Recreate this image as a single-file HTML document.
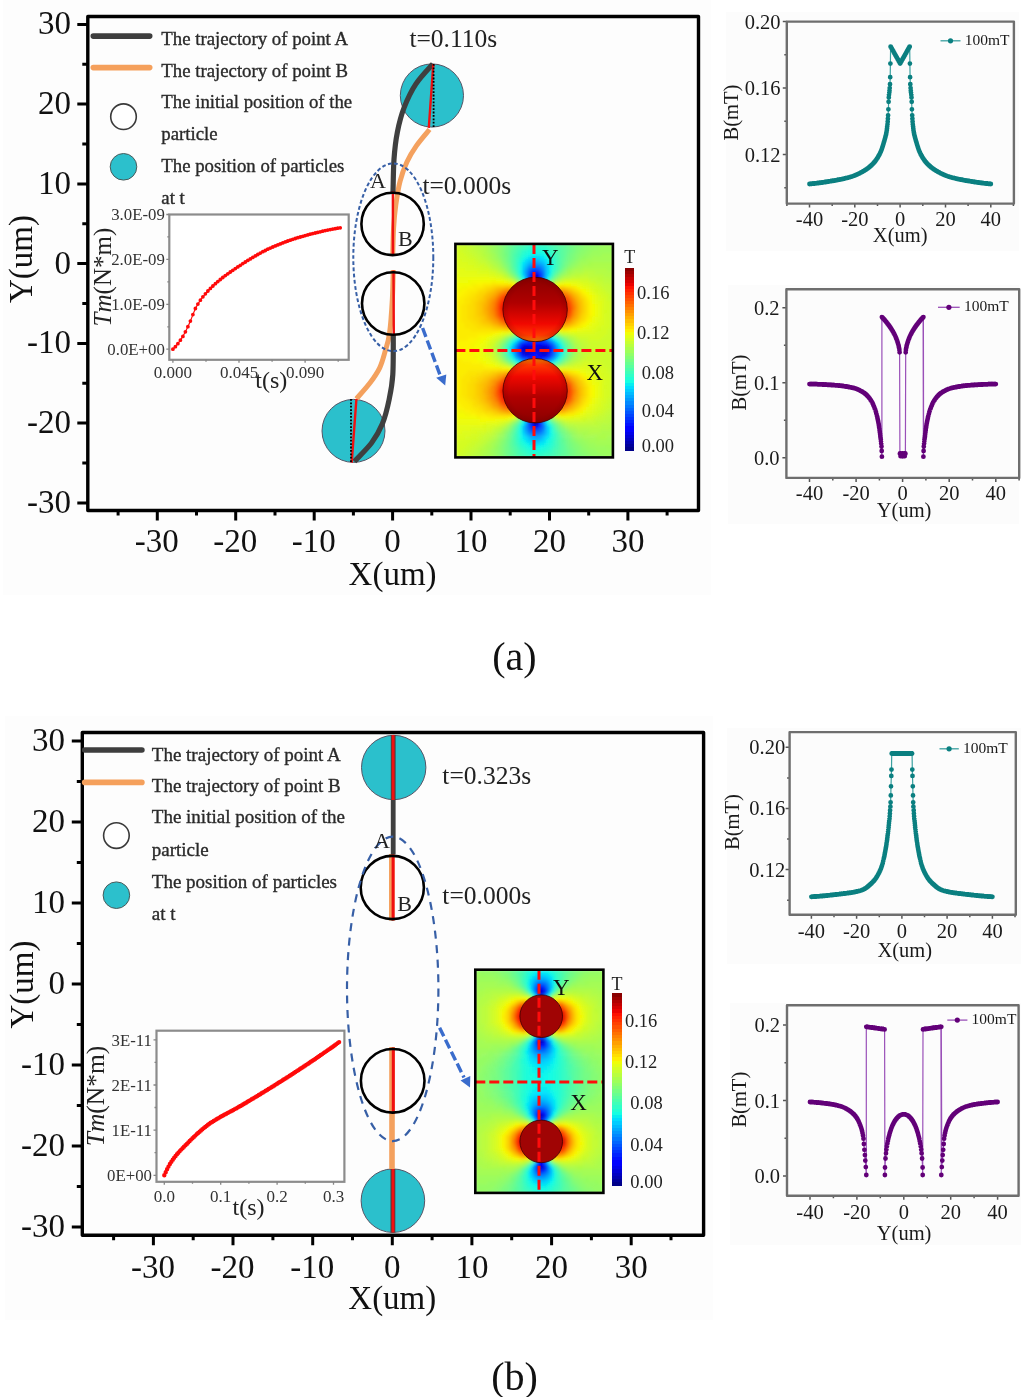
<!DOCTYPE html><html><head><meta charset="utf-8"><style>html,body{margin:0;padding:0;background:#fff}svg{display:block;filter:blur(0.6px)}</style></head><body>
<svg width="1025" height="1397" viewBox="0 0 1025 1397" font-family="Liberation Serif, serif">
<rect width="1025" height="1397" fill="#fff"/>
<rect x="3" y="0" width="708" height="595" fill="#fdfdfd"/>
<rect x="5" y="716" width="708" height="604" fill="#fdfdfd"/>
<path fill="#fcfcfc" d="M726 12H1019V251H726ZM728 285H1019V524H728ZM727 728H1021V964H727ZM730 1003H1021V1245H730Z"/>
<path d="M77.3 502.9H87.8M157.3 510.5V520.5M77.3 423.1H87.8M235.7 510.5V520.5M77.3 343.4H87.8M314.2 510.5V520.5M77.3 263.6H87.8M392.6 510.5V520.5M77.3 183.9H87.8M471 510.5V520.5M77.3 104.1H87.8M549.5 510.5V520.5M77.3 24.4H87.8M627.9 510.5V520.5M82.3 463H87.8M82.3 383.3H87.8M82.3 303.5H87.8M82.3 223.8H87.8M82.3 144H87.8M82.3 64.3H87.8M118.1 510.5V515.5M196.5 510.5V515.5M275 510.5V515.5M353.4 510.5V515.5M431.8 510.5V515.5M510.2 510.5V515.5M588.7 510.5V515.5M667.1 510.5V515.5" stroke="#000" stroke-width="3" fill="none"/>
<rect x="87.8" y="16.5" width="610.7" height="494" fill="none" stroke="#000" stroke-width="3.4" stroke-linejoin="round"/>
<text x="71" y="512.8" font-size="33" text-anchor="end" fill="#111" >-30</text>
<text x="156.8" y="552" font-size="33" text-anchor="middle" fill="#111" >-30</text>
<text x="71" y="433" font-size="33" text-anchor="end" fill="#111" >-20</text>
<text x="235.2" y="552" font-size="33" text-anchor="middle" fill="#111" >-20</text>
<text x="71" y="353.3" font-size="33" text-anchor="end" fill="#111" >-10</text>
<text x="313.7" y="552" font-size="33" text-anchor="middle" fill="#111" >-10</text>
<text x="71" y="273.5" font-size="33" text-anchor="end" fill="#111" >0</text>
<text x="392.6" y="552" font-size="33" text-anchor="middle" fill="#111" >0</text>
<text x="71" y="193.8" font-size="33" text-anchor="end" fill="#111" >10</text>
<text x="471" y="552" font-size="33" text-anchor="middle" fill="#111" >10</text>
<text x="71" y="114" font-size="33" text-anchor="end" fill="#111" >20</text>
<text x="549.5" y="552" font-size="33" text-anchor="middle" fill="#111" >20</text>
<text x="71" y="34.3" font-size="33" text-anchor="end" fill="#111" >30</text>
<text x="627.9" y="552" font-size="33" text-anchor="middle" fill="#111" >30</text>
<text x="392.6" y="584.5" font-size="33" text-anchor="middle" fill="#111" >X(um)</text>
<text transform="translate(32,259) rotate(-90)" font-size="33" text-anchor="middle" fill="#111">Y(um)</text>
<path d="M93.3 36.1H149.7" stroke="#3e3e3e" stroke-width="5.6" stroke-linecap="round"/>
<path d="M93.3 67.6H149.7" stroke="#f5a05c" stroke-width="5.6" stroke-linecap="round"/>
<circle cx="123.5" cy="116.7" r="12.8" fill="#fff" stroke="#3a3a3a" stroke-width="1.6"/>
<circle cx="123.5" cy="166.8" r="13.3" fill="#2cc0cc" stroke="#4a5a5a" stroke-width="1"/>
<text x="161.3" y="45.2" font-size="18.8" text-anchor="start" fill="#2a2a2a" stroke="#2a2a2a" stroke-width="0.35">The trajectory of point A</text>
<text x="161.3" y="76.9" font-size="18.8" text-anchor="start" fill="#2a2a2a" stroke="#2a2a2a" stroke-width="0.35">The trajectory of point B</text>
<text x="161.3" y="107.9" font-size="18.8" text-anchor="start" fill="#2a2a2a" stroke="#2a2a2a" stroke-width="0.35">The initial position of the</text>
<text x="161.3" y="139.6" font-size="18.8" text-anchor="start" fill="#2a2a2a" stroke="#2a2a2a" stroke-width="0.35">particle</text>
<text x="161.3" y="171.7" font-size="18.8" text-anchor="start" fill="#2a2a2a" stroke="#2a2a2a" stroke-width="0.35">The position of particles</text>
<text x="161.3" y="203.6" font-size="18.8" text-anchor="start" fill="#2a2a2a" stroke="#2a2a2a" stroke-width="0.35">at t</text>
<path d="M71.8 1227.1H82.3M153.4 1235.3V1245.3M71.8 1146.1H82.3M233 1235.3V1245.3M71.8 1065H82.3M312.7 1235.3V1245.3M71.8 984H82.3M392.3 1235.3V1245.3M71.8 903H82.3M471.9 1235.3V1245.3M71.8 821.9H82.3M551.6 1235.3V1245.3M71.8 740.9H82.3M631.2 1235.3V1245.3M76.8 1186.6H82.3M76.8 1105.5H82.3M76.8 1024.5H82.3M76.8 943.5H82.3M76.8 862.5H82.3M76.8 781.4H82.3M113.6 1235.3V1240.3M193.2 1235.3V1240.3M272.9 1235.3V1240.3M352.5 1235.3V1240.3M432.1 1235.3V1240.3M511.7 1235.3V1240.3M591.4 1235.3V1240.3M671 1235.3V1240.3" stroke="#000" stroke-width="3" fill="none"/>
<rect x="82.3" y="732.5" width="621.3" height="502.8" fill="none" stroke="#000" stroke-width="3.4" stroke-linejoin="round"/>
<text x="65" y="1237" font-size="33" text-anchor="end" fill="#111" >-30</text>
<text x="152.9" y="1278" font-size="33" text-anchor="middle" fill="#111" >-30</text>
<text x="65" y="1156" font-size="33" text-anchor="end" fill="#111" >-20</text>
<text x="232.5" y="1278" font-size="33" text-anchor="middle" fill="#111" >-20</text>
<text x="65" y="1074.9" font-size="33" text-anchor="end" fill="#111" >-10</text>
<text x="312.2" y="1278" font-size="33" text-anchor="middle" fill="#111" >-10</text>
<text x="65" y="993.9" font-size="33" text-anchor="end" fill="#111" >0</text>
<text x="392.3" y="1278" font-size="33" text-anchor="middle" fill="#111" >0</text>
<text x="65" y="912.9" font-size="33" text-anchor="end" fill="#111" >10</text>
<text x="471.9" y="1278" font-size="33" text-anchor="middle" fill="#111" >10</text>
<text x="65" y="831.8" font-size="33" text-anchor="end" fill="#111" >20</text>
<text x="551.6" y="1278" font-size="33" text-anchor="middle" fill="#111" >20</text>
<text x="65" y="750.8" font-size="33" text-anchor="end" fill="#111" >30</text>
<text x="631.2" y="1278" font-size="33" text-anchor="middle" fill="#111" >30</text>
<text x="392.3" y="1308.5" font-size="33" text-anchor="middle" fill="#111" >X(um)</text>
<text transform="translate(33,984.5) rotate(-90)" font-size="33" text-anchor="middle" fill="#111">Y(um)</text>
<path d="M84.7 750H141.9" stroke="#3e3e3e" stroke-width="5.6" stroke-linecap="round"/>
<path d="M84.7 782.4H141.9" stroke="#f5a05c" stroke-width="5.6" stroke-linecap="round"/>
<circle cx="116.4" cy="835.6" r="12.8" fill="#fff" stroke="#3a3a3a" stroke-width="1.6"/>
<circle cx="116.4" cy="895.2" r="13.3" fill="#2cc0cc" stroke="#4a5a5a" stroke-width="1"/>
<text x="151.8" y="760.6" font-size="19" text-anchor="start" fill="#2a2a2a" stroke="#2a2a2a" stroke-width="0.35">The trajectory of point A</text>
<text x="151.8" y="791.6" font-size="19" text-anchor="start" fill="#2a2a2a" stroke="#2a2a2a" stroke-width="0.35">The trajectory of point B</text>
<text x="151.8" y="823.3" font-size="19" text-anchor="start" fill="#2a2a2a" stroke="#2a2a2a" stroke-width="0.35">The initial position of the</text>
<text x="151.8" y="856.2" font-size="19" text-anchor="start" fill="#2a2a2a" stroke="#2a2a2a" stroke-width="0.35">particle</text>
<text x="151.8" y="887.8" font-size="19" text-anchor="start" fill="#2a2a2a" stroke="#2a2a2a" stroke-width="0.35">The position of particles</text>
<text x="151.8" y="920.4" font-size="19" text-anchor="start" fill="#2a2a2a" stroke="#2a2a2a" stroke-width="0.35">at t</text>
<path d="M782.8 154.5H786.8M782.8 88H786.8M782.8 21.6H786.8M784.3 187.7H786.8M784.3 121.3H786.8M784.3 54.8H786.8M809.5 203.6V207.6M854.8 203.6V207.6M900.1 203.6V207.6M945.5 203.6V207.6M990.8 203.6V207.6M786.9 203.6V206.1M832.2 203.6V206.1M877.5 203.6V206.1M922.8 203.6V206.1M968.1 203.6V206.1M1013.4 203.6V206.1" stroke="#555" stroke-width="1.5" fill="none"/>
<rect x="786.8" y="21.6" width="227.1" height="182" fill="none" stroke="#6e6e6e" stroke-width="2.4" stroke-linejoin="round"/>
<text x="780.5" y="161.5" font-size="20.5" text-anchor="end" fill="#1a1a1a" >0.12</text>
<text x="780.5" y="95" font-size="20.5" text-anchor="end" fill="#1a1a1a" >0.16</text>
<text x="780.5" y="28.6" font-size="20.5" text-anchor="end" fill="#1a1a1a" >0.20</text>
<text x="809.5" y="226" font-size="20.5" text-anchor="middle" fill="#1a1a1a" >-40</text>
<text x="854.8" y="226" font-size="20.5" text-anchor="middle" fill="#1a1a1a" >-20</text>
<text x="900.1" y="226" font-size="20.5" text-anchor="middle" fill="#1a1a1a" >0</text>
<text x="945.5" y="226" font-size="20.5" text-anchor="middle" fill="#1a1a1a" >20</text>
<text x="990.8" y="226" font-size="20.5" text-anchor="middle" fill="#1a1a1a" >40</text>
<text x="900.2" y="241.5" font-size="20.5" text-anchor="middle" fill="#1a1a1a" >X(um)</text>
<text transform="translate(737.6,112.5) rotate(-90)" font-size="20.5" text-anchor="middle" fill="#1a1a1a">B(mT)</text>
<path d="M940.5 40.8H960.5" stroke="#3aa0a0" stroke-width="1.3"/>
<circle cx="950.5" cy="40.8" r="2.6" fill="#0a7f80"/>
<text x="964.7" y="44.6" font-size="15.5" text-anchor="start" fill="#1a1a1a" >100mT</text>
<path d="M809.5 184L810.1 183.9L810.6 183.9L811.2 183.8L811.8 183.8L812.3 183.7L812.9 183.7L813.5 183.6L814 183.5L814.6 183.5L815.2 183.4L815.7 183.4L816.3 183.3L816.9 183.2L817.4 183.2L818 183.1L818.6 183L819.1 182.9L819.7 182.9L820.3 182.8L820.8 182.7L821.4 182.6L822 182.5L822.5 182.5L823.1 182.4L823.7 182.3L824.2 182.2L824.8 182.1L825.4 182L825.9 182L826.5 181.9L827.1 181.8L827.6 181.7L828.2 181.6L828.8 181.5L829.3 181.4L829.9 181.3L830.5 181.2L831 181.1L831.6 181L832.2 180.9L832.7 180.9L833.3 180.8L833.9 180.7L834.4 180.6L835 180.5L835.6 180.4L836.1 180.3L836.7 180.2L837.3 180L837.8 179.9L838.4 179.8L839 179.7L839.5 179.6L840.1 179.5L840.7 179.4L841.2 179.3L841.8 179.1L842.4 179L842.9 178.9L843.5 178.8L844.1 178.6L844.6 178.5L845.2 178.4L845.8 178.2L846.3 178.1L846.9 177.9L847.5 177.8L848 177.6L848.6 177.5L849.2 177.3L849.7 177.2L850.3 177L850.9 176.8L851.4 176.6L852 176.5L852.6 176.3L853.1 176.1L853.7 175.9L854.3 175.7L854.8 175.4L855.4 175.2L856 175L856.5 174.7L857.1 174.5L857.7 174.2L858.2 173.9L858.8 173.7L859.4 173.4L859.9 173.1L860.5 172.8L861.1 172.5L861.6 172.2L862.2 171.9L862.8 171.6L863.3 171.2L863.9 170.9L864.5 170.6L865 170.2L865.6 169.8L866.2 169.5L866.7 169.1L867.3 168.7L867.9 168.3L868.4 167.8L869 167.4L869.6 166.9L870.1 166.4L870.7 165.9L871.3 165.4L871.8 164.9L872.4 164.3L873 163.8L873.5 163.2L874.1 162.5L874.7 161.9L875.2 161.2L875.8 160.4L876.4 159.6L876.9 158.8L877.5 157.9L878.1 157L878.6 156L879.2 155L879.8 153.9L880.3 152.7L880.9 151.5L881.5 150L882 148.4L882.2 147.7L882.5 147L882.7 146.3L882.9 145.6L883.2 144.8L883.4 144.1L883.6 143.3L883.8 142.5L884.1 141.8L884.3 141L884.5 140.2L884.7 139.4L885 138.6L885.2 137.8L885.4 137L885.6 136.1L885.9 135.2L886.1 134.2L886.3 133L886.6 131.7L886.8 130.2L887 128.5L887.2 126.6L887.5 124.3L887.7 121.7L887.9 118.7L888.1 115.3L888.4 109.3L888.6 101.8L888.8 97.4L889 94.7L889.3 92.6L889.5 90.7L889.7 88.1L890 84.2L890.2 77.2L890.4 63.6L890.6 46.7L890.9 47.1L891.1 47.5L891.3 47.9L891.5 48.3L891.8 48.7L892 49.1L892.2 49.5L892.4 49.9L892.7 50.3L892.9 50.7L893.1 51.1L893.4 51.5L893.6 51.9L893.8 52.4L894 52.8L894.3 53.2L894.5 53.6L894.7 54L894.9 54.4L895.2 54.8L895.4 55.2L895.6 55.6L895.8 56L896.1 56.4L896.3 56.8L896.5 57.2L896.8 57.6L897 58L897.2 58.4L897.4 58.8L897.7 59.2L897.9 59.6L898.1 60L898.3 60.4L898.6 60.8L898.8 61.2L899 61.6L899.2 62L899.5 62.4L899.7 62.8L899.9 63.2L900.1 63.6L900.4 63.2L900.6 62.8L900.8 62.4L901.1 62L901.3 61.6L901.5 61.2L901.7 60.8L902 60.4L902.2 60L902.4 59.6L902.6 59.2L902.9 58.8L903.1 58.4L903.3 58L903.5 57.6L903.8 57.2L904 56.8L904.2 56.4L904.5 56L904.7 55.6L904.9 55.2L905.1 54.8L905.4 54.4L905.6 54L905.8 53.6L906 53.2L906.3 52.8L906.5 52.4L906.7 51.9L906.9 51.5L907.2 51.1L907.4 50.7L907.6 50.3L907.9 49.9L908.1 49.5L908.3 49.1L908.5 48.7L908.8 48.3L909 47.9L909.2 47.5L909.4 47.1L909.7 46.7L909.9 63.6L910.1 77.2L910.3 84.2L910.6 88.1L910.8 90.7L911 92.6L911.3 94.7L911.5 97.4L911.7 101.8L911.9 109.3L912.2 115.3L912.4 118.7L912.6 121.7L912.8 124.3L913.1 126.6L913.3 128.5L913.5 130.2L913.7 131.7L914 133L914.2 134.2L914.4 135.2L914.7 136.1L914.9 137L915.1 137.8L915.3 138.6L915.6 139.4L915.8 140.2L916 141L916.2 141.8L916.5 142.5L916.7 143.3L916.9 144.1L917.1 144.8L917.4 145.6L917.6 146.3L917.8 147L918.1 147.7L918.3 148.4L918.8 150L919.4 151.5L920 152.7L920.5 153.9L921.1 155L921.7 156L922.2 157L922.8 157.9L923.4 158.8L923.9 159.6L924.5 160.4L925.1 161.2L925.6 161.9L926.2 162.5L926.8 163.2L927.3 163.8L927.9 164.3L928.5 164.9L929 165.4L929.6 165.9L930.2 166.4L930.7 166.9L931.3 167.4L931.9 167.8L932.4 168.3L933 168.7L933.6 169.1L934.1 169.5L934.7 169.8L935.3 170.2L935.8 170.6L936.4 170.9L937 171.2L937.5 171.6L938.1 171.9L938.7 172.2L939.2 172.5L939.8 172.8L940.4 173.1L940.9 173.4L941.5 173.7L942.1 173.9L942.6 174.2L943.2 174.5L943.8 174.7L944.3 175L944.9 175.2L945.5 175.4L946 175.7L946.6 175.9L947.2 176.1L947.7 176.3L948.3 176.5L948.9 176.6L949.4 176.8L950 177L950.6 177.2L951.1 177.3L951.7 177.5L952.3 177.6L952.8 177.8L953.4 177.9L954 178.1L954.5 178.2L955.1 178.4L955.7 178.5L956.2 178.6L956.8 178.8L957.4 178.9L957.9 179L958.5 179.1L959.1 179.3L959.6 179.4L960.2 179.5L960.8 179.6L961.3 179.7L961.9 179.8L962.5 179.9L963 180L963.6 180.2L964.2 180.3L964.7 180.4L965.3 180.5L965.9 180.6L966.4 180.7L967 180.8L967.6 180.9L968.1 180.9L968.7 181L969.3 181.1L969.8 181.2L970.4 181.3L971 181.4L971.5 181.5L972.1 181.6L972.7 181.7L973.2 181.8L973.8 181.9L974.4 182L974.9 182L975.5 182.1L976.1 182.2L976.6 182.3L977.2 182.4L977.8 182.5L978.3 182.5L978.9 182.6L979.5 182.7L980 182.8L980.6 182.9L981.2 182.9L981.7 183L982.3 183.1L982.9 183.2L983.4 183.2L984 183.3L984.6 183.4L985.1 183.4L985.7 183.5L986.3 183.5L986.8 183.6L987.4 183.7L988 183.7L988.5 183.8L989.1 183.8L989.7 183.9L990.2 183.9L990.8 184" stroke="#3aa0a0" stroke-width="1.2" fill="none"/>
<path d="M809.5 184h0M810.1 183.9h0M810.6 183.9h0M811.2 183.8h0M811.8 183.8h0M812.3 183.7h0M812.9 183.7h0M813.5 183.6h0M814 183.5h0M814.6 183.5h0M815.2 183.4h0M815.7 183.4h0M816.3 183.3h0M816.9 183.2h0M817.4 183.2h0M818 183.1h0M818.6 183h0M819.1 182.9h0M819.7 182.9h0M820.3 182.8h0M820.8 182.7h0M821.4 182.6h0M822 182.5h0M822.5 182.5h0M823.1 182.4h0M823.7 182.3h0M824.2 182.2h0M824.8 182.1h0M825.4 182h0M825.9 182h0M826.5 181.9h0M827.1 181.8h0M827.6 181.7h0M828.2 181.6h0M828.8 181.5h0M829.3 181.4h0M829.9 181.3h0M830.5 181.2h0M831 181.1h0M831.6 181h0M832.2 180.9h0M832.7 180.9h0M833.3 180.8h0M833.9 180.7h0M834.4 180.6h0M835 180.5h0M835.6 180.4h0M836.1 180.3h0M836.7 180.2h0M837.3 180h0M837.8 179.9h0M838.4 179.8h0M839 179.7h0M839.5 179.6h0M840.1 179.5h0M840.7 179.4h0M841.2 179.3h0M841.8 179.1h0M842.4 179h0M842.9 178.9h0M843.5 178.8h0M844.1 178.6h0M844.6 178.5h0M845.2 178.4h0M845.8 178.2h0M846.3 178.1h0M846.9 177.9h0M847.5 177.8h0M848 177.6h0M848.6 177.5h0M849.2 177.3h0M849.7 177.2h0M850.3 177h0M850.9 176.8h0M851.4 176.6h0M852 176.5h0M852.6 176.3h0M853.1 176.1h0M853.7 175.9h0M854.3 175.7h0M854.8 175.4h0M855.4 175.2h0M856 175h0M856.5 174.7h0M857.1 174.5h0M857.7 174.2h0M858.2 173.9h0M858.8 173.7h0M859.4 173.4h0M859.9 173.1h0M860.5 172.8h0M861.1 172.5h0M861.6 172.2h0M862.2 171.9h0M862.8 171.6h0M863.3 171.2h0M863.9 170.9h0M864.5 170.6h0M865 170.2h0M865.6 169.8h0M866.2 169.5h0M866.7 169.1h0M867.3 168.7h0M867.9 168.3h0M868.4 167.8h0M869 167.4h0M869.6 166.9h0M870.1 166.4h0M870.7 165.9h0M871.3 165.4h0M871.8 164.9h0M872.4 164.3h0M873 163.8h0M873.5 163.2h0M874.1 162.5h0M874.7 161.9h0M875.2 161.2h0M875.8 160.4h0M876.4 159.6h0M876.9 158.8h0M877.5 157.9h0M878.1 157h0M878.6 156h0M879.2 155h0M879.8 153.9h0M880.3 152.7h0M880.9 151.5h0M881.5 150h0M882 148.4h0M882.2 147.7h0M882.5 147h0M882.7 146.3h0M882.9 145.6h0M883.2 144.8h0M883.4 144.1h0M883.6 143.3h0M883.8 142.5h0M884.1 141.8h0M884.3 141h0M884.5 140.2h0M884.7 139.4h0M885 138.6h0M885.2 137.8h0M885.4 137h0M885.6 136.1h0M885.9 135.2h0M886.1 134.2h0M886.3 133h0M886.6 131.7h0M886.8 130.2h0M887 128.5h0M887.2 126.6h0M887.5 124.3h0M887.7 121.7h0M887.9 118.7h0M888.1 115.3h0M888.4 109.3h0M888.6 101.8h0M888.8 97.4h0M889 94.7h0M889.3 92.6h0M889.5 90.7h0M889.7 88.1h0M890 84.2h0M890.2 77.2h0M890.4 63.6h0M890.6 46.7h0M890.9 47.1h0M891.1 47.5h0M891.3 47.9h0M891.5 48.3h0M891.8 48.7h0M892 49.1h0M892.2 49.5h0M892.4 49.9h0M892.7 50.3h0M892.9 50.7h0M893.1 51.1h0M893.4 51.5h0M893.6 51.9h0M893.8 52.4h0M894 52.8h0M894.3 53.2h0M894.5 53.6h0M894.7 54h0M894.9 54.4h0M895.2 54.8h0M895.4 55.2h0M895.6 55.6h0M895.8 56h0M896.1 56.4h0M896.3 56.8h0M896.5 57.2h0M896.8 57.6h0M897 58h0M897.2 58.4h0M897.4 58.8h0M897.7 59.2h0M897.9 59.6h0M898.1 60h0M898.3 60.4h0M898.6 60.8h0M898.8 61.2h0M899 61.6h0M899.2 62h0M899.5 62.4h0M899.7 62.8h0M899.9 63.2h0M900.1 63.6h0M900.4 63.2h0M900.6 62.8h0M900.8 62.4h0M901.1 62h0M901.3 61.6h0M901.5 61.2h0M901.7 60.8h0M902 60.4h0M902.2 60h0M902.4 59.6h0M902.6 59.2h0M902.9 58.8h0M903.1 58.4h0M903.3 58h0M903.5 57.6h0M903.8 57.2h0M904 56.8h0M904.2 56.4h0M904.5 56h0M904.7 55.6h0M904.9 55.2h0M905.1 54.8h0M905.4 54.4h0M905.6 54h0M905.8 53.6h0M906 53.2h0M906.3 52.8h0M906.5 52.4h0M906.7 51.9h0M906.9 51.5h0M907.2 51.1h0M907.4 50.7h0M907.6 50.3h0M907.9 49.9h0M908.1 49.5h0M908.3 49.1h0M908.5 48.7h0M908.8 48.3h0M909 47.9h0M909.2 47.5h0M909.4 47.1h0M909.7 46.7h0M909.9 63.6h0M910.1 77.2h0M910.3 84.2h0M910.6 88.1h0M910.8 90.7h0M911 92.6h0M911.3 94.7h0M911.5 97.4h0M911.7 101.8h0M911.9 109.3h0M912.2 115.3h0M912.4 118.7h0M912.6 121.7h0M912.8 124.3h0M913.1 126.6h0M913.3 128.5h0M913.5 130.2h0M913.7 131.7h0M914 133h0M914.2 134.2h0M914.4 135.2h0M914.7 136.1h0M914.9 137h0M915.1 137.8h0M915.3 138.6h0M915.6 139.4h0M915.8 140.2h0M916 141h0M916.2 141.8h0M916.5 142.5h0M916.7 143.3h0M916.9 144.1h0M917.1 144.8h0M917.4 145.6h0M917.6 146.3h0M917.8 147h0M918.1 147.7h0M918.3 148.4h0M918.8 150h0M919.4 151.5h0M920 152.7h0M920.5 153.9h0M921.1 155h0M921.7 156h0M922.2 157h0M922.8 157.9h0M923.4 158.8h0M923.9 159.6h0M924.5 160.4h0M925.1 161.2h0M925.6 161.9h0M926.2 162.5h0M926.8 163.2h0M927.3 163.8h0M927.9 164.3h0M928.5 164.9h0M929 165.4h0M929.6 165.9h0M930.2 166.4h0M930.7 166.9h0M931.3 167.4h0M931.9 167.8h0M932.4 168.3h0M933 168.7h0M933.6 169.1h0M934.1 169.5h0M934.7 169.8h0M935.3 170.2h0M935.8 170.6h0M936.4 170.9h0M937 171.2h0M937.5 171.6h0M938.1 171.9h0M938.7 172.2h0M939.2 172.5h0M939.8 172.8h0M940.4 173.1h0M940.9 173.4h0M941.5 173.7h0M942.1 173.9h0M942.6 174.2h0M943.2 174.5h0M943.8 174.7h0M944.3 175h0M944.9 175.2h0M945.5 175.4h0M946 175.7h0M946.6 175.9h0M947.2 176.1h0M947.7 176.3h0M948.3 176.5h0M948.9 176.6h0M949.4 176.8h0M950 177h0M950.6 177.2h0M951.1 177.3h0M951.7 177.5h0M952.3 177.6h0M952.8 177.8h0M953.4 177.9h0M954 178.1h0M954.5 178.2h0M955.1 178.4h0M955.7 178.5h0M956.2 178.6h0M956.8 178.8h0M957.4 178.9h0M957.9 179h0M958.5 179.1h0M959.1 179.3h0M959.6 179.4h0M960.2 179.5h0M960.8 179.6h0M961.3 179.7h0M961.9 179.8h0M962.5 179.9h0M963 180h0M963.6 180.2h0M964.2 180.3h0M964.7 180.4h0M965.3 180.5h0M965.9 180.6h0M966.4 180.7h0M967 180.8h0M967.6 180.9h0M968.1 180.9h0M968.7 181h0M969.3 181.1h0M969.8 181.2h0M970.4 181.3h0M971 181.4h0M971.5 181.5h0M972.1 181.6h0M972.7 181.7h0M973.2 181.8h0M973.8 181.9h0M974.4 182h0M974.9 182h0M975.5 182.1h0M976.1 182.2h0M976.6 182.3h0M977.2 182.4h0M977.8 182.5h0M978.3 182.5h0M978.9 182.6h0M979.5 182.7h0M980 182.8h0M980.6 182.9h0M981.2 182.9h0M981.7 183h0M982.3 183.1h0M982.9 183.2h0M983.4 183.2h0M984 183.3h0M984.6 183.4h0M985.1 183.4h0M985.7 183.5h0M986.3 183.5h0M986.8 183.6h0M987.4 183.7h0M988 183.7h0M988.5 183.8h0M989.1 183.8h0M989.7 183.9h0M990.2 183.9h0M990.8 184h0" stroke="#0a7f80" stroke-width="4.8" stroke-linecap="round" fill="none"/>
<path d="M782.4 457.8H786.4M782.4 382.8H786.4M782.4 307.8H786.4M783.9 420.3H786.4M783.9 345.3H786.4M809.5 477.9V481.9M856.1 477.9V481.9M902.6 477.9V481.9M949.2 477.9V481.9M995.8 477.9V481.9M832.8 477.9V480.4M879.4 477.9V480.4M925.9 477.9V480.4M972.5 477.9V480.4M1019.1 477.9V480.4" stroke="#555" stroke-width="1.5" fill="none"/>
<rect x="786.4" y="289.2" width="232.8" height="188.7" fill="none" stroke="#6e6e6e" stroke-width="2.4" stroke-linejoin="round"/>
<text x="779.5" y="464.8" font-size="20.5" text-anchor="end" fill="#1a1a1a" >0.0</text>
<text x="779.5" y="389.8" font-size="20.5" text-anchor="end" fill="#1a1a1a" >0.1</text>
<text x="779.5" y="314.8" font-size="20.5" text-anchor="end" fill="#1a1a1a" >0.2</text>
<text x="809.5" y="500" font-size="20.5" text-anchor="middle" fill="#1a1a1a" >-40</text>
<text x="856.1" y="500" font-size="20.5" text-anchor="middle" fill="#1a1a1a" >-20</text>
<text x="902.6" y="500" font-size="20.5" text-anchor="middle" fill="#1a1a1a" >0</text>
<text x="949.2" y="500" font-size="20.5" text-anchor="middle" fill="#1a1a1a" >20</text>
<text x="995.8" y="500" font-size="20.5" text-anchor="middle" fill="#1a1a1a" >40</text>
<text x="904.1" y="517" font-size="20.5" text-anchor="middle" fill="#1a1a1a" >Y(um)</text>
<text transform="translate(745.5,382.5) rotate(-90)" font-size="20.5" text-anchor="middle" fill="#1a1a1a">B(mT)</text>
<path d="M938 307.3H959.7" stroke="#9a50b8" stroke-width="1.3"/>
<circle cx="948.9" cy="307.3" r="2.6" fill="#620078"/>
<text x="963.9" y="311.1" font-size="15.5" text-anchor="start" fill="#1a1a1a" >100mT</text>
<path d="M809.5 384.1L810.1 384.1L810.7 384.1L811.2 384.1L811.8 384.1L812.4 384.1L813 384.1L813.6 384.1L814.1 384.1L814.7 384.2L815.3 384.2L815.9 384.2L816.5 384.2L817.1 384.2L817.6 384.3L818.2 384.3L818.8 384.3L819.4 384.3L820 384.3L820.6 384.4L821.1 384.4L821.7 384.4L822.3 384.5L822.9 384.5L823.5 384.5L824 384.5L824.6 384.6L825.2 384.6L825.8 384.6L826.4 384.7L827 384.7L827.5 384.8L828.1 384.8L828.7 384.8L829.3 384.9L829.9 384.9L830.5 384.9L831 385L831.6 385L832.2 385.1L832.8 385.1L833.4 385.1L833.9 385.2L834.5 385.2L835.1 385.3L835.7 385.3L836.3 385.3L836.9 385.4L837.4 385.4L838 385.5L838.6 385.6L839.2 385.6L839.8 385.7L840.3 385.7L840.9 385.8L841.5 385.9L842.1 385.9L842.7 386L843.3 386.1L843.8 386.2L844.4 386.3L845 386.4L845.6 386.5L846.2 386.5L846.8 386.6L847.3 386.7L847.9 386.9L848.5 387L849.1 387.1L849.7 387.2L850.2 387.3L850.8 387.4L851.4 387.6L852 387.7L852.6 387.8L853.2 387.9L853.7 388.1L854.3 388.2L854.9 388.4L855.5 388.6L856.1 388.8L856.7 389L857.2 389.2L857.8 389.5L858.4 389.7L859 390L859.6 390.3L860.1 390.6L860.7 390.9L861.3 391.2L861.9 391.5L862.5 391.9L863.1 392.3L863.6 392.6L864.2 393L864.8 393.4L865.4 393.9L866 394.4L866.6 395L867.1 395.6L867.7 396.2L868.3 396.8L868.9 397.6L869.5 398.3L870 399.1L870.6 399.9L871.2 400.8L871.8 401.8L872.4 402.9L873 404.1L873.5 405.4L874.1 406.8L874.7 408.4L875.3 410L875.9 411.8L876.4 413.8L877 416.1L877.3 417.1L877.5 418.2L877.7 419.3L878 420.4L878.2 421.6L878.4 422.8L878.7 424.1L878.9 425.4L879.1 426.9L879.4 428.6L879.6 430.3L879.8 432.1L880.1 434L880.3 435.9L880.5 437.7L880.8 439.4L881 441.3L881.2 443.6L881.5 446.5L881.7 451L881.9 456.7L881.9 317.1L882.2 317.4L882.4 317.6L882.6 317.9L882.9 318.1L883.1 318.4L883.3 318.6L883.6 318.9L883.8 319.2L884 319.4L884.3 319.7L884.5 320L884.7 320.2L884.9 320.5L885.2 320.8L885.4 321.1L885.6 321.3L885.9 321.6L886.1 321.9L886.3 322.2L886.6 322.5L886.8 322.8L887 323.1L887.3 323.4L887.5 323.7L887.7 324L888 324.3L888.2 324.6L888.4 324.9L888.7 325.2L888.9 325.5L889.1 325.9L889.4 326.2L889.6 326.5L889.8 326.9L890.1 327.2L890.3 327.5L890.5 327.9L890.8 328.2L891 328.6L891.2 329L891.5 329.3L891.7 329.7L891.9 330.1L892.2 330.4L892.4 330.8L892.6 331.2L892.9 331.6L893.1 332L893.3 332.4L893.6 332.9L893.8 333.3L894 333.7L894.3 334.2L894.5 334.6L894.7 335.1L895 335.6L895.2 336.1L895.4 336.6L895.7 337.1L895.9 337.6L896.1 338.2L896.4 338.7L896.6 339.3L896.8 339.9L897.1 340.6L897.3 341.2L897.5 341.9L897.8 342.7L898 343.4L898.2 344.3L898.5 345.1L898.7 346.1L898.9 347.2L899.2 348.5L899.4 350.1L899.6 352.3L899.9 453.7L900.1 453.3L900.3 454.3L900.6 456.2L900.8 454.4L901 453.4L901.3 453.7L901.5 455.2L901.7 455.3L902 453.7L902.2 453.3L902.4 454.4L902.6 456.3L902.9 454.4L903.1 453.3L903.3 453.7L903.6 455.3L903.8 455.2L904 453.7L904.3 453.4L904.5 454.4L904.7 456.2L905 454.3L905.2 453.3L905.4 453.7L905.7 352.3L905.9 350.1L906.1 348.5L906.4 347.2L906.6 346.1L906.8 345.1L907.1 344.3L907.3 343.4L907.5 342.7L907.8 341.9L908 341.2L908.2 340.6L908.5 339.9L908.7 339.3L908.9 338.7L909.2 338.2L909.4 337.6L909.6 337.1L909.9 336.6L910.1 336.1L910.3 335.6L910.6 335.1L910.8 334.6L911 334.2L911.3 333.7L911.5 333.3L911.7 332.9L912 332.4L912.2 332L912.4 331.6L912.7 331.2L912.9 330.8L913.1 330.4L913.4 330.1L913.6 329.7L913.8 329.3L914.1 329L914.3 328.6L914.5 328.2L914.8 327.9L915 327.5L915.2 327.2L915.5 326.9L915.7 326.5L915.9 326.2L916.2 325.9L916.4 325.5L916.6 325.2L916.9 324.9L917.1 324.6L917.3 324.3L917.6 324L917.8 323.7L918 323.4L918.3 323.1L918.5 322.8L918.7 322.5L919 322.2L919.2 321.9L919.4 321.6L919.7 321.3L919.9 321.1L920.1 320.8L920.4 320.5L920.6 320.2L920.8 320L921 319.7L921.3 319.4L921.5 319.2L921.7 318.9L922 318.6L922.2 318.4L922.4 318.1L922.7 317.9L922.9 317.6L923.1 317.4L923.4 456.7L923.4 317.1L923.6 451L923.8 446.5L924.1 443.6L924.3 441.3L924.5 439.4L924.8 437.7L925 435.9L925.2 434L925.5 432.1L925.7 430.3L925.9 428.6L926.2 426.9L926.4 425.4L926.6 424.1L926.9 422.8L927.1 421.6L927.3 420.4L927.6 419.3L927.8 418.2L928 417.1L928.3 416.1L928.9 413.8L929.4 411.8L930 410L930.6 408.4L931.2 406.8L931.8 405.4L932.3 404.1L932.9 402.9L933.5 401.8L934.1 400.8L934.7 399.9L935.3 399.1L935.8 398.3L936.4 397.6L937 396.8L937.6 396.2L938.2 395.6L938.7 395L939.3 394.4L939.9 393.9L940.5 393.4L941.1 393L941.7 392.6L942.2 392.3L942.8 391.9L943.4 391.5L944 391.2L944.6 390.9L945.2 390.6L945.7 390.3L946.3 390L946.9 389.7L947.5 389.5L948.1 389.2L948.6 389L949.2 388.8L949.8 388.6L950.4 388.4L951 388.2L951.6 388.1L952.1 387.9L952.7 387.8L953.3 387.7L953.9 387.6L954.5 387.4L955.1 387.3L955.6 387.2L956.2 387.1L956.8 387L957.4 386.9L958 386.7L958.5 386.6L959.1 386.5L959.7 386.5L960.3 386.4L960.9 386.3L961.5 386.2L962 386.1L962.6 386L963.2 385.9L963.8 385.9L964.4 385.8L965 385.7L965.5 385.7L966.1 385.6L966.7 385.6L967.3 385.5L967.9 385.4L968.4 385.4L969 385.3L969.6 385.3L970.2 385.3L970.8 385.2L971.4 385.2L971.9 385.1L972.5 385.1L973.1 385.1L973.7 385L974.3 385L974.8 384.9L975.4 384.9L976 384.9L976.6 384.8L977.2 384.8L977.8 384.8L978.3 384.7L978.9 384.7L979.5 384.6L980.1 384.6L980.7 384.6L981.3 384.5L981.8 384.5L982.4 384.5L983 384.5L983.6 384.4L984.2 384.4L984.7 384.4L985.3 384.3L985.9 384.3L986.5 384.3L987.1 384.3L987.7 384.3L988.2 384.2L988.8 384.2L989.4 384.2L990 384.2L990.6 384.2L991.2 384.1L991.7 384.1L992.3 384.1L992.9 384.1L993.5 384.1L994.1 384.1L994.6 384.1L995.2 384.1L995.8 384.1" stroke="#9a50b8" stroke-width="1.2" fill="none"/>
<path d="M809.5 384.1h0M810.1 384.1h0M810.7 384.1h0M811.2 384.1h0M811.8 384.1h0M812.4 384.1h0M813 384.1h0M813.6 384.1h0M814.1 384.1h0M814.7 384.2h0M815.3 384.2h0M815.9 384.2h0M816.5 384.2h0M817.1 384.2h0M817.6 384.3h0M818.2 384.3h0M818.8 384.3h0M819.4 384.3h0M820 384.3h0M820.6 384.4h0M821.1 384.4h0M821.7 384.4h0M822.3 384.5h0M822.9 384.5h0M823.5 384.5h0M824 384.5h0M824.6 384.6h0M825.2 384.6h0M825.8 384.6h0M826.4 384.7h0M827 384.7h0M827.5 384.8h0M828.1 384.8h0M828.7 384.8h0M829.3 384.9h0M829.9 384.9h0M830.5 384.9h0M831 385h0M831.6 385h0M832.2 385.1h0M832.8 385.1h0M833.4 385.1h0M833.9 385.2h0M834.5 385.2h0M835.1 385.3h0M835.7 385.3h0M836.3 385.3h0M836.9 385.4h0M837.4 385.4h0M838 385.5h0M838.6 385.6h0M839.2 385.6h0M839.8 385.7h0M840.3 385.7h0M840.9 385.8h0M841.5 385.9h0M842.1 385.9h0M842.7 386h0M843.3 386.1h0M843.8 386.2h0M844.4 386.3h0M845 386.4h0M845.6 386.5h0M846.2 386.5h0M846.8 386.6h0M847.3 386.7h0M847.9 386.9h0M848.5 387h0M849.1 387.1h0M849.7 387.2h0M850.2 387.3h0M850.8 387.4h0M851.4 387.6h0M852 387.7h0M852.6 387.8h0M853.2 387.9h0M853.7 388.1h0M854.3 388.2h0M854.9 388.4h0M855.5 388.6h0M856.1 388.8h0M856.7 389h0M857.2 389.2h0M857.8 389.5h0M858.4 389.7h0M859 390h0M859.6 390.3h0M860.1 390.6h0M860.7 390.9h0M861.3 391.2h0M861.9 391.5h0M862.5 391.9h0M863.1 392.3h0M863.6 392.6h0M864.2 393h0M864.8 393.4h0M865.4 393.9h0M866 394.4h0M866.6 395h0M867.1 395.6h0M867.7 396.2h0M868.3 396.8h0M868.9 397.6h0M869.5 398.3h0M870 399.1h0M870.6 399.9h0M871.2 400.8h0M871.8 401.8h0M872.4 402.9h0M873 404.1h0M873.5 405.4h0M874.1 406.8h0M874.7 408.4h0M875.3 410h0M875.9 411.8h0M876.4 413.8h0M877 416.1h0M877.3 417.1h0M877.5 418.2h0M877.7 419.3h0M878 420.4h0M878.2 421.6h0M878.4 422.8h0M878.7 424.1h0M878.9 425.4h0M879.1 426.9h0M879.4 428.6h0M879.6 430.3h0M879.8 432.1h0M880.1 434h0M880.3 435.9h0M880.5 437.7h0M880.8 439.4h0M881 441.3h0M881.2 443.6h0M881.5 446.5h0M881.7 451h0M881.9 456.7h0M881.9 317.1h0M882.2 317.4h0M882.4 317.6h0M882.6 317.9h0M882.9 318.1h0M883.1 318.4h0M883.3 318.6h0M883.6 318.9h0M883.8 319.2h0M884 319.4h0M884.3 319.7h0M884.5 320h0M884.7 320.2h0M884.9 320.5h0M885.2 320.8h0M885.4 321.1h0M885.6 321.3h0M885.9 321.6h0M886.1 321.9h0M886.3 322.2h0M886.6 322.5h0M886.8 322.8h0M887 323.1h0M887.3 323.4h0M887.5 323.7h0M887.7 324h0M888 324.3h0M888.2 324.6h0M888.4 324.9h0M888.7 325.2h0M888.9 325.5h0M889.1 325.9h0M889.4 326.2h0M889.6 326.5h0M889.8 326.9h0M890.1 327.2h0M890.3 327.5h0M890.5 327.9h0M890.8 328.2h0M891 328.6h0M891.2 329h0M891.5 329.3h0M891.7 329.7h0M891.9 330.1h0M892.2 330.4h0M892.4 330.8h0M892.6 331.2h0M892.9 331.6h0M893.1 332h0M893.3 332.4h0M893.6 332.9h0M893.8 333.3h0M894 333.7h0M894.3 334.2h0M894.5 334.6h0M894.7 335.1h0M895 335.6h0M895.2 336.1h0M895.4 336.6h0M895.7 337.1h0M895.9 337.6h0M896.1 338.2h0M896.4 338.7h0M896.6 339.3h0M896.8 339.9h0M897.1 340.6h0M897.3 341.2h0M897.5 341.9h0M897.8 342.7h0M898 343.4h0M898.2 344.3h0M898.5 345.1h0M898.7 346.1h0M898.9 347.2h0M899.2 348.5h0M899.4 350.1h0M899.6 352.3h0M899.9 453.7h0M900.1 453.3h0M900.3 454.3h0M900.6 456.2h0M900.8 454.4h0M901 453.4h0M901.3 453.7h0M901.5 455.2h0M901.7 455.3h0M902 453.7h0M902.2 453.3h0M902.4 454.4h0M902.6 456.3h0M902.9 454.4h0M903.1 453.3h0M903.3 453.7h0M903.6 455.3h0M903.8 455.2h0M904 453.7h0M904.3 453.4h0M904.5 454.4h0M904.7 456.2h0M905 454.3h0M905.2 453.3h0M905.4 453.7h0M905.7 352.3h0M905.9 350.1h0M906.1 348.5h0M906.4 347.2h0M906.6 346.1h0M906.8 345.1h0M907.1 344.3h0M907.3 343.4h0M907.5 342.7h0M907.8 341.9h0M908 341.2h0M908.2 340.6h0M908.5 339.9h0M908.7 339.3h0M908.9 338.7h0M909.2 338.2h0M909.4 337.6h0M909.6 337.1h0M909.9 336.6h0M910.1 336.1h0M910.3 335.6h0M910.6 335.1h0M910.8 334.6h0M911 334.2h0M911.3 333.7h0M911.5 333.3h0M911.7 332.9h0M912 332.4h0M912.2 332h0M912.4 331.6h0M912.7 331.2h0M912.9 330.8h0M913.1 330.4h0M913.4 330.1h0M913.6 329.7h0M913.8 329.3h0M914.1 329h0M914.3 328.6h0M914.5 328.2h0M914.8 327.9h0M915 327.5h0M915.2 327.2h0M915.5 326.9h0M915.7 326.5h0M915.9 326.2h0M916.2 325.9h0M916.4 325.5h0M916.6 325.2h0M916.9 324.9h0M917.1 324.6h0M917.3 324.3h0M917.6 324h0M917.8 323.7h0M918 323.4h0M918.3 323.1h0M918.5 322.8h0M918.7 322.5h0M919 322.2h0M919.2 321.9h0M919.4 321.6h0M919.7 321.3h0M919.9 321.1h0M920.1 320.8h0M920.4 320.5h0M920.6 320.2h0M920.8 320h0M921 319.7h0M921.3 319.4h0M921.5 319.2h0M921.7 318.9h0M922 318.6h0M922.2 318.4h0M922.4 318.1h0M922.7 317.9h0M922.9 317.6h0M923.1 317.4h0M923.4 456.7h0M923.4 317.1h0M923.6 451h0M923.8 446.5h0M924.1 443.6h0M924.3 441.3h0M924.5 439.4h0M924.8 437.7h0M925 435.9h0M925.2 434h0M925.5 432.1h0M925.7 430.3h0M925.9 428.6h0M926.2 426.9h0M926.4 425.4h0M926.6 424.1h0M926.9 422.8h0M927.1 421.6h0M927.3 420.4h0M927.6 419.3h0M927.8 418.2h0M928 417.1h0M928.3 416.1h0M928.9 413.8h0M929.4 411.8h0M930 410h0M930.6 408.4h0M931.2 406.8h0M931.8 405.4h0M932.3 404.1h0M932.9 402.9h0M933.5 401.8h0M934.1 400.8h0M934.7 399.9h0M935.3 399.1h0M935.8 398.3h0M936.4 397.6h0M937 396.8h0M937.6 396.2h0M938.2 395.6h0M938.7 395h0M939.3 394.4h0M939.9 393.9h0M940.5 393.4h0M941.1 393h0M941.7 392.6h0M942.2 392.3h0M942.8 391.9h0M943.4 391.5h0M944 391.2h0M944.6 390.9h0M945.2 390.6h0M945.7 390.3h0M946.3 390h0M946.9 389.7h0M947.5 389.5h0M948.1 389.2h0M948.6 389h0M949.2 388.8h0M949.8 388.6h0M950.4 388.4h0M951 388.2h0M951.6 388.1h0M952.1 387.9h0M952.7 387.8h0M953.3 387.7h0M953.9 387.6h0M954.5 387.4h0M955.1 387.3h0M955.6 387.2h0M956.2 387.1h0M956.8 387h0M957.4 386.9h0M958 386.7h0M958.5 386.6h0M959.1 386.5h0M959.7 386.5h0M960.3 386.4h0M960.9 386.3h0M961.5 386.2h0M962 386.1h0M962.6 386h0M963.2 385.9h0M963.8 385.9h0M964.4 385.8h0M965 385.7h0M965.5 385.7h0M966.1 385.6h0M966.7 385.6h0M967.3 385.5h0M967.9 385.4h0M968.4 385.4h0M969 385.3h0M969.6 385.3h0M970.2 385.3h0M970.8 385.2h0M971.4 385.2h0M971.9 385.1h0M972.5 385.1h0M973.1 385.1h0M973.7 385h0M974.3 385h0M974.8 384.9h0M975.4 384.9h0M976 384.9h0M976.6 384.8h0M977.2 384.8h0M977.8 384.8h0M978.3 384.7h0M978.9 384.7h0M979.5 384.6h0M980.1 384.6h0M980.7 384.6h0M981.3 384.5h0M981.8 384.5h0M982.4 384.5h0M983 384.5h0M983.6 384.4h0M984.2 384.4h0M984.7 384.4h0M985.3 384.3h0M985.9 384.3h0M986.5 384.3h0M987.1 384.3h0M987.7 384.3h0M988.2 384.2h0M988.8 384.2h0M989.4 384.2h0M990 384.2h0M990.6 384.2h0M991.2 384.1h0M991.7 384.1h0M992.3 384.1h0M992.9 384.1h0M993.5 384.1h0M994.1 384.1h0M994.6 384.1h0M995.2 384.1h0M995.8 384.1h0" stroke="#620078" stroke-width="4.8" stroke-linecap="round" fill="none"/>
<path d="M785.6 869.6H789.6M785.6 808.5H789.6M785.6 747.3H789.6M787.1 900.2H789.6M787.1 839H789.6M787.1 777.9H789.6M811.4 914.7V918.7M856.6 914.7V918.7M901.9 914.7V918.7M947.1 914.7V918.7M992.4 914.7V918.7M834 914.7V917.2M879.3 914.7V917.2M924.5 914.7V917.2M969.8 914.7V917.2M1015 914.7V917.2" stroke="#555" stroke-width="1.5" fill="none"/>
<rect x="789.6" y="732.1" width="226.2" height="182.6" fill="none" stroke="#6e6e6e" stroke-width="2.4" stroke-linejoin="round"/>
<text x="785.2" y="876.6" font-size="20.5" text-anchor="end" fill="#1a1a1a" >0.12</text>
<text x="785.2" y="815.4" font-size="20.5" text-anchor="end" fill="#1a1a1a" >0.16</text>
<text x="785.2" y="754.3" font-size="20.5" text-anchor="end" fill="#1a1a1a" >0.20</text>
<text x="811.4" y="937.5" font-size="20.5" text-anchor="middle" fill="#1a1a1a" >-40</text>
<text x="856.6" y="937.5" font-size="20.5" text-anchor="middle" fill="#1a1a1a" >-20</text>
<text x="901.9" y="937.5" font-size="20.5" text-anchor="middle" fill="#1a1a1a" >0</text>
<text x="947.1" y="937.5" font-size="20.5" text-anchor="middle" fill="#1a1a1a" >20</text>
<text x="992.4" y="937.5" font-size="20.5" text-anchor="middle" fill="#1a1a1a" >40</text>
<text x="904.8" y="957" font-size="20.5" text-anchor="middle" fill="#1a1a1a" >X(um)</text>
<text transform="translate(739.2,822) rotate(-90)" font-size="20.5" text-anchor="middle" fill="#1a1a1a">B(mT)</text>
<path d="M939.5 748.8H958.8" stroke="#3aa0a0" stroke-width="1.3"/>
<circle cx="949.1" cy="748.8" r="2.6" fill="#0a7f80"/>
<text x="963" y="752.6" font-size="15.5" text-anchor="start" fill="#1a1a1a" >100mT</text>
<path d="M811.4 896.8L812 896.8L812.5 896.7L813.1 896.7L813.7 896.7L814.2 896.6L814.8 896.6L815.4 896.6L815.9 896.5L816.5 896.5L817.1 896.4L817.6 896.4L818.2 896.4L818.8 896.3L819.3 896.3L819.9 896.2L820.4 896.2L821 896.1L821.6 896.1L822.1 896L822.7 896L823.3 895.9L823.8 895.9L824.4 895.8L825 895.8L825.5 895.7L826.1 895.7L826.7 895.6L827.2 895.5L827.8 895.5L828.4 895.4L828.9 895.4L829.5 895.3L830.1 895.2L830.6 895.2L831.2 895.1L831.8 895.1L832.3 895L832.9 894.9L833.5 894.9L834 894.8L834.6 894.7L835.2 894.7L835.7 894.6L836.3 894.5L836.9 894.5L837.4 894.4L838 894.3L838.5 894.3L839.1 894.2L839.7 894.1L840.2 894.1L840.8 894L841.4 893.9L841.9 893.9L842.5 893.8L843.1 893.7L843.6 893.7L844.2 893.6L844.8 893.5L845.3 893.5L845.9 893.4L846.5 893.3L847 893.2L847.6 893.2L848.2 893.1L848.7 893L849.3 892.9L849.9 892.8L850.4 892.8L851 892.7L851.6 892.6L852.1 892.5L852.7 892.4L853.3 892.3L853.8 892.2L854.4 892.1L855 892L855.5 891.9L856.1 891.7L856.6 891.6L857.2 891.5L857.8 891.3L858.3 891.2L858.9 891.1L859.5 890.9L860 890.8L860.6 890.6L861.2 890.4L861.7 890.2L862.3 890L862.9 889.8L863.4 889.5L864 889.2L864.6 888.9L865.1 888.5L865.7 888.2L866.3 887.8L866.8 887.4L867.4 886.9L868 886.5L868.5 886L869.1 885.5L869.7 885L870.2 884.5L870.8 884L871.4 883.5L871.9 882.9L872.5 882.3L873.1 881.7L873.6 881.2L874.2 880.5L874.8 879.8L875.3 879.1L875.9 878.3L876.4 877.5L877 876.6L877.6 875.6L878.1 874.6L878.7 873.5L879.3 872.4L879.8 871.2L880.4 869.9L881 868.5L881.5 867L882.1 865.3L882.7 863.3L883.2 861.1L883.8 858.6L884 857.5L884.3 856.4L884.5 855.3L884.7 854.2L884.9 853L885.2 851.8L885.4 850.6L885.6 849.3L885.8 848.1L886.1 846.7L886.3 845.4L886.5 843.9L886.7 842.4L887 840.7L887.2 839.1L887.4 837.3L887.6 835.5L887.9 833.6L888.1 831.6L888.3 829.6L888.6 827.5L888.8 825.3L889 823.1L889.2 821L889.5 818.7L889.7 816.3L889.9 813.5L890.1 810.3L890.4 806.7L890.6 802.3L890.8 795.4L891 786.3L891.3 775.9L891.5 769.6L891.7 753.6L891.9 753.6L892.2 753.6L892.4 753.6L892.6 753.6L892.9 753.6L893.1 753.6L893.3 753.6L893.5 753.6L893.8 753.6L894 753.6L894.2 753.6L894.4 753.6L894.7 753.6L894.9 753.6L895.1 753.6L895.3 753.6L895.6 753.6L895.8 753.6L896 753.6L896.2 753.6L896.5 753.6L896.7 753.6L896.9 753.6L897.1 753.6L897.4 753.6L897.6 753.6L897.8 753.6L898.1 753.6L898.3 753.6L898.5 753.6L898.7 753.6L899 753.6L899.2 753.6L899.4 753.6L899.6 753.6L899.9 753.6L900.1 753.6L900.3 753.6L900.5 753.6L900.8 753.6L901 753.6L901.2 753.6L901.4 753.6L901.7 753.6L901.9 753.6L902.1 753.6L902.4 753.6L902.6 753.6L902.8 753.6L903 753.6L903.3 753.6L903.5 753.6L903.7 753.6L903.9 753.6L904.2 753.6L904.4 753.6L904.6 753.6L904.8 753.6L905.1 753.6L905.3 753.6L905.5 753.6L905.7 753.6L906 753.6L906.2 753.6L906.4 753.6L906.7 753.6L906.9 753.6L907.1 753.6L907.3 753.6L907.6 753.6L907.8 753.6L908 753.6L908.2 753.6L908.5 753.6L908.7 753.6L908.9 753.6L909.1 753.6L909.4 753.6L909.6 753.6L909.8 753.6L910 753.6L910.3 753.6L910.5 753.6L910.7 753.6L910.9 753.6L911.2 753.6L911.4 753.6L911.6 753.6L911.9 753.6L912.1 753.6L912.3 769.6L912.5 775.9L912.8 786.3L913 795.4L913.2 802.3L913.4 806.7L913.7 810.3L913.9 813.5L914.1 816.3L914.3 818.7L914.6 821L914.8 823.1L915 825.3L915.2 827.5L915.5 829.6L915.7 831.6L915.9 833.6L916.2 835.5L916.4 837.3L916.6 839.1L916.8 840.7L917.1 842.4L917.3 843.9L917.5 845.4L917.7 846.7L918 848.1L918.2 849.3L918.4 850.6L918.6 851.8L918.9 853L919.1 854.2L919.3 855.3L919.5 856.4L919.8 857.5L920 858.6L920.6 861.1L921.1 863.3L921.7 865.3L922.3 867L922.8 868.5L923.4 869.9L924 871.2L924.5 872.4L925.1 873.5L925.7 874.6L926.2 875.6L926.8 876.6L927.4 877.5L927.9 878.3L928.5 879.1L929 879.8L929.6 880.5L930.2 881.2L930.7 881.7L931.3 882.3L931.9 882.9L932.4 883.5L933 884L933.6 884.5L934.1 885L934.7 885.5L935.3 886L935.8 886.5L936.4 886.9L937 887.4L937.5 887.8L938.1 888.2L938.7 888.5L939.2 888.9L939.8 889.2L940.4 889.5L940.9 889.8L941.5 890L942.1 890.2L942.6 890.4L943.2 890.6L943.8 890.8L944.3 890.9L944.9 891.1L945.5 891.2L946 891.3L946.6 891.5L947.1 891.6L947.7 891.7L948.3 891.9L948.8 892L949.4 892.1L950 892.2L950.5 892.3L951.1 892.4L951.7 892.5L952.2 892.6L952.8 892.7L953.4 892.8L953.9 892.8L954.5 892.9L955.1 893L955.6 893.1L956.2 893.2L956.8 893.2L957.3 893.3L957.9 893.4L958.5 893.5L959 893.5L959.6 893.6L960.2 893.7L960.7 893.7L961.3 893.8L961.9 893.9L962.4 893.9L963 894L963.6 894.1L964.1 894.1L964.7 894.2L965.2 894.3L965.8 894.3L966.4 894.4L966.9 894.5L967.5 894.5L968.1 894.6L968.6 894.7L969.2 894.7L969.8 894.8L970.3 894.9L970.9 894.9L971.5 895L972 895.1L972.6 895.1L973.2 895.2L973.7 895.2L974.3 895.3L974.9 895.4L975.4 895.4L976 895.5L976.6 895.5L977.1 895.6L977.7 895.7L978.3 895.7L978.8 895.8L979.4 895.8L980 895.9L980.5 895.9L981.1 896L981.7 896L982.2 896.1L982.8 896.1L983.4 896.2L983.9 896.2L984.5 896.3L985 896.3L985.6 896.4L986.2 896.4L986.7 896.4L987.3 896.5L987.9 896.5L988.4 896.6L989 896.6L989.6 896.6L990.1 896.7L990.7 896.7L991.3 896.7L991.8 896.8L992.4 896.8" stroke="#3aa0a0" stroke-width="1.2" fill="none"/>
<path d="M811.4 896.8h0M812 896.8h0M812.5 896.7h0M813.1 896.7h0M813.7 896.7h0M814.2 896.6h0M814.8 896.6h0M815.4 896.6h0M815.9 896.5h0M816.5 896.5h0M817.1 896.4h0M817.6 896.4h0M818.2 896.4h0M818.8 896.3h0M819.3 896.3h0M819.9 896.2h0M820.4 896.2h0M821 896.1h0M821.6 896.1h0M822.1 896h0M822.7 896h0M823.3 895.9h0M823.8 895.9h0M824.4 895.8h0M825 895.8h0M825.5 895.7h0M826.1 895.7h0M826.7 895.6h0M827.2 895.5h0M827.8 895.5h0M828.4 895.4h0M828.9 895.4h0M829.5 895.3h0M830.1 895.2h0M830.6 895.2h0M831.2 895.1h0M831.8 895.1h0M832.3 895h0M832.9 894.9h0M833.5 894.9h0M834 894.8h0M834.6 894.7h0M835.2 894.7h0M835.7 894.6h0M836.3 894.5h0M836.9 894.5h0M837.4 894.4h0M838 894.3h0M838.5 894.3h0M839.1 894.2h0M839.7 894.1h0M840.2 894.1h0M840.8 894h0M841.4 893.9h0M841.9 893.9h0M842.5 893.8h0M843.1 893.7h0M843.6 893.7h0M844.2 893.6h0M844.8 893.5h0M845.3 893.5h0M845.9 893.4h0M846.5 893.3h0M847 893.2h0M847.6 893.2h0M848.2 893.1h0M848.7 893h0M849.3 892.9h0M849.9 892.8h0M850.4 892.8h0M851 892.7h0M851.6 892.6h0M852.1 892.5h0M852.7 892.4h0M853.3 892.3h0M853.8 892.2h0M854.4 892.1h0M855 892h0M855.5 891.9h0M856.1 891.7h0M856.6 891.6h0M857.2 891.5h0M857.8 891.3h0M858.3 891.2h0M858.9 891.1h0M859.5 890.9h0M860 890.8h0M860.6 890.6h0M861.2 890.4h0M861.7 890.2h0M862.3 890h0M862.9 889.8h0M863.4 889.5h0M864 889.2h0M864.6 888.9h0M865.1 888.5h0M865.7 888.2h0M866.3 887.8h0M866.8 887.4h0M867.4 886.9h0M868 886.5h0M868.5 886h0M869.1 885.5h0M869.7 885h0M870.2 884.5h0M870.8 884h0M871.4 883.5h0M871.9 882.9h0M872.5 882.3h0M873.1 881.7h0M873.6 881.2h0M874.2 880.5h0M874.8 879.8h0M875.3 879.1h0M875.9 878.3h0M876.4 877.5h0M877 876.6h0M877.6 875.6h0M878.1 874.6h0M878.7 873.5h0M879.3 872.4h0M879.8 871.2h0M880.4 869.9h0M881 868.5h0M881.5 867h0M882.1 865.3h0M882.7 863.3h0M883.2 861.1h0M883.8 858.6h0M884 857.5h0M884.3 856.4h0M884.5 855.3h0M884.7 854.2h0M884.9 853h0M885.2 851.8h0M885.4 850.6h0M885.6 849.3h0M885.8 848.1h0M886.1 846.7h0M886.3 845.4h0M886.5 843.9h0M886.7 842.4h0M887 840.7h0M887.2 839.1h0M887.4 837.3h0M887.6 835.5h0M887.9 833.6h0M888.1 831.6h0M888.3 829.6h0M888.6 827.5h0M888.8 825.3h0M889 823.1h0M889.2 821h0M889.5 818.7h0M889.7 816.3h0M889.9 813.5h0M890.1 810.3h0M890.4 806.7h0M890.6 802.3h0M890.8 795.4h0M891 786.3h0M891.3 775.9h0M891.5 769.6h0M891.7 753.6h0M891.9 753.6h0M892.2 753.6h0M892.4 753.6h0M892.6 753.6h0M892.9 753.6h0M893.1 753.6h0M893.3 753.6h0M893.5 753.6h0M893.8 753.6h0M894 753.6h0M894.2 753.6h0M894.4 753.6h0M894.7 753.6h0M894.9 753.6h0M895.1 753.6h0M895.3 753.6h0M895.6 753.6h0M895.8 753.6h0M896 753.6h0M896.2 753.6h0M896.5 753.6h0M896.7 753.6h0M896.9 753.6h0M897.1 753.6h0M897.4 753.6h0M897.6 753.6h0M897.8 753.6h0M898.1 753.6h0M898.3 753.6h0M898.5 753.6h0M898.7 753.6h0M899 753.6h0M899.2 753.6h0M899.4 753.6h0M899.6 753.6h0M899.9 753.6h0M900.1 753.6h0M900.3 753.6h0M900.5 753.6h0M900.8 753.6h0M901 753.6h0M901.2 753.6h0M901.4 753.6h0M901.7 753.6h0M901.9 753.6h0M902.1 753.6h0M902.4 753.6h0M902.6 753.6h0M902.8 753.6h0M903 753.6h0M903.3 753.6h0M903.5 753.6h0M903.7 753.6h0M903.9 753.6h0M904.2 753.6h0M904.4 753.6h0M904.6 753.6h0M904.8 753.6h0M905.1 753.6h0M905.3 753.6h0M905.5 753.6h0M905.7 753.6h0M906 753.6h0M906.2 753.6h0M906.4 753.6h0M906.7 753.6h0M906.9 753.6h0M907.1 753.6h0M907.3 753.6h0M907.6 753.6h0M907.8 753.6h0M908 753.6h0M908.2 753.6h0M908.5 753.6h0M908.7 753.6h0M908.9 753.6h0M909.1 753.6h0M909.4 753.6h0M909.6 753.6h0M909.8 753.6h0M910 753.6h0M910.3 753.6h0M910.5 753.6h0M910.7 753.6h0M910.9 753.6h0M911.2 753.6h0M911.4 753.6h0M911.6 753.6h0M911.9 753.6h0M912.1 753.6h0M912.3 769.6h0M912.5 775.9h0M912.8 786.3h0M913 795.4h0M913.2 802.3h0M913.4 806.7h0M913.7 810.3h0M913.9 813.5h0M914.1 816.3h0M914.3 818.7h0M914.6 821h0M914.8 823.1h0M915 825.3h0M915.2 827.5h0M915.5 829.6h0M915.7 831.6h0M915.9 833.6h0M916.2 835.5h0M916.4 837.3h0M916.6 839.1h0M916.8 840.7h0M917.1 842.4h0M917.3 843.9h0M917.5 845.4h0M917.7 846.7h0M918 848.1h0M918.2 849.3h0M918.4 850.6h0M918.6 851.8h0M918.9 853h0M919.1 854.2h0M919.3 855.3h0M919.5 856.4h0M919.8 857.5h0M920 858.6h0M920.6 861.1h0M921.1 863.3h0M921.7 865.3h0M922.3 867h0M922.8 868.5h0M923.4 869.9h0M924 871.2h0M924.5 872.4h0M925.1 873.5h0M925.7 874.6h0M926.2 875.6h0M926.8 876.6h0M927.4 877.5h0M927.9 878.3h0M928.5 879.1h0M929 879.8h0M929.6 880.5h0M930.2 881.2h0M930.7 881.7h0M931.3 882.3h0M931.9 882.9h0M932.4 883.5h0M933 884h0M933.6 884.5h0M934.1 885h0M934.7 885.5h0M935.3 886h0M935.8 886.5h0M936.4 886.9h0M937 887.4h0M937.5 887.8h0M938.1 888.2h0M938.7 888.5h0M939.2 888.9h0M939.8 889.2h0M940.4 889.5h0M940.9 889.8h0M941.5 890h0M942.1 890.2h0M942.6 890.4h0M943.2 890.6h0M943.8 890.8h0M944.3 890.9h0M944.9 891.1h0M945.5 891.2h0M946 891.3h0M946.6 891.5h0M947.1 891.6h0M947.7 891.7h0M948.3 891.9h0M948.8 892h0M949.4 892.1h0M950 892.2h0M950.5 892.3h0M951.1 892.4h0M951.7 892.5h0M952.2 892.6h0M952.8 892.7h0M953.4 892.8h0M953.9 892.8h0M954.5 892.9h0M955.1 893h0M955.6 893.1h0M956.2 893.2h0M956.8 893.2h0M957.3 893.3h0M957.9 893.4h0M958.5 893.5h0M959 893.5h0M959.6 893.6h0M960.2 893.7h0M960.7 893.7h0M961.3 893.8h0M961.9 893.9h0M962.4 893.9h0M963 894h0M963.6 894.1h0M964.1 894.1h0M964.7 894.2h0M965.2 894.3h0M965.8 894.3h0M966.4 894.4h0M966.9 894.5h0M967.5 894.5h0M968.1 894.6h0M968.6 894.7h0M969.2 894.7h0M969.8 894.8h0M970.3 894.9h0M970.9 894.9h0M971.5 895h0M972 895.1h0M972.6 895.1h0M973.2 895.2h0M973.7 895.2h0M974.3 895.3h0M974.9 895.4h0M975.4 895.4h0M976 895.5h0M976.6 895.5h0M977.1 895.6h0M977.7 895.7h0M978.3 895.7h0M978.8 895.8h0M979.4 895.8h0M980 895.9h0M980.5 895.9h0M981.1 896h0M981.7 896h0M982.2 896.1h0M982.8 896.1h0M983.4 896.2h0M983.9 896.2h0M984.5 896.3h0M985 896.3h0M985.6 896.4h0M986.2 896.4h0M986.7 896.4h0M987.3 896.5h0M987.9 896.5h0M988.4 896.6h0M989 896.6h0M989.6 896.6h0M990.1 896.7h0M990.7 896.7h0M991.3 896.7h0M991.8 896.8h0M992.4 896.8h0" stroke="#0a7f80" stroke-width="4.8" stroke-linecap="round" fill="none"/>
<path d="M783 1176.1H787M783 1100.5H787M783 1024.9H787M784.5 1138.3H787M784.5 1062.7H787M810 1195.7V1199.7M856.9 1195.7V1199.7M903.8 1195.7V1199.7M950.7 1195.7V1199.7M997.6 1195.7V1199.7M833.4 1195.7V1198.2M880.3 1195.7V1198.2M927.2 1195.7V1198.2M974.1 1195.7V1198.2" stroke="#555" stroke-width="1.5" fill="none"/>
<rect x="787" y="1005.2" width="231.6" height="190.5" fill="none" stroke="#6e6e6e" stroke-width="2.4" stroke-linejoin="round"/>
<text x="780" y="1183.1" font-size="20.5" text-anchor="end" fill="#1a1a1a" >0.0</text>
<text x="780" y="1107.5" font-size="20.5" text-anchor="end" fill="#1a1a1a" >0.1</text>
<text x="780" y="1031.9" font-size="20.5" text-anchor="end" fill="#1a1a1a" >0.2</text>
<text x="810" y="1219" font-size="20.5" text-anchor="middle" fill="#1a1a1a" >-40</text>
<text x="856.9" y="1219" font-size="20.5" text-anchor="middle" fill="#1a1a1a" >-20</text>
<text x="903.8" y="1219" font-size="20.5" text-anchor="middle" fill="#1a1a1a" >0</text>
<text x="950.7" y="1219" font-size="20.5" text-anchor="middle" fill="#1a1a1a" >20</text>
<text x="997.6" y="1219" font-size="20.5" text-anchor="middle" fill="#1a1a1a" >40</text>
<text x="904.1" y="1240" font-size="20.5" text-anchor="middle" fill="#1a1a1a" >Y(um)</text>
<text transform="translate(745.5,1099.7) rotate(-90)" font-size="20.5" text-anchor="middle" fill="#1a1a1a">B(mT)</text>
<path d="M947.3 1020.1H967.4" stroke="#9a50b8" stroke-width="1.3"/>
<circle cx="957.3" cy="1020.1" r="2.6" fill="#620078"/>
<text x="971.6" y="1023.9" font-size="15.5" text-anchor="start" fill="#1a1a1a" >100mT</text>
<path d="M810 1102L810.6 1102.1L811.2 1102.1L811.8 1102.1L812.3 1102.2L812.9 1102.2L813.5 1102.2L814.1 1102.3L814.7 1102.3L815.3 1102.4L815.9 1102.4L816.4 1102.5L817 1102.5L817.6 1102.6L818.2 1102.6L818.8 1102.7L819.4 1102.7L820 1102.8L820.6 1102.9L821.1 1102.9L821.7 1103L822.3 1103.1L822.9 1103.1L823.5 1103.2L824.1 1103.3L824.7 1103.3L825.2 1103.4L825.8 1103.5L826.4 1103.5L827 1103.6L827.6 1103.7L828.2 1103.8L828.8 1103.8L829.3 1103.9L829.9 1104L830.5 1104.1L831.1 1104.2L831.7 1104.3L832.3 1104.4L832.9 1104.5L833.4 1104.6L834 1104.7L834.6 1104.8L835.2 1105L835.8 1105.1L836.4 1105.2L837 1105.3L837.6 1105.5L838.1 1105.6L838.7 1105.8L839.3 1105.9L839.9 1106.1L840.5 1106.3L841.1 1106.4L841.7 1106.6L842.2 1106.8L842.8 1107.1L843.4 1107.3L844 1107.6L844.6 1107.8L845.2 1108.1L845.8 1108.4L846.3 1108.8L846.9 1109.1L847.5 1109.4L848.1 1109.8L848.7 1110.2L849.3 1110.6L849.9 1110.9L850.5 1111.4L851 1111.8L851.6 1112.3L852.2 1112.8L852.8 1113.3L853.4 1113.9L854 1114.5L854.6 1115.1L855.1 1115.8L855.7 1116.5L856.3 1117.3L856.9 1118.2L857.5 1119.2L858.1 1120.3L858.7 1121.5L859.2 1122.8L859.8 1124.2L860.4 1125.7L861 1127.3L861.6 1129.2L862.1 1131L862.5 1133L863 1135.5L863.5 1138.7L863.9 1144L864.4 1149.8L864.9 1155.1L865.3 1160.6L865.8 1167.1L866.3 1175L866.3 1026.8L866.7 1026.9L867.2 1026.9L867.7 1027L868.2 1027.1L868.6 1027.1L869.1 1027.2L869.6 1027.3L870 1027.3L870.5 1027.4L871 1027.5L871.4 1027.5L871.9 1027.6L872.4 1027.6L872.8 1027.7L873.3 1027.8L873.8 1027.8L874.3 1027.9L874.7 1028L875.2 1028L875.7 1028.1L876.1 1028.2L876.6 1028.2L877.1 1028.3L877.5 1028.4L878 1028.4L878.5 1028.5L878.9 1028.6L879.4 1028.6L879.9 1028.7L880.3 1028.8L880.8 1028.8L881.3 1028.9L881.8 1029L882.2 1029L882.7 1029.1L883.2 1029.2L883.6 1029.2L884.1 1029.3L884.6 1029.4L884.9 1175L885 1167.5L885.5 1158.5L886 1153.3L886.4 1149.4L886.9 1146.2L887.4 1143.4L887.9 1140.9L888.3 1138.7L888.8 1136.7L889.3 1134.9L889.7 1133.2L890.2 1131.7L890.7 1130.2L891.1 1128.9L891.6 1127.7L892.1 1126.5L892.5 1125.4L893 1124.4L893.5 1123.5L894 1122.6L894.4 1121.7L894.9 1121L895.4 1120.2L895.8 1119.6L896.3 1118.9L896.8 1118.4L897.2 1117.8L897.7 1117.3L898.2 1116.9L898.6 1116.5L899.1 1116.1L899.6 1115.7L900 1115.4L900.5 1115.2L901 1115L901.5 1114.8L901.9 1114.6L902.4 1114.5L902.9 1114.4L903.3 1114.4L903.8 1114.3L904.3 1114.4L904.7 1114.4L905.2 1114.5L905.7 1114.6L906.1 1114.8L906.6 1115L907.1 1115.2L907.6 1115.4L908 1115.7L908.5 1116.1L909 1116.5L909.4 1116.9L909.9 1117.3L910.4 1117.8L910.8 1118.4L911.3 1118.9L911.8 1119.6L912.2 1120.2L912.7 1121L913.2 1121.7L913.6 1122.6L914.1 1123.5L914.6 1124.4L915.1 1125.4L915.5 1126.5L916 1127.7L916.5 1128.9L916.9 1130.2L917.4 1131.7L917.9 1133.2L918.3 1134.9L918.8 1136.7L919.3 1138.7L919.7 1140.9L920.2 1143.4L920.7 1146.2L921.2 1149.4L921.6 1153.3L922.1 1158.5L922.6 1167.5L922.7 1175L923 1029.4L923.5 1029.3L924 1029.2L924.4 1029.2L924.9 1029.1L925.4 1029L925.8 1029L926.3 1028.9L926.8 1028.8L927.2 1028.8L927.7 1028.7L928.2 1028.6L928.7 1028.6L929.1 1028.5L929.6 1028.4L930.1 1028.4L930.5 1028.3L931 1028.2L931.5 1028.2L931.9 1028.1L932.4 1028L932.9 1028L933.3 1027.9L933.8 1027.8L934.3 1027.8L934.8 1027.7L935.2 1027.6L935.7 1027.6L936.2 1027.5L936.6 1027.5L937.1 1027.4L937.6 1027.3L938 1027.3L938.5 1027.2L939 1027.1L939.4 1027.1L939.9 1027L940.4 1026.9L940.9 1026.9L941.3 1175L941.3 1026.8L941.8 1167.1L942.3 1160.6L942.7 1155.1L943.2 1149.8L943.7 1144L944.1 1138.7L944.6 1135.5L945.1 1133L945.5 1131L946 1129.2L946.6 1127.3L947.2 1125.7L947.8 1124.2L948.4 1122.8L948.9 1121.5L949.5 1120.3L950.1 1119.2L950.7 1118.2L951.3 1117.3L951.9 1116.5L952.5 1115.8L953 1115.1L953.6 1114.5L954.2 1113.9L954.8 1113.3L955.4 1112.8L956 1112.3L956.6 1111.8L957.1 1111.4L957.7 1110.9L958.3 1110.6L958.9 1110.2L959.5 1109.8L960.1 1109.4L960.7 1109.1L961.3 1108.8L961.8 1108.4L962.4 1108.1L963 1107.8L963.6 1107.6L964.2 1107.3L964.8 1107.1L965.4 1106.8L965.9 1106.6L966.5 1106.4L967.1 1106.3L967.7 1106.1L968.3 1105.9L968.9 1105.8L969.5 1105.6L970 1105.5L970.6 1105.3L971.2 1105.2L971.8 1105.1L972.4 1105L973 1104.8L973.6 1104.7L974.1 1104.6L974.7 1104.5L975.3 1104.4L975.9 1104.3L976.5 1104.2L977.1 1104.1L977.7 1104L978.3 1103.9L978.8 1103.8L979.4 1103.8L980 1103.7L980.6 1103.6L981.2 1103.5L981.8 1103.5L982.4 1103.4L982.9 1103.3L983.5 1103.3L984.1 1103.2L984.7 1103.1L985.3 1103.1L985.9 1103L986.5 1102.9L987 1102.9L987.6 1102.8L988.2 1102.7L988.8 1102.7L989.4 1102.6L990 1102.6L990.6 1102.5L991.2 1102.5L991.7 1102.4L992.3 1102.4L992.9 1102.3L993.5 1102.3L994.1 1102.2L994.7 1102.2L995.3 1102.2L995.8 1102.1L996.4 1102.1L997 1102.1L997.6 1102" stroke="#9a50b8" stroke-width="1.2" fill="none"/>
<path d="M810 1102h0M810.6 1102.1h0M811.2 1102.1h0M811.8 1102.1h0M812.3 1102.2h0M812.9 1102.2h0M813.5 1102.2h0M814.1 1102.3h0M814.7 1102.3h0M815.3 1102.4h0M815.9 1102.4h0M816.4 1102.5h0M817 1102.5h0M817.6 1102.6h0M818.2 1102.6h0M818.8 1102.7h0M819.4 1102.7h0M820 1102.8h0M820.6 1102.9h0M821.1 1102.9h0M821.7 1103h0M822.3 1103.1h0M822.9 1103.1h0M823.5 1103.2h0M824.1 1103.3h0M824.7 1103.3h0M825.2 1103.4h0M825.8 1103.5h0M826.4 1103.5h0M827 1103.6h0M827.6 1103.7h0M828.2 1103.8h0M828.8 1103.8h0M829.3 1103.9h0M829.9 1104h0M830.5 1104.1h0M831.1 1104.2h0M831.7 1104.3h0M832.3 1104.4h0M832.9 1104.5h0M833.4 1104.6h0M834 1104.7h0M834.6 1104.8h0M835.2 1105h0M835.8 1105.1h0M836.4 1105.2h0M837 1105.3h0M837.6 1105.5h0M838.1 1105.6h0M838.7 1105.8h0M839.3 1105.9h0M839.9 1106.1h0M840.5 1106.3h0M841.1 1106.4h0M841.7 1106.6h0M842.2 1106.8h0M842.8 1107.1h0M843.4 1107.3h0M844 1107.6h0M844.6 1107.8h0M845.2 1108.1h0M845.8 1108.4h0M846.3 1108.8h0M846.9 1109.1h0M847.5 1109.4h0M848.1 1109.8h0M848.7 1110.2h0M849.3 1110.6h0M849.9 1110.9h0M850.5 1111.4h0M851 1111.8h0M851.6 1112.3h0M852.2 1112.8h0M852.8 1113.3h0M853.4 1113.9h0M854 1114.5h0M854.6 1115.1h0M855.1 1115.8h0M855.7 1116.5h0M856.3 1117.3h0M856.9 1118.2h0M857.5 1119.2h0M858.1 1120.3h0M858.7 1121.5h0M859.2 1122.8h0M859.8 1124.2h0M860.4 1125.7h0M861 1127.3h0M861.6 1129.2h0M862.1 1131h0M862.5 1133h0M863 1135.5h0M863.5 1138.7h0M863.9 1144h0M864.4 1149.8h0M864.9 1155.1h0M865.3 1160.6h0M865.8 1167.1h0M866.3 1175h0M866.3 1026.8h0M866.7 1026.9h0M867.2 1026.9h0M867.7 1027h0M868.2 1027.1h0M868.6 1027.1h0M869.1 1027.2h0M869.6 1027.3h0M870 1027.3h0M870.5 1027.4h0M871 1027.5h0M871.4 1027.5h0M871.9 1027.6h0M872.4 1027.6h0M872.8 1027.7h0M873.3 1027.8h0M873.8 1027.8h0M874.3 1027.9h0M874.7 1028h0M875.2 1028h0M875.7 1028.1h0M876.1 1028.2h0M876.6 1028.2h0M877.1 1028.3h0M877.5 1028.4h0M878 1028.4h0M878.5 1028.5h0M878.9 1028.6h0M879.4 1028.6h0M879.9 1028.7h0M880.3 1028.8h0M880.8 1028.8h0M881.3 1028.9h0M881.8 1029h0M882.2 1029h0M882.7 1029.1h0M883.2 1029.2h0M883.6 1029.2h0M884.1 1029.3h0M884.6 1029.4h0M884.9 1175h0M885 1167.5h0M885.5 1158.5h0M886 1153.3h0M886.4 1149.4h0M886.9 1146.2h0M887.4 1143.4h0M887.9 1140.9h0M888.3 1138.7h0M888.8 1136.7h0M889.3 1134.9h0M889.7 1133.2h0M890.2 1131.7h0M890.7 1130.2h0M891.1 1128.9h0M891.6 1127.7h0M892.1 1126.5h0M892.5 1125.4h0M893 1124.4h0M893.5 1123.5h0M894 1122.6h0M894.4 1121.7h0M894.9 1121h0M895.4 1120.2h0M895.8 1119.6h0M896.3 1118.9h0M896.8 1118.4h0M897.2 1117.8h0M897.7 1117.3h0M898.2 1116.9h0M898.6 1116.5h0M899.1 1116.1h0M899.6 1115.7h0M900 1115.4h0M900.5 1115.2h0M901 1115h0M901.5 1114.8h0M901.9 1114.6h0M902.4 1114.5h0M902.9 1114.4h0M903.3 1114.4h0M903.8 1114.3h0M904.3 1114.4h0M904.7 1114.4h0M905.2 1114.5h0M905.7 1114.6h0M906.1 1114.8h0M906.6 1115h0M907.1 1115.2h0M907.6 1115.4h0M908 1115.7h0M908.5 1116.1h0M909 1116.5h0M909.4 1116.9h0M909.9 1117.3h0M910.4 1117.8h0M910.8 1118.4h0M911.3 1118.9h0M911.8 1119.6h0M912.2 1120.2h0M912.7 1121h0M913.2 1121.7h0M913.6 1122.6h0M914.1 1123.5h0M914.6 1124.4h0M915.1 1125.4h0M915.5 1126.5h0M916 1127.7h0M916.5 1128.9h0M916.9 1130.2h0M917.4 1131.7h0M917.9 1133.2h0M918.3 1134.9h0M918.8 1136.7h0M919.3 1138.7h0M919.7 1140.9h0M920.2 1143.4h0M920.7 1146.2h0M921.2 1149.4h0M921.6 1153.3h0M922.1 1158.5h0M922.6 1167.5h0M922.7 1175h0M923 1029.4h0M923.5 1029.3h0M924 1029.2h0M924.4 1029.2h0M924.9 1029.1h0M925.4 1029h0M925.8 1029h0M926.3 1028.9h0M926.8 1028.8h0M927.2 1028.8h0M927.7 1028.7h0M928.2 1028.6h0M928.7 1028.6h0M929.1 1028.5h0M929.6 1028.4h0M930.1 1028.4h0M930.5 1028.3h0M931 1028.2h0M931.5 1028.2h0M931.9 1028.1h0M932.4 1028h0M932.9 1028h0M933.3 1027.9h0M933.8 1027.8h0M934.3 1027.8h0M934.8 1027.7h0M935.2 1027.6h0M935.7 1027.6h0M936.2 1027.5h0M936.6 1027.5h0M937.1 1027.4h0M937.6 1027.3h0M938 1027.3h0M938.5 1027.2h0M939 1027.1h0M939.4 1027.1h0M939.9 1027h0M940.4 1026.9h0M940.9 1026.9h0M941.3 1175h0M941.3 1026.8h0M941.8 1167.1h0M942.3 1160.6h0M942.7 1155.1h0M943.2 1149.8h0M943.7 1144h0M944.1 1138.7h0M944.6 1135.5h0M945.1 1133h0M945.5 1131h0M946 1129.2h0M946.6 1127.3h0M947.2 1125.7h0M947.8 1124.2h0M948.4 1122.8h0M948.9 1121.5h0M949.5 1120.3h0M950.1 1119.2h0M950.7 1118.2h0M951.3 1117.3h0M951.9 1116.5h0M952.5 1115.8h0M953 1115.1h0M953.6 1114.5h0M954.2 1113.9h0M954.8 1113.3h0M955.4 1112.8h0M956 1112.3h0M956.6 1111.8h0M957.1 1111.4h0M957.7 1110.9h0M958.3 1110.6h0M958.9 1110.2h0M959.5 1109.8h0M960.1 1109.4h0M960.7 1109.1h0M961.3 1108.8h0M961.8 1108.4h0M962.4 1108.1h0M963 1107.8h0M963.6 1107.6h0M964.2 1107.3h0M964.8 1107.1h0M965.4 1106.8h0M965.9 1106.6h0M966.5 1106.4h0M967.1 1106.3h0M967.7 1106.1h0M968.3 1105.9h0M968.9 1105.8h0M969.5 1105.6h0M970 1105.5h0M970.6 1105.3h0M971.2 1105.2h0M971.8 1105.1h0M972.4 1105h0M973 1104.8h0M973.6 1104.7h0M974.1 1104.6h0M974.7 1104.5h0M975.3 1104.4h0M975.9 1104.3h0M976.5 1104.2h0M977.1 1104.1h0M977.7 1104h0M978.3 1103.9h0M978.8 1103.8h0M979.4 1103.8h0M980 1103.7h0M980.6 1103.6h0M981.2 1103.5h0M981.8 1103.5h0M982.4 1103.4h0M982.9 1103.3h0M983.5 1103.3h0M984.1 1103.2h0M984.7 1103.1h0M985.3 1103.1h0M985.9 1103h0M986.5 1102.9h0M987 1102.9h0M987.6 1102.8h0M988.2 1102.7h0M988.8 1102.7h0M989.4 1102.6h0M990 1102.6h0M990.6 1102.5h0M991.2 1102.5h0M991.7 1102.4h0M992.3 1102.4h0M992.9 1102.3h0M993.5 1102.3h0M994.1 1102.2h0M994.7 1102.2h0M995.3 1102.2h0M995.8 1102.1h0M996.4 1102.1h0M997 1102.1h0M997.6 1102h0" stroke="#620078" stroke-width="4.8" stroke-linecap="round" fill="none"/>
<rect x="169.3" y="214.5" width="179.4" height="145.3" fill="#fff" stroke="#8c8c8c" stroke-width="2.2"/>
<path d="M166.3 349.2H169.3M166.3 304.3H169.3M166.3 259.4H169.3M166.3 214.5H169.3M167.3 326.8H169.3M167.3 281.9H169.3M167.3 236.9H169.3M172.9 359.8V362.8M239 359.8V362.8M305.1 359.8V362.8M206 359.8V361.8M272.1 359.8V361.8M338.2 359.8V361.8" stroke="#858585" stroke-width="1.3" fill="none"/>
<text x="164.8" y="354.9" font-size="16.8" text-anchor="end" fill="#333" >0.0E+00</text>
<text x="164.8" y="310" font-size="16.8" text-anchor="end" fill="#333" >1.0E-09</text>
<text x="164.8" y="265.1" font-size="16.8" text-anchor="end" fill="#333" >2.0E-09</text>
<text x="164.8" y="220.2" font-size="16.8" text-anchor="end" fill="#333" >3.0E-09</text>
<text x="172.9" y="377.6" font-size="17" text-anchor="middle" fill="#333" >0.000</text>
<text x="239" y="377.6" font-size="17" text-anchor="middle" fill="#333" >0.045</text>
<text x="305.1" y="377.6" font-size="17" text-anchor="middle" fill="#333" >0.090</text>
<text x="271.3" y="388" font-size="24" text-anchor="middle" fill="#222" >t(s)</text>
<text transform="translate(110.5,277.1) rotate(-90)" font-size="25" text-anchor="middle" fill="#222"><tspan font-style="italic">Tm</tspan>(N*m)</text>
<path d="M172.9 349.2h0M175.4 346.7h0M177.9 343.7h0M180.4 340.2h0M182.9 336.4h0M185.4 331.8h0M187.9 326.7h0M190.4 321.1h0M192.9 314.6h0M195.4 308.5h0M197.9 304.1h0M200.4 300.2h0M202.9 296.8h0M205.4 293.8h0M207.9 291h0M210.4 288.4h0M212.9 286h0M215.4 283.7h0M217.8 281.6h0M220.3 279.5h0M222.8 277.5h0M225.3 275.6h0M227.8 273.8h0M230.3 272h0M232.8 270.3h0M235.3 268.6h0M237.8 266.9h0M240.3 265.3h0M242.8 263.6h0M245.3 262h0M247.8 260.4h0M250.3 258.9h0M252.8 257.4h0M255.3 255.9h0M257.8 254.5h0M260.3 253.1h0M262.8 251.7h0M265.3 250.5h0M267.8 249.2h0M270.3 248.1h0M272.8 247h0M275.3 245.9h0M277.8 244.9h0M280.3 243.9h0M282.8 242.9h0M285.3 241.9h0M287.8 241h0M290.3 240.2h0M292.8 239.3h0M295.3 238.5h0M297.8 237.7h0M300.3 237h0M302.8 236.3h0M305.2 235.6h0M307.7 234.9h0M310.2 234.2h0M312.7 233.6h0M315.2 233h0M317.7 232.4h0M320.2 231.8h0M322.7 231.2h0M325.2 230.6h0M327.7 230.1h0M330.2 229.6h0M332.7 229.1h0M335.2 228.7h0M337.7 228.2h0M340.2 227.8h0" stroke="#ff0a0a" stroke-width="3.8" fill="none" stroke-linecap="round"/>
<path d="M172.9 349.2L175.4 346.7L177.9 343.7L180.4 340.2L182.9 336.4L185.4 331.8L187.9 326.7L190.4 321.1L192.9 314.6L195.4 308.5L197.9 304.1L200.4 300.2L202.9 296.8L205.4 293.8L207.9 291L210.4 288.4L212.9 286L215.4 283.7L217.8 281.6L220.3 279.5L222.8 277.5L225.3 275.6L227.8 273.8L230.3 272L232.8 270.3L235.3 268.6L237.8 266.9L240.3 265.3L242.8 263.6L245.3 262L247.8 260.4L250.3 258.9L252.8 257.4L255.3 255.9L257.8 254.5L260.3 253.1L262.8 251.7L265.3 250.5L267.8 249.2L270.3 248.1L272.8 247L275.3 245.9L277.8 244.9L280.3 243.9L282.8 242.9L285.3 241.9L287.8 241L290.3 240.2L292.8 239.3L295.3 238.5L297.8 237.7L300.3 237L302.8 236.3L305.2 235.6L307.7 234.9L310.2 234.2L312.7 233.6L315.2 233L317.7 232.4L320.2 231.8L322.7 231.2L325.2 230.6L327.7 230.1L330.2 229.6L332.7 229.1L335.2 228.7L337.7 228.2L340.2 227.8" stroke="#ff0a0a" stroke-width="1.2" fill="none"/>
<rect x="156.5" y="1030.7" width="187.9" height="151.1" fill="#fff" stroke="#8c8c8c" stroke-width="2.2"/>
<path d="M153.5 1175.3H156.5M153.5 1130.1H156.5M153.5 1085H156.5M153.5 1039.8H156.5M154.5 1152.7H156.5M154.5 1107.5H156.5M154.5 1062.4H156.5M164.3 1181.8V1184.8M220.7 1181.8V1184.8M277.1 1181.8V1184.8M333.5 1181.8V1184.8M192.5 1181.8V1183.8M248.9 1181.8V1183.8M305.3 1181.8V1183.8" stroke="#858585" stroke-width="1.3" fill="none"/>
<text x="152" y="1181" font-size="16.8" text-anchor="end" fill="#333" >0E+00</text>
<text x="152" y="1135.8" font-size="16.8" text-anchor="end" fill="#333" >1E-11</text>
<text x="152" y="1090.7" font-size="16.8" text-anchor="end" fill="#333" >2E-11</text>
<text x="152" y="1045.5" font-size="16.8" text-anchor="end" fill="#333" >3E-11</text>
<text x="164.3" y="1201.5" font-size="17" text-anchor="middle" fill="#333" >0.0</text>
<text x="220.7" y="1201.5" font-size="17" text-anchor="middle" fill="#333" >0.1</text>
<text x="277.1" y="1201.5" font-size="17" text-anchor="middle" fill="#333" >0.2</text>
<text x="333.5" y="1201.5" font-size="17" text-anchor="middle" fill="#333" >0.3</text>
<text x="248.5" y="1214.5" font-size="24" text-anchor="middle" fill="#222" >t(s)</text>
<text transform="translate(103.5,1096) rotate(-90)" font-size="25.5" text-anchor="middle" fill="#222"><tspan font-style="italic">Tm</tspan>(N*m)</text>
<path d="M164.3 1175.3h0M165.7 1172.3h0M167.1 1169.3h0M168.5 1166.6h0M169.9 1164h0M171.4 1161.8h0M172.8 1159.7h0M174.2 1157.8h0M175.6 1156h0M177 1154.3h0M178.4 1152.7h0M179.8 1151.1h0M181.2 1149.6h0M182.6 1148.2h0M184 1146.7h0M185.5 1145.3h0M186.9 1143.9h0M188.3 1142.4h0M189.7 1141h0M191.1 1139.6h0M192.5 1138.2h0M193.9 1136.9h0M195.3 1135.6h0M196.7 1134.2h0M198.1 1133h0M199.6 1131.7h0M201 1130.5h0M202.4 1129.3h0M203.8 1128.1h0M205.2 1127h0M206.6 1125.9h0M208 1124.8h0M209.4 1123.8h0M210.8 1122.8h0M212.2 1121.9h0M213.7 1121h0M215.1 1120.1h0M216.5 1119.2h0M217.9 1118.4h0M219.3 1117.6h0M220.7 1116.8h0M222.1 1116h0M223.5 1115.2h0M224.9 1114.4h0M226.3 1113.7h0M227.8 1112.9h0M229.2 1112.1h0M230.6 1111.4h0M232 1110.7h0M233.4 1109.9h0M234.8 1109.1h0M236.2 1108.4h0M237.6 1107.6h0M239 1106.8h0M240.4 1106h0M241.9 1105.2h0M243.3 1104.3h0M244.7 1103.5h0M246.1 1102.7h0M247.5 1101.8h0M248.9 1101h0M250.3 1100.1h0M251.7 1099.3h0M253.1 1098.5h0M254.5 1097.6h0M256 1096.8h0M257.4 1095.9h0M258.8 1095h0M260.2 1094.2h0M261.6 1093.3h0M263 1092.5h0M264.4 1091.6h0M265.8 1090.7h0M267.2 1089.9h0M268.6 1089h0M270.1 1088.1h0M271.5 1087.3h0M272.9 1086.4h0M274.3 1085.5h0M275.7 1084.6h0M277.1 1083.7h0M278.5 1082.8h0M279.9 1082h0M281.3 1081.1h0M282.7 1080.2h0M284.1 1079.3h0M285.6 1078.4h0M287 1077.5h0M288.4 1076.6h0M289.8 1075.7h0M291.2 1074.8h0M292.6 1073.9h0M294 1072.9h0M295.4 1072h0M296.8 1071.1h0M298.2 1070.2h0M299.7 1069.3h0M301.1 1068.3h0M302.5 1067.4h0M303.9 1066.5h0M305.3 1065.5h0M306.7 1064.6h0M308.1 1063.7h0M309.5 1062.7h0M310.9 1061.8h0M312.4 1060.8h0M313.8 1059.9h0M315.2 1058.9h0M316.6 1057.9h0M318 1057h0M319.4 1056h0M320.8 1055h0M322.2 1054.1h0M323.6 1053.1h0M325 1052.1h0M326.5 1051.1h0M327.9 1050.1h0M329.3 1049.1h0M330.7 1048.2h0M332.1 1047.2h0M333.5 1046.2h0M334.9 1045.2h0M336.3 1044.1h0M337.7 1043.1h0M339.1 1042.1h0" stroke="#ff0a0a" stroke-width="4.4" fill="none" stroke-linecap="round"/>
<path d="M164.3 1175.3L165.7 1172.3L167.1 1169.3L168.5 1166.6L169.9 1164L171.4 1161.8L172.8 1159.7L174.2 1157.8L175.6 1156L177 1154.3L178.4 1152.7L179.8 1151.1L181.2 1149.6L182.6 1148.2L184 1146.7L185.5 1145.3L186.9 1143.9L188.3 1142.4L189.7 1141L191.1 1139.6L192.5 1138.2L193.9 1136.9L195.3 1135.6L196.7 1134.2L198.1 1133L199.6 1131.7L201 1130.5L202.4 1129.3L203.8 1128.1L205.2 1127L206.6 1125.9L208 1124.8L209.4 1123.8L210.8 1122.8L212.2 1121.9L213.7 1121L215.1 1120.1L216.5 1119.2L217.9 1118.4L219.3 1117.6L220.7 1116.8L222.1 1116L223.5 1115.2L224.9 1114.4L226.3 1113.7L227.8 1112.9L229.2 1112.1L230.6 1111.4L232 1110.7L233.4 1109.9L234.8 1109.1L236.2 1108.4L237.6 1107.6L239 1106.8L240.4 1106L241.9 1105.2L243.3 1104.3L244.7 1103.5L246.1 1102.7L247.5 1101.8L248.9 1101L250.3 1100.1L251.7 1099.3L253.1 1098.5L254.5 1097.6L256 1096.8L257.4 1095.9L258.8 1095L260.2 1094.2L261.6 1093.3L263 1092.5L264.4 1091.6L265.8 1090.7L267.2 1089.9L268.6 1089L270.1 1088.1L271.5 1087.3L272.9 1086.4L274.3 1085.5L275.7 1084.6L277.1 1083.7L278.5 1082.8L279.9 1082L281.3 1081.1L282.7 1080.2L284.1 1079.3L285.6 1078.4L287 1077.5L288.4 1076.6L289.8 1075.7L291.2 1074.8L292.6 1073.9L294 1072.9L295.4 1072L296.8 1071.1L298.2 1070.2L299.7 1069.3L301.1 1068.3L302.5 1067.4L303.9 1066.5L305.3 1065.5L306.7 1064.6L308.1 1063.7L309.5 1062.7L310.9 1061.8L312.4 1060.8L313.8 1059.9L315.2 1058.9L316.6 1057.9L318 1057L319.4 1056L320.8 1055L322.2 1054.1L323.6 1053.1L325 1052.1L326.5 1051.1L327.9 1050.1L329.3 1049.1L330.7 1048.2L332.1 1047.2L333.5 1046.2L334.9 1045.2L336.3 1044.1L337.7 1043.1L339.1 1042.1" stroke="#ff0a0a" stroke-width="1.2" fill="none"/>
<circle cx="431.9" cy="95.5" r="31.6" fill="#2bc0cc" stroke="#556" stroke-width="1"/>
<circle cx="353.5" cy="430.9" r="31.5" fill="#2bc0cc" stroke="#556" stroke-width="1"/>
<path d="M392.7 256C392.9 251.3 393.1 236.5 393.6 228C394.1 219.5 394.7 212.8 395.8 205C396.9 197.2 398.2 188.3 400.1 181.1C402 173.9 404.2 167.9 406.9 162C409.6 156.1 412.7 151 416.5 145.6C420.3 140.2 427.3 132.2 429.5 129.5" stroke="#f4a15e" stroke-width="5" fill="none"/>
<path d="M393.2 270C393.1 275 392.9 289.4 392.3 300C391.7 310.6 390.7 325.1 389.5 333.7C388.3 342.3 386.7 345.7 385.1 351.4C383.5 357.1 382.2 362.6 379.7 367.8C377.2 373 374 377.6 370.1 382.8C366.2 388 358.7 396.1 356.4 398.8" stroke="#f4a15e" stroke-width="5" fill="none"/>
<path d="M432.9 64C430 67.3 420.6 76.9 415.8 84.1C411 91.3 407.3 99.4 404.2 107.4C401.1 115.4 399.1 123.3 397.4 132C395.7 140.7 394.7 149.3 394 159.3C393.3 169.3 393.2 186.6 393 192" stroke="#3f3f3f" stroke-width="5.2" fill="none"/>
<path d="M393.3 334C393.2 340.8 393.5 363.7 392.8 374.6C392.1 385.5 390.9 391 389.2 399.2C387.5 407.4 385.3 416.5 382.4 423.8C379.4 431.1 376.2 436.7 371.5 443C366.8 449.3 357.2 458.3 354.4 461.4" stroke="#3f3f3f" stroke-width="5.2" fill="none"/>
<path d="M392.9 191.5V256M393.5 270.5L393.8 336M433.3 64L428.8 127.9M356.4 399L351.7 462.7" stroke="#f01010" stroke-width="2.4" fill="none"/>
<path d="M433.6 64V127M351 399V462.5" stroke="#000" stroke-width="1.8" stroke-dasharray="1.8 1.6" fill="none"/>
<circle cx="392.6" cy="223.9" r="31.2" fill="none" stroke="#000" stroke-width="2.6"/>
<circle cx="393.2" cy="303.5" r="31.2" fill="none" stroke="#000" stroke-width="2.6"/>
<ellipse cx="393.3" cy="257.3" rx="40" ry="93.9" fill="none" stroke="#375fa6" stroke-width="2" stroke-dasharray="3.8 2.4"/>
<path d="M422.6 328L440.6 376.5" stroke="#3a6ccc" stroke-width="3.4" stroke-dasharray="9.5 3.8" fill="none"/>
<path d="M436.2 377.8L446.3 374.4L445.2 385.5Z" fill="#3a6ccc"/>
<text x="378" y="187.5" font-size="22" text-anchor="middle" fill="#222" >A</text>
<text x="405.3" y="246.3" font-size="22" text-anchor="middle" fill="#222" >B</text>
<text x="409.4" y="46.5" font-size="25.5" text-anchor="start" fill="#222" >t=0.110s</text>
<text x="422.4" y="193.5" font-size="25.5" text-anchor="start" fill="#222" >t=0.000s</text>
<circle cx="393.7" cy="767.5" r="32.2" fill="#2bc0cc" stroke="#556" stroke-width="1"/>
<circle cx="392.9" cy="1200.7" r="31.8" fill="#2bc0cc" stroke="#556" stroke-width="1"/>
<path d="M391.8 854V920.5M392 1047V1169" stroke="#f4a15e" stroke-width="5.6" fill="none"/>
<path d="M393.2 735V854.5M392.9 1169V1232.5" stroke="#3f3f3f" stroke-width="4.8" fill="none"/>
<path d="M393.1 735V800M393.1 854.5V920.5M393.3 1047.5V1114M393 1169V1232.5" stroke="#f01010" stroke-width="3" fill="none"/>
<circle cx="392.3" cy="887.5" r="31.6" fill="none" stroke="#000" stroke-width="2.6"/>
<circle cx="392.7" cy="1080.8" r="31.8" fill="none" stroke="#000" stroke-width="2.6"/>
<ellipse cx="392.7" cy="988.9" rx="45.7" ry="152.2" fill="none" stroke="#375fa6" stroke-width="2.2" stroke-dasharray="8 6.5"/>
<path d="M439.6 1027.8L464 1077.5" stroke="#3a6ccc" stroke-width="3.4" stroke-dasharray="9.5 3.8" fill="none"/>
<path d="M460.5 1080.5L470.3 1076L470 1087.5Z" fill="#3a6ccc"/>
<text x="382" y="848" font-size="22" text-anchor="middle" fill="#222" >A</text>
<text x="404.5" y="910.8" font-size="22" text-anchor="middle" fill="#222" >B</text>
<text x="442.3" y="783.7" font-size="25.5" text-anchor="start" fill="#222" >t=0.323s</text>
<text x="442.3" y="903.9" font-size="25.5" text-anchor="start" fill="#222" >t=0.000s</text>
<clipPath id="gac"><rect x="455.4" y="243.9" width="157.5" height="213.5"/></clipPath>
<filter id="gacf" x="-5%" y="-5%" width="110%" height="110%"><feGaussianBlur stdDeviation="1.6"/></filter>
<g clip-path="url(#gac)"><g filter="url(#gacf)"><path fill="#ccfc2c" d="M455.4 243.9h9.6v3.5h-9.6zM458.4 246.9h9.6v3.5h-9.6zM461.5 249.9h9.6v3.5h-9.6zM464.5 252.9h9.6v3.5h-9.6zM467.5 255.9h9.6v3.5h-9.6zM473.6 258.9h6.6v3.5h-6.6zM476.6 261.9h9.6v3.5h-9.6zM482.7 264.9h6.6v3.5h-6.6zM488.7 268h3.5v3.5h-3.5zM494.8 271h3.5v3.5h-3.5zM500.8 274h3.5v3.5h-3.5zM506.9 277h3.5v3.5h-3.5zM570.5 277h18.7v3.5h-18.7zM512.9 280h3.5v3.5h-3.5zM558.4 280h3.5v3.5h-3.5zM588.7 280h6.6v3.5h-6.6zM552.3 283h3.5v3.5h-3.5zM594.7 283h6.6v3.5h-6.6zM516 286h3.5v3.5h-3.5zM552.3 286h3.5v3.5h-3.5zM597.8 286h6.6v3.5h-6.6zM600.8 289h6.6v3.5h-6.6zM603.8 292h6.6v3.5h-6.6zM606.8 295h3.5v3.5h-3.5zM606.8 298h6.6v3.5h-6.6zM519 301h3.5v3.5h-3.5zM549.3 301h3.5v3.5h-3.5zM609.9 301h3.5v3.5h-3.5zM519 304h3.5v3.5h-3.5zM549.3 304h3.5v3.5h-3.5zM609.9 304h3.5v3.5h-3.5zM519 307h3.5v3.5h-3.5zM549.3 307h3.5v3.5h-3.5zM609.9 307h3.5v3.5h-3.5zM609.9 310.1h3.5v3.5h-3.5zM609.9 313.1h3.5v3.5h-3.5zM609.9 316.1h3.5v3.5h-3.5zM609.9 319.1h3.5v3.5h-3.5zM609.9 322.1h3.5v3.5h-3.5zM609.9 325.1h3.5v3.5h-3.5zM555.4 328.1h3.5v3.5h-3.5zM606.8 328.1h6.6v3.5h-6.6zM558.4 331.1h3.5v3.5h-3.5zM606.8 331.1h6.6v3.5h-6.6zM573.5 334.1h3.5v3.5h-3.5zM603.8 334.1h9.6v3.5h-9.6zM497.8 337.1h3.5v3.5h-3.5zM579.6 337.1h9.6v3.5h-9.6zM600.8 337.1h12.6v3.5h-12.6zM585.6 340.1h27.8v3.5h-27.8zM491.7 343.1h3.5v3.5h-3.5zM588.7 343.1h24.7v3.5h-24.7zM588.7 346.1h24.7v3.5h-24.7zM591.7 349.1h18.7v3.5h-18.7zM491.7 352.2h3.5v3.5h-3.5zM588.7 352.2h24.7v3.5h-24.7zM491.7 355.2h3.5v3.5h-3.5zM585.6 355.2h27.8v3.5h-27.8zM494.8 358.2h3.5v3.5h-3.5zM582.6 358.2h30.8v3.5h-30.8zM497.8 361.2h3.5v3.5h-3.5zM576.6 361.2h6.6v3.5h-6.6zM600.8 361.2h12.6v3.5h-12.6zM567.5 364.2h6.6v3.5h-6.6zM603.8 364.2h9.6v3.5h-9.6zM606.8 367.2h6.6v3.5h-6.6zM512.9 370.2h3.5v3.5h-3.5zM555.4 370.2h3.5v3.5h-3.5zM606.8 370.2h6.6v3.5h-6.6zM609.9 373.2h3.5v3.5h-3.5zM609.9 376.2h3.5v3.5h-3.5zM516 379.2h3.5v3.5h-3.5zM552.3 379.2h3.5v3.5h-3.5zM609.9 379.2h3.5v3.5h-3.5zM609.9 382.2h3.5v3.5h-3.5zM609.9 385.2h3.5v3.5h-3.5zM519 388.2h3.5v3.5h-3.5zM549.3 388.2h3.5v3.5h-3.5zM609.9 388.2h3.5v3.5h-3.5zM519 391.2h3.5v3.5h-3.5zM549.3 391.2h3.5v3.5h-3.5zM609.9 391.2h3.5v3.5h-3.5zM519 394.3h3.5v3.5h-3.5zM549.3 394.3h3.5v3.5h-3.5zM609.9 394.3h3.5v3.5h-3.5zM519 397.3h3.5v3.5h-3.5zM549.3 397.3h3.5v3.5h-3.5zM606.8 397.3h6.6v3.5h-6.6zM606.8 400.3h6.6v3.5h-6.6zM603.8 403.3h6.6v3.5h-6.6zM603.8 406.3h6.6v3.5h-6.6zM516 409.3h3.5v3.5h-3.5zM600.8 409.3h6.6v3.5h-6.6zM552.3 412.3h3.5v3.5h-3.5zM597.8 412.3h6.6v3.5h-6.6zM552.3 415.3h3.5v3.5h-3.5zM591.7 415.3h6.6v3.5h-6.6zM509.9 418.3h3.5v3.5h-3.5zM561.4 418.3h3.5v3.5h-3.5zM585.6 418.3h9.6v3.5h-9.6zM503.9 421.3h3.5v3.5h-3.5zM497.8 424.3h3.5v3.5h-3.5zM491.7 427.3h3.5v3.5h-3.5zM485.7 430.3h6.6v3.5h-6.6zM479.6 433.3h6.6v3.5h-6.6zM476.6 436.4h6.6v3.5h-6.6zM470.5 439.4h9.6v3.5h-9.6zM467.5 442.4h9.6v3.5h-9.6zM464.5 445.4h9.6v3.5h-9.6zM461.5 448.4h9.6v3.5h-9.6zM458.4 451.4h9.6v3.5h-9.6zM455.4 454.4h9.6v3.5h-9.6z"/><path fill="#c4fc2c" d="M464.5 243.9h3.5v3.5h-3.5zM609.9 295h3.5v3.5h-3.5zM549.3 310.1h3.5v3.5h-3.5zM491.7 346.1h3.5v3.5h-3.5zM588.7 349.1h3.5v3.5h-3.5zM609.9 349.1h3.5v3.5h-3.5zM597.8 415.3h3.5v3.5h-3.5z"/><path fill="#c4fc34" d="M467.5 243.9h6.6v3.5h-6.6zM467.5 246.9h6.6v3.5h-6.6zM470.5 249.9h6.6v3.5h-6.6zM473.6 252.9h6.6v3.5h-6.6zM476.6 255.9h6.6v3.5h-6.6zM479.6 258.9h6.6v3.5h-6.6zM485.7 261.9h3.5v3.5h-3.5zM488.7 264.9h3.5v3.5h-3.5zM491.7 268h6.6v3.5h-6.6zM497.8 271h3.5v3.5h-3.5zM579.6 274h9.6v3.5h-9.6zM564.4 277h6.6v3.5h-6.6zM588.7 277h9.6v3.5h-9.6zM555.4 280h3.5v3.5h-3.5zM594.7 280h9.6v3.5h-9.6zM516 283h3.5v3.5h-3.5zM600.8 283h9.6v3.5h-9.6zM603.8 286h9.6v3.5h-9.6zM606.8 289h6.6v3.5h-6.6zM609.9 292h3.5v3.5h-3.5zM519 298h3.5v3.5h-3.5zM549.3 298h3.5v3.5h-3.5zM519 310.1h3.5v3.5h-3.5zM516 319.1h3.5v3.5h-3.5zM552.3 319.1h3.5v3.5h-3.5zM512.9 328.1h3.5v3.5h-3.5zM503.9 334.1h3.5v3.5h-3.5zM570.5 334.1h3.5v3.5h-3.5zM576.6 337.1h3.5v3.5h-3.5zM494.8 340.1h3.5v3.5h-3.5zM579.6 340.1h6.6v3.5h-6.6zM582.6 343.1h6.6v3.5h-6.6zM585.6 346.1h3.5v3.5h-3.5zM491.7 349.1h3.5v3.5h-3.5zM585.6 349.1h3.5v3.5h-3.5zM582.6 352.2h6.6v3.5h-6.6zM494.8 355.2h3.5v3.5h-3.5zM582.6 355.2h3.5v3.5h-3.5zM579.6 358.2h3.5v3.5h-3.5zM500.8 361.2h3.5v3.5h-3.5zM573.5 361.2h3.5v3.5h-3.5zM506.9 364.2h3.5v3.5h-3.5zM564.4 364.2h3.5v3.5h-3.5zM555.4 367.2h3.5v3.5h-3.5zM519 385.2h3.5v3.5h-3.5zM549.3 385.2h3.5v3.5h-3.5zM519 400.3h3.5v3.5h-3.5zM549.3 400.3h3.5v3.5h-3.5zM609.9 403.3h3.5v3.5h-3.5zM609.9 406.3h3.5v3.5h-3.5zM606.8 409.3h6.6v3.5h-6.6zM516 412.3h3.5v3.5h-3.5zM603.8 412.3h6.6v3.5h-6.6zM516 415.3h3.5v3.5h-3.5zM600.8 415.3h6.6v3.5h-6.6zM558.4 418.3h3.5v3.5h-3.5zM594.7 418.3h9.6v3.5h-9.6zM506.9 421.3h3.5v3.5h-3.5zM567.5 421.3h27.8v3.5h-27.8zM500.8 424.3h3.5v3.5h-3.5zM494.8 427.3h3.5v3.5h-3.5zM491.7 430.3h3.5v3.5h-3.5zM485.7 433.3h6.6v3.5h-6.6zM482.7 436.4h6.6v3.5h-6.6zM479.6 439.4h6.6v3.5h-6.6zM476.6 442.4h6.6v3.5h-6.6zM473.6 445.4h6.6v3.5h-6.6zM470.5 448.4h6.6v3.5h-6.6zM467.5 451.4h6.6v3.5h-6.6zM464.5 454.4h6.6v3.5h-6.6z"/><path fill="#bcfc3c" d="M473.6 243.9h3.5v3.5h-3.5zM473.6 246.9h6.6v3.5h-6.6zM476.6 249.9h6.6v3.5h-6.6zM479.6 252.9h3.5v3.5h-3.5zM482.7 255.9h3.5v3.5h-3.5zM485.7 258.9h3.5v3.5h-3.5zM488.7 261.9h3.5v3.5h-3.5zM491.7 264.9h3.5v3.5h-3.5zM500.8 271h3.5v3.5h-3.5zM582.6 271h12.6v3.5h-12.6zM570.5 274h6.6v3.5h-6.6zM588.7 274h15.6v3.5h-15.6zM509.9 277h3.5v3.5h-3.5zM561.4 277h3.5v3.5h-3.5zM600.8 277h9.6v3.5h-9.6zM603.8 280h9.6v3.5h-9.6zM609.9 283h3.5v3.5h-3.5zM519 295h3.5v3.5h-3.5zM549.3 295h3.5v3.5h-3.5zM519 313.1h3.5v3.5h-3.5zM549.3 313.1h3.5v3.5h-3.5zM552.3 322.1h3.5v3.5h-3.5zM555.4 331.1h3.5v3.5h-3.5zM567.5 334.1h3.5v3.5h-3.5zM573.5 337.1h3.5v3.5h-3.5zM576.6 340.1h3.5v3.5h-3.5zM494.8 343.1h3.5v3.5h-3.5zM579.6 343.1h3.5v3.5h-3.5zM579.6 346.1h3.5v3.5h-3.5zM579.6 349.1h6.6v3.5h-6.6zM579.6 352.2h3.5v3.5h-3.5zM579.6 355.2h3.5v3.5h-3.5zM497.8 358.2h3.5v3.5h-3.5zM576.6 358.2h3.5v3.5h-3.5zM570.5 361.2h3.5v3.5h-3.5zM561.4 364.2h3.5v3.5h-3.5zM512.9 367.2h3.5v3.5h-3.5zM516 376.2h3.5v3.5h-3.5zM552.3 376.2h3.5v3.5h-3.5zM549.3 382.2h3.5v3.5h-3.5zM549.3 403.3h3.5v3.5h-3.5zM609.9 412.3h3.5v3.5h-3.5zM606.8 415.3h6.6v3.5h-6.6zM512.9 418.3h3.5v3.5h-3.5zM603.8 418.3h9.6v3.5h-9.6zM564.4 421.3h3.5v3.5h-3.5zM597.8 421.3h12.6v3.5h-12.6zM503.9 424.3h3.5v3.5h-3.5zM573.5 424.3h27.8v3.5h-27.8zM494.8 430.3h3.5v3.5h-3.5zM491.7 433.3h3.5v3.5h-3.5zM488.7 436.4h3.5v3.5h-3.5zM485.7 439.4h3.5v3.5h-3.5zM482.7 442.4h3.5v3.5h-3.5zM479.6 445.4h3.5v3.5h-3.5zM476.6 448.4h3.5v3.5h-3.5zM473.6 451.4h6.6v3.5h-6.6zM470.5 454.4h6.6v3.5h-6.6z"/><path fill="#b4fc3c" d="M476.6 243.9h3.5v3.5h-3.5zM482.7 252.9h3.5v3.5h-3.5zM509.9 364.2h3.5v3.5h-3.5zM479.6 448.4h3.5v3.5h-3.5z"/><path fill="#b4fc44" d="M479.6 243.9h3.5v3.5h-3.5zM479.6 246.9h6.6v3.5h-6.6zM482.7 249.9h3.5v3.5h-3.5zM485.7 252.9h3.5v3.5h-3.5zM485.7 255.9h3.5v3.5h-3.5zM488.7 258.9h3.5v3.5h-3.5zM491.7 261.9h3.5v3.5h-3.5zM494.8 264.9h3.5v3.5h-3.5zM497.8 268h3.5v3.5h-3.5zM582.6 268h24.7v3.5h-24.7zM573.5 271h9.6v3.5h-9.6zM594.7 271h18.7v3.5h-18.7zM567.5 274h3.5v3.5h-3.5zM603.8 274h9.6v3.5h-9.6zM609.9 277h3.5v3.5h-3.5zM549.3 292h3.5v3.5h-3.5zM522 304h3.5v3.5h-3.5zM546.3 304h3.5v3.5h-3.5zM522 307h3.5v3.5h-3.5zM546.3 307h3.5v3.5h-3.5zM519 316.1h3.5v3.5h-3.5zM549.3 316.1h3.5v3.5h-3.5zM516 322.1h3.5v3.5h-3.5zM512.9 331.1h3.5v3.5h-3.5zM506.9 334.1h3.5v3.5h-3.5zM564.4 334.1h3.5v3.5h-3.5zM500.8 337.1h3.5v3.5h-3.5zM570.5 337.1h3.5v3.5h-3.5zM497.8 340.1h3.5v3.5h-3.5zM573.5 340.1h3.5v3.5h-3.5zM576.6 343.1h3.5v3.5h-3.5zM494.8 346.1h3.5v3.5h-3.5zM494.8 349.1h3.5v3.5h-3.5zM494.8 352.2h3.5v3.5h-3.5zM576.6 352.2h3.5v3.5h-3.5zM576.6 355.2h3.5v3.5h-3.5zM573.5 358.2h3.5v3.5h-3.5zM567.5 361.2h3.5v3.5h-3.5zM519 382.2h3.5v3.5h-3.5zM546.3 388.2h3.5v3.5h-3.5zM522 391.2h3.5v3.5h-3.5zM546.3 391.2h3.5v3.5h-3.5zM546.3 394.3h3.5v3.5h-3.5zM519 403.3h3.5v3.5h-3.5zM555.4 418.3h3.5v3.5h-3.5zM561.4 421.3h3.5v3.5h-3.5zM609.9 421.3h3.5v3.5h-3.5zM567.5 424.3h6.6v3.5h-6.6zM600.8 424.3h12.6v3.5h-12.6zM500.8 427.3h3.5v3.5h-3.5zM576.6 427.3h33.8v3.5h-33.8zM497.8 430.3h3.5v3.5h-3.5zM588.7 430.3h12.6v3.5h-12.6zM494.8 433.3h3.5v3.5h-3.5zM491.7 436.4h3.5v3.5h-3.5zM488.7 439.4h3.5v3.5h-3.5zM485.7 442.4h3.5v3.5h-3.5zM482.7 445.4h3.5v3.5h-3.5zM482.7 448.4h3.5v3.5h-3.5zM479.6 451.4h3.5v3.5h-3.5zM476.6 454.4h6.6v3.5h-6.6z"/><path fill="#acfc4c" d="M482.7 243.9h3.5v3.5h-3.5zM485.7 246.9h3.5v3.5h-3.5zM485.7 249.9h3.5v3.5h-3.5zM488.7 252.9h3.5v3.5h-3.5zM488.7 255.9h3.5v3.5h-3.5zM491.7 258.9h3.5v3.5h-3.5zM494.8 261.9h3.5v3.5h-3.5zM591.7 261.9h21.7v3.5h-21.7zM497.8 264.9h3.5v3.5h-3.5zM582.6 264.9h30.8v3.5h-30.8zM500.8 268h3.5v3.5h-3.5zM573.5 268h9.6v3.5h-9.6zM606.8 268h6.6v3.5h-6.6zM503.9 271h3.5v3.5h-3.5zM570.5 271h3.5v3.5h-3.5zM506.9 274h3.5v3.5h-3.5zM564.4 274h3.5v3.5h-3.5zM558.4 277h3.5v3.5h-3.5zM516 280h3.5v3.5h-3.5zM552.3 280h3.5v3.5h-3.5zM519 292h3.5v3.5h-3.5zM522 301h3.5v3.5h-3.5zM546.3 301h3.5v3.5h-3.5zM522 310.1h3.5v3.5h-3.5zM546.3 310.1h3.5v3.5h-3.5zM561.4 334.1h3.5v3.5h-3.5zM567.5 337.1h3.5v3.5h-3.5zM573.5 343.1h3.5v3.5h-3.5zM576.6 346.1h3.5v3.5h-3.5zM576.6 349.1h3.5v3.5h-3.5zM497.8 355.2h3.5v3.5h-3.5zM573.5 355.2h3.5v3.5h-3.5zM570.5 358.2h3.5v3.5h-3.5zM503.9 361.2h3.5v3.5h-3.5zM558.4 364.2h3.5v3.5h-3.5zM552.3 373.2h3.5v3.5h-3.5zM549.3 379.2h3.5v3.5h-3.5zM522 388.2h3.5v3.5h-3.5zM522 394.3h3.5v3.5h-3.5zM546.3 397.3h3.5v3.5h-3.5zM549.3 406.3h3.5v3.5h-3.5zM509.9 421.3h3.5v3.5h-3.5zM564.4 424.3h3.5v3.5h-3.5zM570.5 427.3h6.6v3.5h-6.6zM576.6 430.3h12.6v3.5h-12.6zM600.8 430.3h12.6v3.5h-12.6zM585.6 433.3h27.8v3.5h-27.8zM494.8 436.4h3.5v3.5h-3.5zM597.8 436.4h9.6v3.5h-9.6zM491.7 439.4h3.5v3.5h-3.5zM488.7 442.4h3.5v3.5h-3.5zM488.7 445.4h3.5v3.5h-3.5zM485.7 448.4h3.5v3.5h-3.5zM482.7 451.4h6.6v3.5h-6.6zM482.7 454.4h3.5v3.5h-3.5z"/><path fill="#a4fc54" d="M485.7 243.9h6.6v3.5h-6.6zM488.7 246.9h3.5v3.5h-3.5zM488.7 249.9h3.5v3.5h-3.5zM491.7 252.9h3.5v3.5h-3.5zM600.8 252.9h12.6v3.5h-12.6zM491.7 255.9h3.5v3.5h-3.5zM591.7 255.9h21.7v3.5h-21.7zM494.8 258.9h3.5v3.5h-3.5zM585.6 258.9h27.8v3.5h-27.8zM497.8 261.9h3.5v3.5h-3.5zM579.6 261.9h9.6v3.5h-9.6zM576.6 264.9h6.6v3.5h-6.6zM570.5 268h3.5v3.5h-3.5zM561.4 274h3.5v3.5h-3.5zM549.3 289h3.5v3.5h-3.5zM546.3 298h3.5v3.5h-3.5zM546.3 313.1h3.5v3.5h-3.5zM549.3 319.1h3.5v3.5h-3.5zM552.3 325.1h3.5v3.5h-3.5zM570.5 340.1h3.5v3.5h-3.5zM497.8 343.1h3.5v3.5h-3.5zM573.5 346.1h3.5v3.5h-3.5zM573.5 349.1h3.5v3.5h-3.5zM573.5 352.2h3.5v3.5h-3.5zM500.8 358.2h3.5v3.5h-3.5zM564.4 361.2h3.5v3.5h-3.5zM512.9 364.2h3.5v3.5h-3.5zM516 373.2h3.5v3.5h-3.5zM519 379.2h3.5v3.5h-3.5zM522 385.2h3.5v3.5h-3.5zM546.3 385.2h3.5v3.5h-3.5zM522 397.3h3.5v3.5h-3.5zM546.3 400.3h3.5v3.5h-3.5zM519 406.3h3.5v3.5h-3.5zM549.3 409.3h3.5v3.5h-3.5zM558.4 421.3h3.5v3.5h-3.5zM506.9 424.3h3.5v3.5h-3.5zM503.9 427.3h3.5v3.5h-3.5zM567.5 427.3h3.5v3.5h-3.5zM500.8 430.3h3.5v3.5h-3.5zM573.5 430.3h3.5v3.5h-3.5zM497.8 433.3h3.5v3.5h-3.5zM576.6 433.3h6.6v3.5h-6.6zM582.6 436.4h12.6v3.5h-12.6zM606.8 436.4h6.6v3.5h-6.6zM494.8 439.4h3.5v3.5h-3.5zM588.7 439.4h24.7v3.5h-24.7zM491.7 442.4h3.5v3.5h-3.5zM594.7 442.4h18.7v3.5h-18.7zM491.7 445.4h3.5v3.5h-3.5zM488.7 448.4h3.5v3.5h-3.5zM488.7 451.4h3.5v3.5h-3.5zM485.7 454.4h6.6v3.5h-6.6z"/><path fill="#9cfc5c" d="M491.7 243.9h3.5v3.5h-3.5zM600.8 243.9h12.6v3.5h-12.6zM491.7 246.9h3.5v3.5h-3.5zM597.8 246.9h15.6v3.5h-15.6zM491.7 249.9h3.5v3.5h-3.5zM591.7 249.9h21.7v3.5h-21.7zM494.8 252.9h3.5v3.5h-3.5zM588.7 252.9h12.6v3.5h-12.6zM494.8 255.9h3.5v3.5h-3.5zM585.6 255.9h6.6v3.5h-6.6zM497.8 258.9h3.5v3.5h-3.5zM579.6 258.9h6.6v3.5h-6.6zM576.6 261.9h3.5v3.5h-3.5zM500.8 264.9h3.5v3.5h-3.5zM573.5 264.9h3.5v3.5h-3.5zM503.9 268h3.5v3.5h-3.5zM564.4 271h3.5v3.5h-3.5zM512.9 277h3.5v3.5h-3.5zM555.4 277h3.5v3.5h-3.5zM519 289h3.5v3.5h-3.5zM522 298h3.5v3.5h-3.5zM522 313.1h3.5v3.5h-3.5zM519 319.1h3.5v3.5h-3.5zM516 325.1h3.5v3.5h-3.5zM509.9 334.1h3.5v3.5h-3.5zM503.9 337.1h3.5v3.5h-3.5zM500.8 340.1h3.5v3.5h-3.5zM497.8 346.1h3.5v3.5h-3.5zM497.8 349.1h3.5v3.5h-3.5zM497.8 352.2h3.5v3.5h-3.5zM570.5 355.2h3.5v3.5h-3.5zM555.4 364.2h3.5v3.5h-3.5zM543.2 391.2h3.5v3.5h-3.5zM522 400.3h3.5v3.5h-3.5zM516 418.3h3.5v3.5h-3.5zM552.3 418.3h3.5v3.5h-3.5zM561.4 424.3h3.5v3.5h-3.5zM570.5 430.3h3.5v3.5h-3.5zM500.8 433.3h3.5v3.5h-3.5zM573.5 433.3h3.5v3.5h-3.5zM497.8 436.4h3.5v3.5h-3.5zM576.6 436.4h6.6v3.5h-6.6zM582.6 439.4h6.6v3.5h-6.6zM494.8 442.4h3.5v3.5h-3.5zM585.6 442.4h9.6v3.5h-9.6zM588.7 445.4h18.7v3.5h-18.7zM491.7 448.4h3.5v3.5h-3.5zM594.7 448.4h18.7v3.5h-18.7zM491.7 451.4h3.5v3.5h-3.5zM597.8 451.4h15.6v3.5h-15.6zM491.7 454.4h3.5v3.5h-3.5zM603.8 454.4h9.6v3.5h-9.6z"/><path fill="#94fc64" d="M494.8 243.9h3.5v3.5h-3.5zM591.7 243.9h9.6v3.5h-9.6zM494.8 246.9h3.5v3.5h-3.5zM588.7 246.9h9.6v3.5h-9.6zM494.8 249.9h3.5v3.5h-3.5zM585.6 249.9h6.6v3.5h-6.6zM582.6 252.9h6.6v3.5h-6.6zM497.8 255.9h3.5v3.5h-3.5zM579.6 255.9h3.5v3.5h-3.5zM576.6 258.9h3.5v3.5h-3.5zM500.8 261.9h3.5v3.5h-3.5zM573.5 261.9h3.5v3.5h-3.5zM570.5 264.9h3.5v3.5h-3.5zM506.9 271h3.5v3.5h-3.5zM509.9 274h3.5v3.5h-3.5zM558.4 274h3.5v3.5h-3.5zM549.3 286h3.5v3.5h-3.5zM546.3 295h3.5v3.5h-3.5zM543.2 301h3.5v3.5h-3.5zM525.1 304h3.5v3.5h-3.5zM543.2 304h3.5v3.5h-3.5zM525.1 307h3.5v3.5h-3.5zM543.2 307h3.5v3.5h-3.5zM543.2 310.1h3.5v3.5h-3.5zM558.4 334.1h3.5v3.5h-3.5zM564.4 337.1h3.5v3.5h-3.5zM570.5 343.1h3.5v3.5h-3.5zM567.5 358.2h3.5v3.5h-3.5zM506.9 361.2h3.5v3.5h-3.5zM552.3 370.2h3.5v3.5h-3.5zM549.3 376.2h3.5v3.5h-3.5zM522 382.2h3.5v3.5h-3.5zM546.3 382.2h3.5v3.5h-3.5zM525.1 388.2h3.5v3.5h-3.5zM543.2 388.2h3.5v3.5h-3.5zM525.1 391.2h3.5v3.5h-3.5zM525.1 394.3h3.5v3.5h-3.5zM543.2 394.3h3.5v3.5h-3.5zM519 409.3h3.5v3.5h-3.5zM549.3 412.3h3.5v3.5h-3.5zM506.9 427.3h3.5v3.5h-3.5zM564.4 427.3h3.5v3.5h-3.5zM503.9 430.3h3.5v3.5h-3.5zM567.5 430.3h3.5v3.5h-3.5zM570.5 433.3h3.5v3.5h-3.5zM500.8 436.4h3.5v3.5h-3.5zM573.5 436.4h3.5v3.5h-3.5zM497.8 439.4h3.5v3.5h-3.5zM576.6 439.4h6.6v3.5h-6.6zM497.8 442.4h3.5v3.5h-3.5zM579.6 442.4h6.6v3.5h-6.6zM582.6 445.4h6.6v3.5h-6.6zM494.8 448.4h3.5v3.5h-3.5zM585.6 448.4h9.6v3.5h-9.6zM494.8 451.4h3.5v3.5h-3.5zM588.7 451.4h9.6v3.5h-9.6zM494.8 454.4h3.5v3.5h-3.5zM591.7 454.4h12.6v3.5h-12.6z"/><path fill="#8cfc6c" d="M497.8 243.9h3.5v3.5h-3.5zM582.6 243.9h9.6v3.5h-9.6zM497.8 246.9h3.5v3.5h-3.5zM582.6 246.9h6.6v3.5h-6.6zM497.8 249.9h3.5v3.5h-3.5zM579.6 249.9h6.6v3.5h-6.6zM497.8 252.9h3.5v3.5h-3.5zM576.6 252.9h6.6v3.5h-6.6zM576.6 255.9h3.5v3.5h-3.5zM500.8 258.9h3.5v3.5h-3.5zM573.5 258.9h3.5v3.5h-3.5zM570.5 261.9h3.5v3.5h-3.5zM503.9 264.9h3.5v3.5h-3.5zM567.5 264.9h3.5v3.5h-3.5zM564.4 268h3.5v3.5h-3.5zM561.4 271h3.5v3.5h-3.5zM549.3 280h3.5v3.5h-3.5zM549.3 283h3.5v3.5h-3.5zM519 286h3.5v3.5h-3.5zM522 295h3.5v3.5h-3.5zM525.1 301h3.5v3.5h-3.5zM525.1 310.1h3.5v3.5h-3.5zM522 316.1h3.5v3.5h-3.5zM546.3 316.1h3.5v3.5h-3.5zM552.3 328.1h3.5v3.5h-3.5zM567.5 340.1h3.5v3.5h-3.5zM570.5 346.1h3.5v3.5h-3.5zM570.5 349.1h3.5v3.5h-3.5zM570.5 352.2h3.5v3.5h-3.5zM500.8 355.2h3.5v3.5h-3.5zM561.4 361.2h3.5v3.5h-3.5zM516 370.2h3.5v3.5h-3.5zM519 376.2h3.5v3.5h-3.5zM543.2 385.2h3.5v3.5h-3.5zM525.1 397.3h3.5v3.5h-3.5zM543.2 397.3h3.5v3.5h-3.5zM546.3 403.3h3.5v3.5h-3.5zM549.3 415.3h3.5v3.5h-3.5zM512.9 421.3h3.5v3.5h-3.5zM555.4 421.3h3.5v3.5h-3.5zM509.9 424.3h3.5v3.5h-3.5zM503.9 433.3h3.5v3.5h-3.5zM570.5 436.4h3.5v3.5h-3.5zM500.8 439.4h3.5v3.5h-3.5zM573.5 439.4h3.5v3.5h-3.5zM576.6 442.4h3.5v3.5h-3.5zM497.8 445.4h3.5v3.5h-3.5zM579.6 445.4h3.5v3.5h-3.5zM497.8 448.4h3.5v3.5h-3.5zM579.6 448.4h6.6v3.5h-6.6zM497.8 451.4h3.5v3.5h-3.5zM582.6 451.4h6.6v3.5h-6.6zM497.8 454.4h3.5v3.5h-3.5zM585.6 454.4h6.6v3.5h-6.6z"/><path fill="#84fc74" d="M500.8 243.9h3.5v3.5h-3.5zM579.6 243.9h3.5v3.5h-3.5zM500.8 246.9h3.5v3.5h-3.5zM576.6 246.9h6.6v3.5h-6.6zM500.8 249.9h3.5v3.5h-3.5zM576.6 249.9h3.5v3.5h-3.5zM500.8 252.9h3.5v3.5h-3.5zM573.5 252.9h3.5v3.5h-3.5zM500.8 255.9h3.5v3.5h-3.5zM573.5 255.9h3.5v3.5h-3.5zM570.5 258.9h3.5v3.5h-3.5zM503.9 261.9h3.5v3.5h-3.5zM567.5 261.9h3.5v3.5h-3.5zM506.9 268h3.5v3.5h-3.5zM546.3 292h3.5v3.5h-3.5zM543.2 298h3.5v3.5h-3.5zM540.2 304h3.5v3.5h-3.5zM528.1 307h3.5v3.5h-3.5zM540.2 307h3.5v3.5h-3.5zM543.2 313.1h3.5v3.5h-3.5zM549.3 322.1h3.5v3.5h-3.5zM512.9 334.1h3.5v3.5h-3.5zM506.9 337.1h3.5v3.5h-3.5zM500.8 343.1h3.5v3.5h-3.5zM567.5 355.2h3.5v3.5h-3.5zM503.9 358.2h3.5v3.5h-3.5zM525.1 385.2h3.5v3.5h-3.5zM528.1 391.2h3.5v3.5h-3.5zM540.2 391.2h3.5v3.5h-3.5zM522 403.3h3.5v3.5h-3.5zM519 412.3h3.5v3.5h-3.5zM558.4 424.3h3.5v3.5h-3.5zM561.4 427.3h3.5v3.5h-3.5zM506.9 430.3h3.5v3.5h-3.5zM564.4 430.3h3.5v3.5h-3.5zM567.5 433.3h3.5v3.5h-3.5zM503.9 436.4h3.5v3.5h-3.5zM570.5 439.4h3.5v3.5h-3.5zM500.8 442.4h3.5v3.5h-3.5zM573.5 442.4h3.5v3.5h-3.5zM500.8 445.4h3.5v3.5h-3.5zM573.5 445.4h6.6v3.5h-6.6zM500.8 448.4h3.5v3.5h-3.5zM576.6 448.4h3.5v3.5h-3.5zM500.8 451.4h3.5v3.5h-3.5zM576.6 451.4h6.6v3.5h-6.6zM500.8 454.4h3.5v3.5h-3.5zM579.6 454.4h6.6v3.5h-6.6z"/><path fill="#7cfc7c" d="M503.9 243.9h3.5v3.5h-3.5zM573.5 243.9h6.6v3.5h-6.6zM573.5 246.9h3.5v3.5h-3.5zM573.5 249.9h3.5v3.5h-3.5zM570.5 252.9h3.5v3.5h-3.5zM503.9 255.9h3.5v3.5h-3.5zM570.5 255.9h3.5v3.5h-3.5zM503.9 258.9h3.5v3.5h-3.5zM567.5 258.9h3.5v3.5h-3.5zM506.9 264.9h3.5v3.5h-3.5zM564.4 264.9h3.5v3.5h-3.5zM561.4 268h3.5v3.5h-3.5zM509.9 271h3.5v3.5h-3.5zM558.4 271h3.5v3.5h-3.5zM512.9 274h3.5v3.5h-3.5zM516 277h3.5v3.5h-3.5zM552.3 277h3.5v3.5h-3.5zM519 283h3.5v3.5h-3.5zM522 292h3.5v3.5h-3.5zM525.1 298h3.5v3.5h-3.5zM540.2 301h3.5v3.5h-3.5zM528.1 304h3.5v3.5h-3.5zM528.1 310.1h3.5v3.5h-3.5zM540.2 310.1h3.5v3.5h-3.5zM519 322.1h3.5v3.5h-3.5zM516 328.1h3.5v3.5h-3.5zM555.4 334.1h3.5v3.5h-3.5zM561.4 337.1h3.5v3.5h-3.5zM503.9 340.1h3.5v3.5h-3.5zM567.5 343.1h3.5v3.5h-3.5zM500.8 346.1h3.5v3.5h-3.5zM500.8 349.1h3.5v3.5h-3.5zM500.8 352.2h3.5v3.5h-3.5zM564.4 358.2h3.5v3.5h-3.5zM552.3 367.2h3.5v3.5h-3.5zM522 379.2h3.5v3.5h-3.5zM546.3 379.2h3.5v3.5h-3.5zM528.1 388.2h3.5v3.5h-3.5zM540.2 388.2h3.5v3.5h-3.5zM528.1 394.3h3.5v3.5h-3.5zM540.2 394.3h3.5v3.5h-3.5zM543.2 400.3h3.5v3.5h-3.5zM546.3 406.3h3.5v3.5h-3.5zM509.9 427.3h3.5v3.5h-3.5zM564.4 433.3h3.5v3.5h-3.5zM567.5 436.4h3.5v3.5h-3.5zM503.9 439.4h3.5v3.5h-3.5zM567.5 439.4h3.5v3.5h-3.5zM503.9 442.4h3.5v3.5h-3.5zM570.5 442.4h3.5v3.5h-3.5zM570.5 445.4h3.5v3.5h-3.5zM573.5 448.4h3.5v3.5h-3.5zM573.5 451.4h3.5v3.5h-3.5zM503.9 454.4h3.5v3.5h-3.5zM573.5 454.4h6.6v3.5h-6.6z"/><path fill="#6cfc8c" d="M506.9 243.9h3.5v3.5h-3.5zM567.5 243.9h3.5v3.5h-3.5zM506.9 246.9h3.5v3.5h-3.5zM567.5 246.9h3.5v3.5h-3.5zM506.9 249.9h3.5v3.5h-3.5zM567.5 249.9h3.5v3.5h-3.5zM506.9 252.9h3.5v3.5h-3.5zM506.9 255.9h3.5v3.5h-3.5zM564.4 255.9h3.5v3.5h-3.5zM506.9 258.9h3.5v3.5h-3.5zM564.4 258.9h3.5v3.5h-3.5zM561.4 264.9h3.5v3.5h-3.5zM509.9 268h3.5v3.5h-3.5zM546.3 289h3.5v3.5h-3.5zM525.1 295h3.5v3.5h-3.5zM540.2 298h3.5v3.5h-3.5zM531.1 301h3.5v3.5h-3.5zM537.2 301h3.5v3.5h-3.5zM534.1 304h3.5v3.5h-3.5zM531.1 310.1h9.6v3.5h-9.6zM528.1 313.1h3.5v3.5h-3.5zM540.2 313.1h3.5v3.5h-3.5zM525.1 316.1h3.5v3.5h-3.5zM543.2 316.1h3.5v3.5h-3.5zM522 319.1h3.5v3.5h-3.5zM549.3 325.1h3.5v3.5h-3.5zM567.5 349.1h3.5v3.5h-3.5zM503.9 355.2h3.5v3.5h-3.5zM558.4 361.2h3.5v3.5h-3.5zM552.3 364.2h3.5v3.5h-3.5zM516 367.2h3.5v3.5h-3.5zM519 373.2h3.5v3.5h-3.5zM534.1 388.2h3.5v3.5h-3.5zM534.1 394.3h3.5v3.5h-3.5zM543.2 403.3h3.5v3.5h-3.5zM519 418.3h3.5v3.5h-3.5zM516 421.3h3.5v3.5h-3.5zM552.3 421.3h3.5v3.5h-3.5zM512.9 424.3h3.5v3.5h-3.5zM555.4 424.3h3.5v3.5h-3.5zM509.9 430.3h3.5v3.5h-3.5zM561.4 433.3h3.5v3.5h-3.5zM506.9 439.4h3.5v3.5h-3.5zM564.4 439.4h3.5v3.5h-3.5zM506.9 442.4h3.5v3.5h-3.5zM564.4 442.4h3.5v3.5h-3.5zM506.9 445.4h3.5v3.5h-3.5zM506.9 448.4h3.5v3.5h-3.5zM567.5 448.4h3.5v3.5h-3.5zM506.9 451.4h3.5v3.5h-3.5zM567.5 451.4h3.5v3.5h-3.5zM506.9 454.4h3.5v3.5h-3.5zM567.5 454.4h3.5v3.5h-3.5z"/><path fill="#64fc94" d="M509.9 243.9h3.5v3.5h-3.5zM564.4 243.9h3.5v3.5h-3.5zM509.9 246.9h3.5v3.5h-3.5zM564.4 246.9h3.5v3.5h-3.5zM564.4 249.9h3.5v3.5h-3.5zM564.4 252.9h3.5v3.5h-3.5zM561.4 258.9h3.5v3.5h-3.5zM561.4 261.9h3.5v3.5h-3.5zM509.9 264.9h3.5v3.5h-3.5zM558.4 268h3.5v3.5h-3.5zM512.9 271h3.5v3.5h-3.5zM522 289h3.5v3.5h-3.5zM528.1 298h3.5v3.5h-3.5zM534.1 301h3.5v3.5h-3.5zM537.2 313.1h3.5v3.5h-3.5zM516 331.1h3.5v3.5h-3.5zM552.3 334.1h3.5v3.5h-3.5zM503.9 343.1h3.5v3.5h-3.5zM564.4 355.2h3.5v3.5h-3.5zM506.9 358.2h3.5v3.5h-3.5zM561.4 358.2h3.5v3.5h-3.5zM546.3 376.2h3.5v3.5h-3.5zM540.2 382.2h3.5v3.5h-3.5zM531.1 385.2h9.6v3.5h-9.6zM531.1 397.3h9.6v3.5h-9.6zM540.2 400.3h3.5v3.5h-3.5zM525.1 403.3h3.5v3.5h-3.5zM546.3 409.3h3.5v3.5h-3.5zM558.4 430.3h3.5v3.5h-3.5zM509.9 433.3h3.5v3.5h-3.5zM561.4 436.4h3.5v3.5h-3.5zM564.4 445.4h3.5v3.5h-3.5zM509.9 448.4h3.5v3.5h-3.5zM564.4 448.4h3.5v3.5h-3.5zM509.9 451.4h3.5v3.5h-3.5zM564.4 451.4h3.5v3.5h-3.5zM509.9 454.4h3.5v3.5h-3.5zM561.4 454.4h6.6v3.5h-6.6z"/><path fill="#5cfc9c" d="M512.9 243.9h3.5v3.5h-3.5zM558.4 243.9h6.6v3.5h-6.6zM561.4 246.9h3.5v3.5h-3.5zM509.9 249.9h3.5v3.5h-3.5zM561.4 249.9h3.5v3.5h-3.5zM509.9 252.9h3.5v3.5h-3.5zM561.4 252.9h3.5v3.5h-3.5zM509.9 255.9h3.5v3.5h-3.5zM561.4 255.9h3.5v3.5h-3.5zM509.9 258.9h3.5v3.5h-3.5zM509.9 261.9h3.5v3.5h-3.5zM558.4 264.9h3.5v3.5h-3.5zM555.4 271h3.5v3.5h-3.5zM543.2 292h3.5v3.5h-3.5zM531.1 298h3.5v3.5h-3.5zM537.2 298h3.5v3.5h-3.5zM531.1 313.1h6.6v3.5h-6.6zM519 325.1h3.5v3.5h-3.5zM509.9 337.1h3.5v3.5h-3.5zM558.4 337.1h3.5v3.5h-3.5zM506.9 340.1h3.5v3.5h-3.5zM564.4 343.1h3.5v3.5h-3.5zM503.9 352.2h3.5v3.5h-3.5zM516 364.2h3.5v3.5h-3.5zM522 376.2h3.5v3.5h-3.5zM525.1 379.2h3.5v3.5h-3.5zM543.2 379.2h3.5v3.5h-3.5zM528.1 382.2h3.5v3.5h-3.5zM528.1 400.3h3.5v3.5h-3.5zM522 409.3h3.5v3.5h-3.5zM512.9 427.3h3.5v3.5h-3.5zM555.4 427.3h3.5v3.5h-3.5zM558.4 433.3h3.5v3.5h-3.5zM509.9 436.4h3.5v3.5h-3.5zM509.9 439.4h3.5v3.5h-3.5zM509.9 442.4h3.5v3.5h-3.5zM561.4 442.4h3.5v3.5h-3.5zM509.9 445.4h3.5v3.5h-3.5zM561.4 445.4h3.5v3.5h-3.5zM561.4 448.4h3.5v3.5h-3.5zM512.9 451.4h3.5v3.5h-3.5zM561.4 451.4h3.5v3.5h-3.5zM512.9 454.4h3.5v3.5h-3.5zM558.4 454.4h3.5v3.5h-3.5z"/><path fill="#54fca4" d="M516 243.9h3.5v3.5h-3.5zM555.4 243.9h3.5v3.5h-3.5zM512.9 246.9h3.5v3.5h-3.5zM558.4 246.9h3.5v3.5h-3.5zM512.9 249.9h3.5v3.5h-3.5zM558.4 249.9h3.5v3.5h-3.5zM558.4 252.9h3.5v3.5h-3.5zM558.4 255.9h3.5v3.5h-3.5zM558.4 258.9h3.5v3.5h-3.5zM558.4 261.9h3.5v3.5h-3.5zM512.9 268h3.5v3.5h-3.5zM516 274h3.5v3.5h-3.5zM552.3 274h3.5v3.5h-3.5zM549.3 277h3.5v3.5h-3.5zM546.3 286h3.5v3.5h-3.5zM525.1 292h3.5v3.5h-3.5zM540.2 295h3.5v3.5h-3.5zM534.1 298h3.5v3.5h-3.5zM528.1 316.1h3.5v3.5h-3.5zM543.2 319.1h3.5v3.5h-3.5zM522 322.1h3.5v3.5h-3.5zM546.3 322.1h3.5v3.5h-3.5zM516 334.1h3.5v3.5h-3.5zM561.4 340.1h3.5v3.5h-3.5zM503.9 346.1h3.5v3.5h-3.5zM564.4 346.1h3.5v3.5h-3.5zM503.9 349.1h3.5v3.5h-3.5zM564.4 352.2h3.5v3.5h-3.5zM512.9 361.2h3.5v3.5h-3.5zM555.4 361.2h3.5v3.5h-3.5zM549.3 370.2h3.5v3.5h-3.5zM531.1 382.2h3.5v3.5h-3.5zM537.2 382.2h3.5v3.5h-3.5zM531.1 400.3h3.5v3.5h-3.5zM537.2 400.3h3.5v3.5h-3.5zM512.9 430.3h3.5v3.5h-3.5zM558.4 436.4h3.5v3.5h-3.5zM558.4 439.4h3.5v3.5h-3.5zM558.4 442.4h3.5v3.5h-3.5zM512.9 445.4h3.5v3.5h-3.5zM558.4 445.4h3.5v3.5h-3.5zM512.9 448.4h3.5v3.5h-3.5zM558.4 448.4h3.5v3.5h-3.5zM558.4 451.4h3.5v3.5h-3.5zM516 454.4h3.5v3.5h-3.5zM555.4 454.4h3.5v3.5h-3.5z"/><path fill="#4cfcac" d="M519 243.9h3.5v3.5h-3.5zM552.3 243.9h3.5v3.5h-3.5zM516 246.9h3.5v3.5h-3.5zM555.4 246.9h3.5v3.5h-3.5zM555.4 249.9h3.5v3.5h-3.5zM512.9 252.9h3.5v3.5h-3.5zM512.9 255.9h3.5v3.5h-3.5zM512.9 258.9h3.5v3.5h-3.5zM512.9 261.9h3.5v3.5h-3.5zM512.9 264.9h3.5v3.5h-3.5zM555.4 268h3.5v3.5h-3.5zM519 277h3.5v3.5h-3.5zM522 286h3.5v3.5h-3.5zM531.1 316.1h3.5v3.5h-3.5zM537.2 316.1h3.5v3.5h-3.5zM525.1 319.1h3.5v3.5h-3.5zM549.3 328.1h3.5v3.5h-3.5zM564.4 349.1h3.5v3.5h-3.5zM519 370.2h3.5v3.5h-3.5zM534.1 382.2h3.5v3.5h-3.5zM534.1 400.3h3.5v3.5h-3.5zM540.2 403.3h3.5v3.5h-3.5zM543.2 406.3h3.5v3.5h-3.5zM516 424.3h3.5v3.5h-3.5zM552.3 424.3h3.5v3.5h-3.5zM555.4 430.3h3.5v3.5h-3.5zM512.9 433.3h3.5v3.5h-3.5zM512.9 436.4h3.5v3.5h-3.5zM512.9 439.4h3.5v3.5h-3.5zM512.9 442.4h3.5v3.5h-3.5zM516 448.4h3.5v3.5h-3.5zM555.4 448.4h3.5v3.5h-3.5zM516 451.4h3.5v3.5h-3.5zM555.4 451.4h3.5v3.5h-3.5zM519 454.4h3.5v3.5h-3.5zM552.3 454.4h3.5v3.5h-3.5z"/><path fill="#44fcb4" d="M522 243.9h3.5v3.5h-3.5zM549.3 243.9h3.5v3.5h-3.5zM519 246.9h3.5v3.5h-3.5zM552.3 246.9h3.5v3.5h-3.5zM516 249.9h3.5v3.5h-3.5zM555.4 252.9h3.5v3.5h-3.5zM555.4 255.9h3.5v3.5h-3.5zM555.4 258.9h3.5v3.5h-3.5zM555.4 261.9h3.5v3.5h-3.5zM555.4 264.9h3.5v3.5h-3.5zM552.3 271h3.5v3.5h-3.5zM546.3 283h3.5v3.5h-3.5zM537.2 295h3.5v3.5h-3.5zM534.1 316.1h3.5v3.5h-3.5zM506.9 355.2h3.5v3.5h-3.5zM561.4 355.2h3.5v3.5h-3.5zM546.3 373.2h3.5v3.5h-3.5zM528.1 379.2h3.5v3.5h-3.5zM540.2 379.2h3.5v3.5h-3.5zM528.1 403.3h3.5v3.5h-3.5zM525.1 406.3h3.5v3.5h-3.5zM522 412.3h3.5v3.5h-3.5zM549.3 421.3h3.5v3.5h-3.5zM555.4 433.3h3.5v3.5h-3.5zM555.4 436.4h3.5v3.5h-3.5zM555.4 439.4h3.5v3.5h-3.5zM555.4 442.4h3.5v3.5h-3.5zM516 445.4h3.5v3.5h-3.5zM555.4 445.4h3.5v3.5h-3.5zM552.3 448.4h3.5v3.5h-3.5zM519 451.4h3.5v3.5h-3.5zM552.3 451.4h3.5v3.5h-3.5zM522 454.4h3.5v3.5h-3.5zM549.3 454.4h3.5v3.5h-3.5z"/><path fill="#3cfcbc" d="M525.1 243.9h3.5v3.5h-3.5zM546.3 243.9h3.5v3.5h-3.5zM522 246.9h3.5v3.5h-3.5zM549.3 246.9h3.5v3.5h-3.5zM519 249.9h3.5v3.5h-3.5zM552.3 249.9h3.5v3.5h-3.5zM552.3 252.9h3.5v3.5h-3.5zM516 255.9h3.5v3.5h-3.5zM516 271h3.5v3.5h-3.5zM546.3 280h3.5v3.5h-3.5zM543.2 289h3.5v3.5h-3.5zM534.1 295h3.5v3.5h-3.5zM540.2 319.1h3.5v3.5h-3.5zM519 328.1h3.5v3.5h-3.5zM512.9 337.1h3.5v3.5h-3.5zM555.4 337.1h3.5v3.5h-3.5zM506.9 343.1h3.5v3.5h-3.5zM561.4 343.1h3.5v3.5h-3.5zM509.9 358.2h3.5v3.5h-3.5zM558.4 358.2h3.5v3.5h-3.5zM549.3 367.2h3.5v3.5h-3.5zM522 373.2h3.5v3.5h-3.5zM525.1 376.2h3.5v3.5h-3.5zM543.2 376.2h3.5v3.5h-3.5zM546.3 415.3h3.5v3.5h-3.5zM519 421.3h3.5v3.5h-3.5zM516 427.3h3.5v3.5h-3.5zM552.3 427.3h3.5v3.5h-3.5zM516 442.4h3.5v3.5h-3.5zM552.3 445.4h3.5v3.5h-3.5zM519 448.4h3.5v3.5h-3.5zM522 451.4h3.5v3.5h-3.5zM549.3 451.4h3.5v3.5h-3.5zM525.1 454.4h6.6v3.5h-6.6zM543.2 454.4h6.6v3.5h-6.6z"/><path fill="#34fcc4" d="M528.1 243.9h18.7v3.5h-18.7zM525.1 246.9h3.5v3.5h-3.5zM546.3 246.9h3.5v3.5h-3.5zM549.3 249.9h3.5v3.5h-3.5zM519 252.9h3.5v3.5h-3.5zM552.3 255.9h3.5v3.5h-3.5zM516 258.9h3.5v3.5h-3.5zM516 261.9h3.5v3.5h-3.5zM516 264.9h3.5v3.5h-3.5zM516 268h3.5v3.5h-3.5zM552.3 268h3.5v3.5h-3.5zM522 283h3.5v3.5h-3.5zM525.1 289h3.5v3.5h-3.5zM528.1 292h3.5v3.5h-3.5zM540.2 292h3.5v3.5h-3.5zM528.1 319.1h3.5v3.5h-3.5zM543.2 322.1h3.5v3.5h-3.5zM546.3 325.1h3.5v3.5h-3.5zM516 361.2h3.5v3.5h-3.5zM552.3 361.2h3.5v3.5h-3.5zM531.1 379.2h9.6v3.5h-9.6zM531.1 403.3h9.6v3.5h-9.6zM543.2 409.3h3.5v3.5h-3.5zM546.3 418.3h3.5v3.5h-3.5zM516 430.3h3.5v3.5h-3.5zM552.3 430.3h3.5v3.5h-3.5zM516 433.3h3.5v3.5h-3.5zM516 436.4h3.5v3.5h-3.5zM516 439.4h3.5v3.5h-3.5zM552.3 439.4h3.5v3.5h-3.5zM552.3 442.4h3.5v3.5h-3.5zM519 445.4h3.5v3.5h-3.5zM522 448.4h3.5v3.5h-3.5zM549.3 448.4h3.5v3.5h-3.5zM525.1 451.4h3.5v3.5h-3.5zM543.2 451.4h6.6v3.5h-6.6zM531.1 454.4h12.6v3.5h-12.6z"/><path fill="#74fc84" d="M570.5 243.9h3.5v3.5h-3.5zM503.9 246.9h3.5v3.5h-3.5zM570.5 246.9h3.5v3.5h-3.5zM503.9 249.9h3.5v3.5h-3.5zM570.5 249.9h3.5v3.5h-3.5zM567.5 252.9h3.5v3.5h-3.5zM567.5 255.9h3.5v3.5h-3.5zM506.9 261.9h3.5v3.5h-3.5zM564.4 261.9h3.5v3.5h-3.5zM555.4 274h3.5v3.5h-3.5zM519 280h3.5v3.5h-3.5zM543.2 295h3.5v3.5h-3.5zM528.1 301h3.5v3.5h-3.5zM531.1 304h3.5v3.5h-3.5zM537.2 304h3.5v3.5h-3.5zM531.1 307h9.6v3.5h-9.6zM546.3 319.1h3.5v3.5h-3.5zM552.3 331.1h3.5v3.5h-3.5zM564.4 340.1h3.5v3.5h-3.5zM567.5 346.1h3.5v3.5h-3.5zM567.5 352.2h3.5v3.5h-3.5zM509.9 361.2h3.5v3.5h-3.5zM549.3 373.2h3.5v3.5h-3.5zM525.1 382.2h3.5v3.5h-3.5zM543.2 382.2h3.5v3.5h-3.5zM528.1 385.2h3.5v3.5h-3.5zM540.2 385.2h3.5v3.5h-3.5zM531.1 388.2h3.5v3.5h-3.5zM537.2 388.2h3.5v3.5h-3.5zM531.1 391.2h9.6v3.5h-9.6zM531.1 394.3h3.5v3.5h-3.5zM537.2 394.3h3.5v3.5h-3.5zM528.1 397.3h3.5v3.5h-3.5zM540.2 397.3h3.5v3.5h-3.5zM522 406.3h3.5v3.5h-3.5zM519 415.3h3.5v3.5h-3.5zM549.3 418.3h3.5v3.5h-3.5zM558.4 427.3h3.5v3.5h-3.5zM561.4 430.3h3.5v3.5h-3.5zM506.9 433.3h3.5v3.5h-3.5zM506.9 436.4h3.5v3.5h-3.5zM564.4 436.4h3.5v3.5h-3.5zM567.5 442.4h3.5v3.5h-3.5zM503.9 445.4h3.5v3.5h-3.5zM567.5 445.4h3.5v3.5h-3.5zM503.9 448.4h3.5v3.5h-3.5zM570.5 448.4h3.5v3.5h-3.5zM503.9 451.4h3.5v3.5h-3.5zM570.5 451.4h3.5v3.5h-3.5zM570.5 454.4h3.5v3.5h-3.5z"/><path fill="#d4fc24" d="M455.4 246.9h3.5v3.5h-3.5zM455.4 249.9h6.6v3.5h-6.6zM455.4 252.9h9.6v3.5h-9.6zM455.4 255.9h12.6v3.5h-12.6zM461.5 258.9h12.6v3.5h-12.6zM467.5 261.9h9.6v3.5h-9.6zM473.6 264.9h9.6v3.5h-9.6zM479.6 268h9.6v3.5h-9.6zM488.7 271h6.6v3.5h-6.6zM494.8 274h6.6v3.5h-6.6zM503.9 277h3.5v3.5h-3.5zM561.4 280h3.5v3.5h-3.5zM579.6 280h9.6v3.5h-9.6zM588.7 283h6.6v3.5h-6.6zM591.7 286h6.6v3.5h-6.6zM552.3 289h3.5v3.5h-3.5zM597.8 289h3.5v3.5h-3.5zM597.8 292h6.6v3.5h-6.6zM600.8 295h6.6v3.5h-6.6zM603.8 298h3.5v3.5h-3.5zM603.8 301h6.6v3.5h-6.6zM603.8 304h6.6v3.5h-6.6zM603.8 307h6.6v3.5h-6.6zM606.8 310.1h3.5v3.5h-3.5zM603.8 313.1h6.6v3.5h-6.6zM516 316.1h3.5v3.5h-3.5zM552.3 316.1h3.5v3.5h-3.5zM603.8 316.1h6.6v3.5h-6.6zM603.8 319.1h6.6v3.5h-6.6zM603.8 322.1h6.6v3.5h-6.6zM512.9 325.1h3.5v3.5h-3.5zM555.4 325.1h3.5v3.5h-3.5zM600.8 325.1h9.6v3.5h-9.6zM600.8 328.1h6.6v3.5h-6.6zM561.4 331.1h6.6v3.5h-6.6zM594.7 331.1h12.6v3.5h-12.6zM500.8 334.1h3.5v3.5h-3.5zM576.6 334.1h27.8v3.5h-27.8zM494.8 337.1h3.5v3.5h-3.5zM588.7 337.1h12.6v3.5h-12.6zM491.7 340.1h3.5v3.5h-3.5zM488.7 346.1h3.5v3.5h-3.5zM488.7 349.1h3.5v3.5h-3.5zM488.7 352.2h3.5v3.5h-3.5zM491.7 358.2h3.5v3.5h-3.5zM582.6 361.2h18.7v3.5h-18.7zM503.9 364.2h3.5v3.5h-3.5zM573.5 364.2h9.6v3.5h-9.6zM591.7 364.2h12.6v3.5h-12.6zM597.8 367.2h9.6v3.5h-9.6zM600.8 370.2h6.6v3.5h-6.6zM512.9 373.2h3.5v3.5h-3.5zM603.8 373.2h6.6v3.5h-6.6zM603.8 376.2h6.6v3.5h-6.6zM603.8 379.2h6.6v3.5h-6.6zM603.8 382.2h6.6v3.5h-6.6zM606.8 385.2h3.5v3.5h-3.5zM603.8 388.2h6.6v3.5h-6.6zM603.8 391.2h6.6v3.5h-6.6zM603.8 394.3h6.6v3.5h-6.6zM603.8 397.3h3.5v3.5h-3.5zM600.8 400.3h6.6v3.5h-6.6zM600.8 403.3h3.5v3.5h-3.5zM516 406.3h3.5v3.5h-3.5zM597.8 406.3h6.6v3.5h-6.6zM552.3 409.3h3.5v3.5h-3.5zM594.7 409.3h6.6v3.5h-6.6zM591.7 412.3h6.6v3.5h-6.6zM585.6 415.3h6.6v3.5h-6.6zM564.4 418.3h18.7v3.5h-18.7zM500.8 421.3h3.5v3.5h-3.5zM491.7 424.3h6.6v3.5h-6.6zM485.7 427.3h6.6v3.5h-6.6zM476.6 430.3h9.6v3.5h-9.6zM470.5 433.3h9.6v3.5h-9.6zM464.5 436.4h12.6v3.5h-12.6zM458.4 439.4h12.6v3.5h-12.6zM455.4 442.4h12.6v3.5h-12.6zM455.4 445.4h9.6v3.5h-9.6zM455.4 448.4h6.6v3.5h-6.6zM455.4 451.4h3.5v3.5h-3.5z"/><path fill="#2cfccc" d="M528.1 246.9h3.5v3.5h-3.5zM540.2 246.9h6.6v3.5h-6.6zM522 249.9h3.5v3.5h-3.5zM546.3 249.9h3.5v3.5h-3.5zM549.3 252.9h3.5v3.5h-3.5zM519 255.9h3.5v3.5h-3.5zM552.3 258.9h3.5v3.5h-3.5zM552.3 261.9h3.5v3.5h-3.5zM552.3 264.9h3.5v3.5h-3.5zM549.3 274h3.5v3.5h-3.5zM531.1 319.1h3.5v3.5h-3.5zM537.2 319.1h3.5v3.5h-3.5zM525.1 322.1h3.5v3.5h-3.5zM522 325.1h3.5v3.5h-3.5zM549.3 331.1h3.5v3.5h-3.5zM509.9 340.1h3.5v3.5h-3.5zM558.4 340.1h3.5v3.5h-3.5zM506.9 346.1h3.5v3.5h-3.5zM561.4 346.1h3.5v3.5h-3.5zM506.9 352.2h3.5v3.5h-3.5zM561.4 352.2h3.5v3.5h-3.5zM519 367.2h3.5v3.5h-3.5zM540.2 406.3h3.5v3.5h-3.5zM522 415.3h3.5v3.5h-3.5zM552.3 433.3h3.5v3.5h-3.5zM552.3 436.4h3.5v3.5h-3.5zM519 442.4h3.5v3.5h-3.5zM522 445.4h3.5v3.5h-3.5zM549.3 445.4h3.5v3.5h-3.5zM525.1 448.4h3.5v3.5h-3.5zM546.3 448.4h3.5v3.5h-3.5zM528.1 451.4h15.6v3.5h-15.6z"/><path fill="#24fcd4" d="M531.1 246.9h9.6v3.5h-9.6zM525.1 249.9h3.5v3.5h-3.5zM543.2 249.9h3.5v3.5h-3.5zM522 252.9h3.5v3.5h-3.5zM546.3 252.9h3.5v3.5h-3.5zM549.3 255.9h3.5v3.5h-3.5zM519 258.9h3.5v3.5h-3.5zM519 274h3.5v3.5h-3.5zM522 280h3.5v3.5h-3.5zM537.2 292h3.5v3.5h-3.5zM534.1 319.1h3.5v3.5h-3.5zM506.9 349.1h3.5v3.5h-3.5zM561.4 349.1h3.5v3.5h-3.5zM528.1 376.2h3.5v3.5h-3.5zM540.2 376.2h3.5v3.5h-3.5zM528.1 406.3h3.5v3.5h-3.5zM525.1 409.3h3.5v3.5h-3.5zM522 418.3h3.5v3.5h-3.5zM549.3 424.3h3.5v3.5h-3.5zM519 439.4h3.5v3.5h-3.5zM549.3 442.4h3.5v3.5h-3.5zM546.3 445.4h3.5v3.5h-3.5zM528.1 448.4h3.5v3.5h-3.5zM540.2 448.4h6.6v3.5h-6.6z"/><path fill="#1cfcdc" d="M528.1 249.9h15.6v3.5h-15.6zM525.1 252.9h3.5v3.5h-3.5zM522 255.9h3.5v3.5h-3.5zM549.3 258.9h3.5v3.5h-3.5zM519 261.9h3.5v3.5h-3.5zM549.3 271h3.5v3.5h-3.5zM546.3 277h3.5v3.5h-3.5zM543.2 286h3.5v3.5h-3.5zM531.1 292h6.6v3.5h-6.6zM519 331.1h3.5v3.5h-3.5zM549.3 334.1h3.5v3.5h-3.5zM558.4 355.2h3.5v3.5h-3.5zM546.3 370.2h3.5v3.5h-3.5zM543.2 373.2h3.5v3.5h-3.5zM519 424.3h3.5v3.5h-3.5zM519 436.4h3.5v3.5h-3.5zM549.3 436.4h3.5v3.5h-3.5zM522 442.4h3.5v3.5h-3.5zM546.3 442.4h3.5v3.5h-3.5zM525.1 445.4h3.5v3.5h-3.5zM543.2 445.4h3.5v3.5h-3.5zM531.1 448.4h9.6v3.5h-9.6z"/><path fill="#74fc7c" d="M503.9 252.9h3.5v3.5h-3.5zM525.1 400.3h3.5v3.5h-3.5z"/><path fill="#3cfcb4" d="M516 252.9h3.5v3.5h-3.5zM531.1 295h3.5v3.5h-3.5z"/><path fill="#14fce4" d="M528.1 252.9h3.5v3.5h-3.5zM543.2 252.9h3.5v3.5h-3.5zM546.3 255.9h3.5v3.5h-3.5zM549.3 261.9h3.5v3.5h-3.5zM519 264.9h3.5v3.5h-3.5zM549.3 264.9h3.5v3.5h-3.5zM519 268h3.5v3.5h-3.5zM549.3 268h3.5v3.5h-3.5zM519 271h3.5v3.5h-3.5zM522 277h3.5v3.5h-3.5zM525.1 286h3.5v3.5h-3.5zM540.2 289h3.5v3.5h-3.5zM528.1 322.1h3.5v3.5h-3.5zM540.2 322.1h3.5v3.5h-3.5zM546.3 328.1h3.5v3.5h-3.5zM516 337.1h3.5v3.5h-3.5zM552.3 337.1h3.5v3.5h-3.5zM512.9 358.2h3.5v3.5h-3.5zM555.4 358.2h3.5v3.5h-3.5zM549.3 361.2h3.5v3.5h-3.5zM522 370.2h3.5v3.5h-3.5zM525.1 373.2h3.5v3.5h-3.5zM531.1 376.2h3.5v3.5h-3.5zM537.2 376.2h3.5v3.5h-3.5zM531.1 406.3h3.5v3.5h-3.5zM537.2 406.3h3.5v3.5h-3.5zM543.2 412.3h3.5v3.5h-3.5zM519 427.3h3.5v3.5h-3.5zM549.3 427.3h3.5v3.5h-3.5zM519 430.3h3.5v3.5h-3.5zM549.3 430.3h3.5v3.5h-3.5zM519 433.3h3.5v3.5h-3.5zM549.3 433.3h3.5v3.5h-3.5zM522 439.4h3.5v3.5h-3.5zM525.1 442.4h3.5v3.5h-3.5zM528.1 445.4h6.6v3.5h-6.6zM540.2 445.4h3.5v3.5h-3.5z"/><path fill="#0cf4ec" d="M531.1 252.9h3.5v3.5h-3.5zM537.2 252.9h6.6v3.5h-6.6zM525.1 255.9h3.5v3.5h-3.5zM543.2 255.9h3.5v3.5h-3.5zM522 258.9h3.5v3.5h-3.5zM546.3 258.9h3.5v3.5h-3.5zM528.1 289h3.5v3.5h-3.5zM543.2 325.1h3.5v3.5h-3.5zM509.9 343.1h3.5v3.5h-3.5zM558.4 343.1h3.5v3.5h-3.5zM534.1 376.2h3.5v3.5h-3.5zM534.1 406.3h3.5v3.5h-3.5zM543.2 442.4h3.5v3.5h-3.5zM534.1 445.4h3.5v3.5h-3.5z"/><path fill="#0cecec" d="M534.1 252.9h3.5v3.5h-3.5zM519 334.1h3.5v3.5h-3.5zM540.2 409.3h3.5v3.5h-3.5z"/><path fill="#04e4fc" d="M528.1 255.9h3.5v3.5h-3.5zM540.2 255.9h3.5v3.5h-3.5zM522 261.9h3.5v3.5h-3.5zM546.3 274h3.5v3.5h-3.5zM537.2 289h3.5v3.5h-3.5zM534.1 322.1h3.5v3.5h-3.5zM558.4 346.1h3.5v3.5h-3.5zM509.9 352.2h3.5v3.5h-3.5zM531.1 442.4h9.6v3.5h-9.6z"/><path fill="#04dcfc" d="M531.1 255.9h9.6v3.5h-9.6zM525.1 258.9h3.5v3.5h-3.5zM543.2 258.9h3.5v3.5h-3.5zM546.3 264.9h3.5v3.5h-3.5zM531.1 289h3.5v3.5h-3.5zM549.3 337.1h3.5v3.5h-3.5zM509.9 346.1h3.5v3.5h-3.5zM558.4 349.1h3.5v3.5h-3.5zM546.3 367.2h3.5v3.5h-3.5zM528.1 373.2h3.5v3.5h-3.5zM540.2 373.2h3.5v3.5h-3.5zM543.2 415.3h3.5v3.5h-3.5zM546.3 424.3h3.5v3.5h-3.5zM522 433.3h3.5v3.5h-3.5zM546.3 433.3h3.5v3.5h-3.5z"/><path fill="#94fc5c" d="M582.6 255.9h3.5v3.5h-3.5zM567.5 268h3.5v3.5h-3.5zM494.8 445.4h3.5v3.5h-3.5z"/><path fill="#dcfc1c" d="M455.4 258.9h6.6v3.5h-6.6zM455.4 261.9h12.6v3.5h-12.6zM455.4 264.9h18.7v3.5h-18.7zM464.5 268h15.6v3.5h-15.6zM476.6 271h12.6v3.5h-12.6zM488.7 274h6.6v3.5h-6.6zM500.8 277h3.5v3.5h-3.5zM509.9 280h3.5v3.5h-3.5zM564.4 280h15.6v3.5h-15.6zM582.6 283h6.6v3.5h-6.6zM588.7 286h3.5v3.5h-3.5zM591.7 289h3.5v3.5h-3.5zM516 292h3.5v3.5h-3.5zM552.3 292h3.5v3.5h-3.5zM594.7 292h3.5v3.5h-3.5zM597.8 295h3.5v3.5h-3.5zM597.8 298h6.6v3.5h-6.6zM600.8 301h3.5v3.5h-3.5zM600.8 304h3.5v3.5h-3.5zM600.8 307h3.5v3.5h-3.5zM600.8 310.1h3.5v3.5h-3.5zM516 313.1h3.5v3.5h-3.5zM552.3 313.1h3.5v3.5h-3.5zM600.8 313.1h3.5v3.5h-3.5zM600.8 316.1h3.5v3.5h-3.5zM597.8 319.1h6.6v3.5h-6.6zM597.8 322.1h6.6v3.5h-6.6zM594.7 325.1h6.6v3.5h-6.6zM591.7 328.1h6.6v3.5h-6.6zM509.9 331.1h3.5v3.5h-3.5zM567.5 331.1h27.8v3.5h-27.8zM497.8 334.1h3.5v3.5h-3.5zM491.7 337.1h3.5v3.5h-3.5zM488.7 340.1h3.5v3.5h-3.5zM485.7 346.1h3.5v3.5h-3.5zM485.7 349.1h3.5v3.5h-3.5zM485.7 352.2h3.5v3.5h-3.5zM488.7 355.2h3.5v3.5h-3.5zM494.8 361.2h3.5v3.5h-3.5zM500.8 364.2h3.5v3.5h-3.5zM582.6 364.2h6.6v3.5h-6.6zM585.6 367.2h12.6v3.5h-12.6zM594.7 370.2h6.6v3.5h-6.6zM555.4 373.2h3.5v3.5h-3.5zM597.8 373.2h3.5v3.5h-3.5zM597.8 376.2h6.6v3.5h-6.6zM600.8 379.2h3.5v3.5h-3.5zM516 382.2h3.5v3.5h-3.5zM552.3 382.2h3.5v3.5h-3.5zM600.8 382.2h3.5v3.5h-3.5zM600.8 385.2h3.5v3.5h-3.5zM600.8 388.2h3.5v3.5h-3.5zM600.8 391.2h3.5v3.5h-3.5zM600.8 394.3h3.5v3.5h-3.5zM597.8 397.3h6.6v3.5h-6.6zM597.8 400.3h3.5v3.5h-3.5zM516 403.3h3.5v3.5h-3.5zM594.7 403.3h6.6v3.5h-6.6zM552.3 406.3h3.5v3.5h-3.5zM594.7 406.3h3.5v3.5h-3.5zM591.7 409.3h3.5v3.5h-3.5zM585.6 412.3h6.6v3.5h-6.6zM555.4 415.3h3.5v3.5h-3.5zM579.6 415.3h6.6v3.5h-6.6zM506.9 418.3h3.5v3.5h-3.5zM497.8 421.3h3.5v3.5h-3.5zM485.7 424.3h6.6v3.5h-6.6zM470.5 427.3h15.6v3.5h-15.6zM461.5 430.3h15.6v3.5h-15.6zM455.4 433.3h15.6v3.5h-15.6zM455.4 436.4h9.6v3.5h-9.6zM455.4 439.4h3.5v3.5h-3.5z"/><path fill="#04ccfc" d="M528.1 258.9h3.5v3.5h-3.5zM540.2 258.9h3.5v3.5h-3.5zM525.1 261.9h3.5v3.5h-3.5zM543.2 261.9h3.5v3.5h-3.5zM522 268h3.5v3.5h-3.5zM543.2 280h3.5v3.5h-3.5zM540.2 325.1h3.5v3.5h-3.5zM546.3 331.1h3.5v3.5h-3.5zM555.4 355.2h3.5v3.5h-3.5zM516 358.2h3.5v3.5h-3.5zM552.3 358.2h3.5v3.5h-3.5zM522 367.2h3.5v3.5h-3.5zM537.2 409.3h3.5v3.5h-3.5zM522 424.3h3.5v3.5h-3.5zM522 430.3h3.5v3.5h-3.5zM531.1 439.4h3.5v3.5h-3.5zM537.2 439.4h3.5v3.5h-3.5z"/><path fill="#04c4fc" d="M531.1 258.9h3.5v3.5h-3.5zM537.2 258.9h3.5v3.5h-3.5zM522 271h3.5v3.5h-3.5zM528.1 286h3.5v3.5h-3.5zM528.1 325.1h3.5v3.5h-3.5zM512.9 355.2h3.5v3.5h-3.5zM525.1 370.2h3.5v3.5h-3.5zM531.1 373.2h3.5v3.5h-3.5zM537.2 373.2h3.5v3.5h-3.5zM531.1 409.3h3.5v3.5h-3.5zM525.1 415.3h3.5v3.5h-3.5zM543.2 418.3h3.5v3.5h-3.5zM522 427.3h3.5v3.5h-3.5zM534.1 439.4h3.5v3.5h-3.5z"/><path fill="#04bcfc" d="M534.1 258.9h3.5v3.5h-3.5zM543.2 277h3.5v3.5h-3.5zM543.2 328.1h3.5v3.5h-3.5zM522 331.1h3.5v3.5h-3.5zM555.4 343.1h3.5v3.5h-3.5zM546.3 364.2h3.5v3.5h-3.5zM534.1 373.2h3.5v3.5h-3.5zM534.1 409.3h3.5v3.5h-3.5zM540.2 412.3h3.5v3.5h-3.5zM525.1 433.3h3.5v3.5h-3.5zM543.2 433.3h3.5v3.5h-3.5zM528.1 436.4h3.5v3.5h-3.5zM540.2 436.4h3.5v3.5h-3.5z"/><path fill="#04b4fc" d="M528.1 261.9h3.5v3.5h-3.5zM540.2 261.9h3.5v3.5h-3.5zM525.1 264.9h3.5v3.5h-3.5zM543.2 264.9h3.5v3.5h-3.5zM525.1 280h3.5v3.5h-3.5zM537.2 325.1h3.5v3.5h-3.5zM525.1 328.1h3.5v3.5h-3.5zM516 340.1h3.5v3.5h-3.5zM552.3 340.1h3.5v3.5h-3.5zM512.9 343.1h3.5v3.5h-3.5zM528.1 412.3h3.5v3.5h-3.5z"/><path fill="#04a4fc" d="M531.1 261.9h3.5v3.5h-3.5zM537.2 261.9h3.5v3.5h-3.5zM543.2 268h3.5v3.5h-3.5zM525.1 277h3.5v3.5h-3.5zM540.2 283h3.5v3.5h-3.5zM531.1 286h3.5v3.5h-3.5zM534.1 325.1h3.5v3.5h-3.5zM546.3 337.1h3.5v3.5h-3.5zM555.4 346.1h3.5v3.5h-3.5zM512.9 352.2h3.5v3.5h-3.5zM546.3 361.2h3.5v3.5h-3.5zM522 364.2h3.5v3.5h-3.5zM540.2 370.2h3.5v3.5h-3.5zM525.1 430.3h3.5v3.5h-3.5zM540.2 433.3h3.5v3.5h-3.5z"/><path fill="#049cfc" d="M534.1 261.9h3.5v3.5h-3.5zM525.1 268h3.5v3.5h-3.5zM543.2 271h3.5v3.5h-3.5zM543.2 274h3.5v3.5h-3.5zM522 334.1h3.5v3.5h-3.5zM512.9 346.1h3.5v3.5h-3.5zM555.4 349.1h3.5v3.5h-3.5zM519 358.2h3.5v3.5h-3.5zM549.3 358.2h3.5v3.5h-3.5zM543.2 367.2h3.5v3.5h-3.5zM528.1 370.2h3.5v3.5h-3.5zM543.2 424.3h3.5v3.5h-3.5zM543.2 427.3h3.5v3.5h-3.5zM528.1 433.3h3.5v3.5h-3.5z"/><path fill="#04e4f4" d="M546.3 261.9h3.5v3.5h-3.5zM558.4 352.2h3.5v3.5h-3.5zM519 361.2h3.5v3.5h-3.5zM528.1 409.3h3.5v3.5h-3.5zM525.1 439.4h3.5v3.5h-3.5zM543.2 439.4h3.5v3.5h-3.5z"/><path fill="#a4fc4c" d="M588.7 261.9h3.5v3.5h-3.5zM567.5 271h3.5v3.5h-3.5zM582.6 433.3h3.5v3.5h-3.5zM594.7 436.4h3.5v3.5h-3.5z"/><path fill="#04d4fc" d="M522 264.9h3.5v3.5h-3.5zM546.3 268h3.5v3.5h-3.5zM546.3 271h3.5v3.5h-3.5zM522 274h3.5v3.5h-3.5zM525.1 283h3.5v3.5h-3.5zM540.2 286h3.5v3.5h-3.5zM534.1 289h3.5v3.5h-3.5zM519 337.1h3.5v3.5h-3.5zM509.9 349.1h3.5v3.5h-3.5zM543.2 370.2h3.5v3.5h-3.5zM546.3 427.3h3.5v3.5h-3.5zM546.3 430.3h3.5v3.5h-3.5zM525.1 436.4h3.5v3.5h-3.5zM543.2 436.4h3.5v3.5h-3.5zM528.1 439.4h3.5v3.5h-3.5zM540.2 439.4h3.5v3.5h-3.5z"/><path fill="#0494fc" d="M528.1 264.9h3.5v3.5h-3.5zM540.2 264.9h3.5v3.5h-3.5zM534.1 286h3.5v3.5h-3.5zM512.9 349.1h3.5v3.5h-3.5zM537.2 412.3h3.5v3.5h-3.5zM540.2 415.3h3.5v3.5h-3.5zM525.1 421.3h3.5v3.5h-3.5z"/><path fill="#047cfc" d="M531.1 264.9h3.5v3.5h-3.5zM537.2 264.9h3.5v3.5h-3.5zM540.2 268h3.5v3.5h-3.5zM525.1 331.1h3.5v3.5h-3.5zM519 340.1h3.5v3.5h-3.5zM552.3 343.1h3.5v3.5h-3.5zM534.1 370.2h3.5v3.5h-3.5zM534.1 412.3h3.5v3.5h-3.5zM528.1 415.3h3.5v3.5h-3.5zM528.1 430.3h3.5v3.5h-3.5z"/><path fill="#0474fc" d="M534.1 264.9h3.5v3.5h-3.5zM540.2 280h3.5v3.5h-3.5zM516 343.1h3.5v3.5h-3.5zM522 358.2h3.5v3.5h-3.5zM546.3 358.2h3.5v3.5h-3.5z"/><path fill="#e4fc14" d="M455.4 268h9.6v3.5h-9.6zM455.4 271h21.7v3.5h-21.7zM458.4 274h30.8v3.5h-30.8zM494.8 277h6.6v3.5h-6.6zM506.9 280h3.5v3.5h-3.5zM576.6 283h6.6v3.5h-6.6zM585.6 286h3.5v3.5h-3.5zM588.7 289h3.5v3.5h-3.5zM591.7 292h3.5v3.5h-3.5zM516 295h3.5v3.5h-3.5zM552.3 295h3.5v3.5h-3.5zM594.7 295h3.5v3.5h-3.5zM516 298h3.5v3.5h-3.5zM594.7 298h3.5v3.5h-3.5zM594.7 301h6.6v3.5h-6.6zM597.8 304h3.5v3.5h-3.5zM597.8 307h3.5v3.5h-3.5zM516 310.1h3.5v3.5h-3.5zM552.3 310.1h3.5v3.5h-3.5zM597.8 310.1h3.5v3.5h-3.5zM597.8 313.1h3.5v3.5h-3.5zM594.7 316.1h6.6v3.5h-6.6zM594.7 319.1h3.5v3.5h-3.5zM512.9 322.1h3.5v3.5h-3.5zM555.4 322.1h3.5v3.5h-3.5zM591.7 322.1h6.6v3.5h-6.6zM588.7 325.1h6.6v3.5h-6.6zM582.6 328.1h9.6v3.5h-9.6zM506.9 331.1h3.5v3.5h-3.5zM494.8 334.1h3.5v3.5h-3.5zM488.7 337.1h3.5v3.5h-3.5zM485.7 340.1h3.5v3.5h-3.5zM485.7 343.1h3.5v3.5h-3.5zM482.7 346.1h3.5v3.5h-3.5zM482.7 349.1h3.5v3.5h-3.5zM482.7 352.2h3.5v3.5h-3.5zM485.7 355.2h3.5v3.5h-3.5zM488.7 358.2h3.5v3.5h-3.5zM491.7 361.2h3.5v3.5h-3.5zM497.8 364.2h3.5v3.5h-3.5zM558.4 367.2h27.8v3.5h-27.8zM585.6 370.2h6.6v3.5h-6.6zM591.7 373.2h3.5v3.5h-3.5zM512.9 376.2h3.5v3.5h-3.5zM594.7 376.2h3.5v3.5h-3.5zM594.7 379.2h6.6v3.5h-6.6zM597.8 382.2h3.5v3.5h-3.5zM516 385.2h3.5v3.5h-3.5zM552.3 385.2h3.5v3.5h-3.5zM597.8 385.2h3.5v3.5h-3.5zM597.8 388.2h3.5v3.5h-3.5zM597.8 391.2h3.5v3.5h-3.5zM597.8 394.3h3.5v3.5h-3.5zM594.7 397.3h3.5v3.5h-3.5zM516 400.3h3.5v3.5h-3.5zM552.3 400.3h3.5v3.5h-3.5zM594.7 400.3h3.5v3.5h-3.5zM552.3 403.3h3.5v3.5h-3.5zM591.7 403.3h3.5v3.5h-3.5zM591.7 406.3h3.5v3.5h-3.5zM585.6 409.3h6.6v3.5h-6.6zM582.6 412.3h3.5v3.5h-3.5zM512.9 415.3h3.5v3.5h-3.5zM558.4 415.3h3.5v3.5h-3.5zM573.5 415.3h6.6v3.5h-6.6zM503.9 418.3h3.5v3.5h-3.5zM485.7 421.3h12.6v3.5h-12.6zM455.4 424.3h27.8v3.5h-27.8zM455.4 427.3h15.6v3.5h-15.6zM455.4 430.3h6.6v3.5h-6.6z"/><path fill="#046cfc" d="M528.1 268h3.5v3.5h-3.5zM537.2 283h3.5v3.5h-3.5zM531.1 328.1h3.5v3.5h-3.5zM537.2 328.1h3.5v3.5h-3.5zM543.2 364.2h3.5v3.5h-3.5zM540.2 418.3h3.5v3.5h-3.5z"/><path fill="#044cfc" d="M531.1 268h3.5v3.5h-3.5zM528.1 271h3.5v3.5h-3.5zM540.2 274h3.5v3.5h-3.5zM540.2 331.1h3.5v3.5h-3.5zM525.1 334.1h3.5v3.5h-3.5zM516 349.1h3.5v3.5h-3.5zM519 355.2h3.5v3.5h-3.5zM528.1 418.3h3.5v3.5h-3.5z"/><path fill="#0444fc" d="M534.1 268h3.5v3.5h-3.5zM528.1 331.1h3.5v3.5h-3.5zM525.1 337.1h3.5v3.5h-3.5zM549.3 343.1h3.5v3.5h-3.5zM525.1 361.2h3.5v3.5h-3.5zM531.1 415.3h3.5v3.5h-3.5z"/><path fill="#0454fc" d="M537.2 268h3.5v3.5h-3.5zM534.1 283h3.5v3.5h-3.5zM543.2 337.1h3.5v3.5h-3.5zM522 340.1h3.5v3.5h-3.5zM546.3 340.1h3.5v3.5h-3.5zM516 346.1h3.5v3.5h-3.5zM552.3 349.1h3.5v3.5h-3.5zM549.3 355.2h3.5v3.5h-3.5zM543.2 361.2h3.5v3.5h-3.5zM537.2 415.3h3.5v3.5h-3.5zM540.2 421.3h3.5v3.5h-3.5zM540.2 424.3h3.5v3.5h-3.5z"/><path fill="#048cfc" d="M525.1 271h3.5v3.5h-3.5zM525.1 274h3.5v3.5h-3.5zM528.1 283h3.5v3.5h-3.5zM540.2 328.1h3.5v3.5h-3.5zM543.2 331.1h3.5v3.5h-3.5zM522 337.1h3.5v3.5h-3.5zM516 355.2h3.5v3.5h-3.5zM552.3 355.2h3.5v3.5h-3.5zM522 361.2h3.5v3.5h-3.5zM525.1 367.2h3.5v3.5h-3.5zM531.1 412.3h3.5v3.5h-3.5zM525.1 427.3h3.5v3.5h-3.5zM531.1 433.3h3.5v3.5h-3.5zM537.2 433.3h3.5v3.5h-3.5z"/><path fill="#041cfc" d="M531.1 271h3.5v3.5h-3.5zM531.1 280h3.5v3.5h-3.5zM531.1 331.1h3.5v3.5h-3.5zM540.2 334.1h3.5v3.5h-3.5zM549.3 346.1h3.5v3.5h-3.5zM519 352.2h3.5v3.5h-3.5z"/><path fill="#040cfc" d="M534.1 271h3.5v3.5h-3.5zM534.1 331.1h3.5v3.5h-3.5zM546.3 343.1h3.5v3.5h-3.5zM519 346.1h3.5v3.5h-3.5zM549.3 349.1h3.5v3.5h-3.5zM525.1 355.2h6.6v3.5h-6.6zM537.2 355.2h3.5v3.5h-3.5zM531.1 358.2h3.5v3.5h-3.5zM540.2 361.2h3.5v3.5h-3.5zM537.2 424.3h3.5v3.5h-3.5z"/><path fill="#0424fc" d="M537.2 271h3.5v3.5h-3.5zM537.2 331.1h3.5v3.5h-3.5zM549.3 352.2h3.5v3.5h-3.5zM522 355.2h3.5v3.5h-3.5zM546.3 355.2h3.5v3.5h-3.5zM534.1 427.3h3.5v3.5h-3.5z"/><path fill="#045cfc" d="M540.2 271h3.5v3.5h-3.5zM540.2 277h3.5v3.5h-3.5zM528.1 280h3.5v3.5h-3.5zM531.1 283h3.5v3.5h-3.5zM552.3 346.1h3.5v3.5h-3.5zM516 352.2h3.5v3.5h-3.5zM525.1 358.2h3.5v3.5h-3.5zM543.2 358.2h3.5v3.5h-3.5zM525.1 364.2h3.5v3.5h-3.5zM528.1 367.2h3.5v3.5h-3.5zM528.1 427.3h3.5v3.5h-3.5zM534.1 430.3h3.5v3.5h-3.5z"/><path fill="#e4fc0c" d="M455.4 274h3.5v3.5h-3.5zM582.6 286h3.5v3.5h-3.5zM588.7 406.3h3.5v3.5h-3.5zM570.5 415.3h3.5v3.5h-3.5z"/><path fill="#bcfc34" d="M503.9 274h3.5v3.5h-3.5zM576.6 274h3.5v3.5h-3.5zM597.8 277h3.5v3.5h-3.5zM582.6 346.1h3.5v3.5h-3.5zM594.7 421.3h3.5v3.5h-3.5zM497.8 427.3h3.5v3.5h-3.5z"/><path fill="#0434fc" d="M528.1 274h3.5v3.5h-3.5zM528.1 340.1h3.5v3.5h-3.5zM534.1 340.1h9.6v3.5h-9.6zM519 343.1h3.5v3.5h-3.5zM540.2 358.2h3.5v3.5h-3.5zM531.1 367.2h3.5v3.5h-3.5zM534.1 415.3h3.5v3.5h-3.5z"/><path fill="#0404ec" d="M531.1 274h3.5v3.5h-3.5zM531.1 277h3.5v3.5h-3.5zM537.2 337.1h3.5v3.5h-3.5zM531.1 346.1h6.6v3.5h-6.6zM522 352.2h3.5v3.5h-3.5zM537.2 352.2h3.5v3.5h-3.5z"/><path fill="#0404c4" d="M534.1 274h3.5v3.5h-3.5zM534.1 337.1h3.5v3.5h-3.5zM522 349.1h3.5v3.5h-3.5zM528.1 349.1h3.5v3.5h-3.5z"/><path fill="#0404fc" d="M537.2 274h3.5v3.5h-3.5zM537.2 277h3.5v3.5h-3.5zM534.1 280h3.5v3.5h-3.5zM528.1 334.1h3.5v3.5h-3.5zM528.1 337.1h3.5v3.5h-3.5zM522 343.1h24.7v3.5h-24.7zM519 349.1h3.5v3.5h-3.5zM534.1 352.2h3.5v3.5h-3.5zM540.2 355.2h6.6v3.5h-6.6zM534.1 358.2h3.5v3.5h-3.5zM528.1 361.2h3.5v3.5h-3.5zM537.2 364.2h3.5v3.5h-3.5zM531.1 418.3h3.5v3.5h-3.5zM537.2 421.3h3.5v3.5h-3.5zM531.1 424.3h3.5v3.5h-3.5z"/><path fill="#ecfc0c" d="M455.4 277h39.9v3.5h-39.9zM455.4 280h12.6v3.5h-12.6zM503.9 280h3.5v3.5h-3.5zM555.4 283h3.5v3.5h-3.5zM570.5 283h6.6v3.5h-6.6zM579.6 286h3.5v3.5h-3.5zM585.6 289h3.5v3.5h-3.5zM588.7 292h3.5v3.5h-3.5zM591.7 295h3.5v3.5h-3.5zM552.3 298h3.5v3.5h-3.5zM591.7 298h3.5v3.5h-3.5zM516 301h3.5v3.5h-3.5zM552.3 301h3.5v3.5h-3.5zM591.7 301h3.5v3.5h-3.5zM516 304h3.5v3.5h-3.5zM552.3 304h3.5v3.5h-3.5zM594.7 304h3.5v3.5h-3.5zM516 307h3.5v3.5h-3.5zM552.3 307h3.5v3.5h-3.5zM594.7 307h3.5v3.5h-3.5zM594.7 310.1h3.5v3.5h-3.5zM594.7 313.1h3.5v3.5h-3.5zM591.7 316.1h3.5v3.5h-3.5zM512.9 319.1h3.5v3.5h-3.5zM591.7 319.1h3.5v3.5h-3.5zM588.7 322.1h3.5v3.5h-3.5zM585.6 325.1h3.5v3.5h-3.5zM576.6 328.1h6.6v3.5h-6.6zM500.8 331.1h6.6v3.5h-6.6zM491.7 334.1h3.5v3.5h-3.5zM485.7 337.1h3.5v3.5h-3.5zM482.7 340.1h3.5v3.5h-3.5zM479.6 343.1h6.6v3.5h-6.6zM479.6 346.1h3.5v3.5h-3.5zM479.6 349.1h3.5v3.5h-3.5zM479.6 352.2h3.5v3.5h-3.5zM479.6 355.2h6.6v3.5h-6.6zM482.7 358.2h6.6v3.5h-6.6zM485.7 361.2h6.6v3.5h-6.6zM494.8 364.2h3.5v3.5h-3.5zM579.6 370.2h6.6v3.5h-6.6zM585.6 373.2h6.6v3.5h-6.6zM555.4 376.2h3.5v3.5h-3.5zM588.7 376.2h6.6v3.5h-6.6zM591.7 379.2h3.5v3.5h-3.5zM591.7 382.2h6.6v3.5h-6.6zM594.7 385.2h3.5v3.5h-3.5zM516 388.2h3.5v3.5h-3.5zM552.3 388.2h3.5v3.5h-3.5zM594.7 388.2h3.5v3.5h-3.5zM516 391.2h3.5v3.5h-3.5zM552.3 391.2h3.5v3.5h-3.5zM594.7 391.2h3.5v3.5h-3.5zM516 394.3h3.5v3.5h-3.5zM552.3 394.3h3.5v3.5h-3.5zM594.7 394.3h3.5v3.5h-3.5zM516 397.3h3.5v3.5h-3.5zM552.3 397.3h3.5v3.5h-3.5zM591.7 397.3h3.5v3.5h-3.5zM591.7 400.3h3.5v3.5h-3.5zM588.7 403.3h3.5v3.5h-3.5zM585.6 406.3h3.5v3.5h-3.5zM582.6 409.3h3.5v3.5h-3.5zM579.6 412.3h3.5v3.5h-3.5zM455.4 415.3h3.5v3.5h-3.5zM561.4 415.3h9.6v3.5h-9.6zM455.4 418.3h24.7v3.5h-24.7zM494.8 418.3h9.6v3.5h-9.6zM455.4 421.3h30.8v3.5h-30.8z"/><path fill="#043cfc" d="M528.1 277h3.5v3.5h-3.5zM525.1 340.1h3.5v3.5h-3.5zM531.1 340.1h3.5v3.5h-3.5zM543.2 340.1h3.5v3.5h-3.5zM537.2 367.2h3.5v3.5h-3.5zM528.1 421.3h3.5v3.5h-3.5zM528.1 424.3h3.5v3.5h-3.5zM537.2 427.3h3.5v3.5h-3.5z"/><path fill="#0404b4" d="M534.1 277h3.5v3.5h-3.5zM534.1 334.1h3.5v3.5h-3.5zM543.2 346.1h3.5v3.5h-3.5z"/><path fill="#ecfc04" d="M467.5 280h3.5v3.5h-3.5zM576.6 412.3h3.5v3.5h-3.5z"/><path fill="#f4fc04" d="M470.5 280h21.7v3.5h-21.7zM494.8 280h9.6v3.5h-9.6zM455.4 283h15.6v3.5h-15.6zM558.4 283h3.5v3.5h-3.5zM564.4 283h6.6v3.5h-6.6zM455.4 286h6.6v3.5h-6.6zM576.6 286h3.5v3.5h-3.5zM582.6 289h3.5v3.5h-3.5zM585.6 292h3.5v3.5h-3.5zM588.7 295h3.5v3.5h-3.5zM588.7 298h3.5v3.5h-3.5zM591.7 304h3.5v3.5h-3.5zM591.7 307h3.5v3.5h-3.5zM591.7 310.1h3.5v3.5h-3.5zM591.7 313.1h3.5v3.5h-3.5zM555.4 319.1h3.5v3.5h-3.5zM588.7 319.1h3.5v3.5h-3.5zM585.6 322.1h3.5v3.5h-3.5zM582.6 325.1h3.5v3.5h-3.5zM570.5 328.1h6.6v3.5h-6.6zM497.8 331.1h3.5v3.5h-3.5zM485.7 334.1h6.6v3.5h-6.6zM479.6 337.1h6.6v3.5h-6.6zM476.6 340.1h6.6v3.5h-6.6zM473.6 343.1h6.6v3.5h-6.6zM473.6 346.1h6.6v3.5h-6.6zM473.6 349.1h6.6v3.5h-6.6zM473.6 352.2h6.6v3.5h-6.6zM476.6 355.2h3.5v3.5h-3.5zM476.6 358.2h6.6v3.5h-6.6zM482.7 361.2h3.5v3.5h-3.5zM488.7 364.2h6.6v3.5h-6.6zM506.9 367.2h6.6v3.5h-6.6zM576.6 370.2h3.5v3.5h-3.5zM582.6 373.2h3.5v3.5h-3.5zM512.9 379.2h3.5v3.5h-3.5zM555.4 379.2h3.5v3.5h-3.5zM588.7 379.2h3.5v3.5h-3.5zM591.7 385.2h3.5v3.5h-3.5zM591.7 388.2h3.5v3.5h-3.5zM591.7 391.2h3.5v3.5h-3.5zM591.7 394.3h3.5v3.5h-3.5zM588.7 400.3h3.5v3.5h-3.5zM455.4 409.3h3.5v3.5h-3.5zM455.4 412.3h9.6v3.5h-9.6zM458.4 415.3h18.7v3.5h-18.7zM509.9 415.3h3.5v3.5h-3.5zM479.6 418.3h15.6v3.5h-15.6z"/><path fill="#f4f404" d="M491.7 280h3.5v3.5h-3.5zM470.5 283h6.6v3.5h-6.6zM561.4 283h3.5v3.5h-3.5zM461.5 286h6.6v3.5h-6.6zM455.4 289h6.6v3.5h-6.6zM588.7 316.1h3.5v3.5h-3.5zM579.6 325.1h3.5v3.5h-3.5zM476.6 337.1h3.5v3.5h-3.5zM473.6 340.1h3.5v3.5h-3.5zM470.5 343.1h3.5v3.5h-3.5zM470.5 346.1h3.5v3.5h-3.5zM470.5 349.1h3.5v3.5h-3.5zM470.5 352.2h3.5v3.5h-3.5zM473.6 355.2h3.5v3.5h-3.5zM479.6 361.2h3.5v3.5h-3.5zM585.6 376.2h3.5v3.5h-3.5zM588.7 382.2h3.5v3.5h-3.5zM588.7 397.3h3.5v3.5h-3.5zM585.6 403.3h3.5v3.5h-3.5zM455.4 406.3h3.5v3.5h-3.5zM458.4 409.3h6.6v3.5h-6.6zM579.6 409.3h3.5v3.5h-3.5zM464.5 412.3h6.6v3.5h-6.6zM573.5 412.3h3.5v3.5h-3.5zM476.6 415.3h3.5v3.5h-3.5z"/><path fill="#042cfc" d="M537.2 280h3.5v3.5h-3.5zM528.1 358.2h3.5v3.5h-3.5zM540.2 364.2h3.5v3.5h-3.5zM534.1 367.2h3.5v3.5h-3.5zM531.1 427.3h3.5v3.5h-3.5z"/><path fill="#fcf404" d="M476.6 283h6.6v3.5h-6.6zM512.9 283h3.5v3.5h-3.5zM467.5 286h6.6v3.5h-6.6zM461.5 289h6.6v3.5h-6.6zM579.6 289h3.5v3.5h-3.5zM455.4 292h9.6v3.5h-9.6zM582.6 292h3.5v3.5h-3.5zM455.4 295h6.6v3.5h-6.6zM585.6 295h3.5v3.5h-3.5zM455.4 298h3.5v3.5h-3.5zM588.7 301h3.5v3.5h-3.5zM588.7 304h3.5v3.5h-3.5zM588.7 307h3.5v3.5h-3.5zM588.7 310.1h3.5v3.5h-3.5zM588.7 313.1h3.5v3.5h-3.5zM512.9 316.1h3.5v3.5h-3.5zM555.4 316.1h3.5v3.5h-3.5zM585.6 319.1h3.5v3.5h-3.5zM582.6 322.1h3.5v3.5h-3.5zM509.9 328.1h3.5v3.5h-3.5zM567.5 328.1h3.5v3.5h-3.5zM491.7 331.1h6.6v3.5h-6.6zM476.6 334.1h9.6v3.5h-9.6zM467.5 337.1h9.6v3.5h-9.6zM458.4 340.1h15.6v3.5h-15.6zM455.4 343.1h15.6v3.5h-15.6zM455.4 346.1h15.6v3.5h-15.6zM455.4 349.1h15.6v3.5h-15.6zM455.4 352.2h15.6v3.5h-15.6zM455.4 355.2h18.7v3.5h-18.7zM461.5 358.2h15.6v3.5h-15.6zM470.5 361.2h9.6v3.5h-9.6zM482.7 364.2h6.6v3.5h-6.6zM500.8 367.2h6.6v3.5h-6.6zM573.5 370.2h3.5v3.5h-3.5zM579.6 373.2h3.5v3.5h-3.5zM585.6 379.2h3.5v3.5h-3.5zM588.7 385.2h3.5v3.5h-3.5zM588.7 388.2h3.5v3.5h-3.5zM588.7 391.2h3.5v3.5h-3.5zM588.7 394.3h3.5v3.5h-3.5zM455.4 400.3h3.5v3.5h-3.5zM455.4 403.3h6.6v3.5h-6.6zM458.4 406.3h6.6v3.5h-6.6zM582.6 406.3h3.5v3.5h-3.5zM464.5 409.3h6.6v3.5h-6.6zM470.5 412.3h6.6v3.5h-6.6zM479.6 415.3h9.6v3.5h-9.6zM506.9 415.3h3.5v3.5h-3.5z"/><path fill="#fcec04" d="M482.7 283h9.6v3.5h-9.6zM509.9 283h3.5v3.5h-3.5zM473.6 286h9.6v3.5h-9.6zM512.9 286h3.5v3.5h-3.5zM573.5 286h3.5v3.5h-3.5zM467.5 289h9.6v3.5h-9.6zM512.9 289h3.5v3.5h-3.5zM464.5 292h6.6v3.5h-6.6zM461.5 295h6.6v3.5h-6.6zM458.4 298h6.6v3.5h-6.6zM585.6 298h3.5v3.5h-3.5zM455.4 301h9.6v3.5h-9.6zM455.4 304h6.6v3.5h-6.6zM455.4 307h6.6v3.5h-6.6zM455.4 310.1h6.6v3.5h-6.6zM455.4 313.1h6.6v3.5h-6.6zM455.4 316.1h6.6v3.5h-6.6zM585.6 316.1h3.5v3.5h-3.5zM455.4 319.1h6.6v3.5h-6.6zM455.4 322.1h9.6v3.5h-9.6zM579.6 322.1h3.5v3.5h-3.5zM455.4 325.1h9.6v3.5h-9.6zM576.6 325.1h3.5v3.5h-3.5zM455.4 328.1h15.6v3.5h-15.6zM558.4 328.1h9.6v3.5h-9.6zM455.4 331.1h36.8v3.5h-36.8zM455.4 334.1h21.7v3.5h-21.7zM455.4 337.1h12.6v3.5h-12.6zM455.4 340.1h3.5v3.5h-3.5zM455.4 358.2h6.6v3.5h-6.6zM455.4 361.2h15.6v3.5h-15.6zM455.4 364.2h27.8v3.5h-27.8zM455.4 367.2h45.9v3.5h-45.9zM455.4 370.2h12.6v3.5h-12.6zM509.9 370.2h3.5v3.5h-3.5zM570.5 370.2h3.5v3.5h-3.5zM455.4 373.2h9.6v3.5h-9.6zM455.4 376.2h6.6v3.5h-6.6zM582.6 376.2h3.5v3.5h-3.5zM455.4 379.2h6.6v3.5h-6.6zM455.4 382.2h6.6v3.5h-6.6zM512.9 382.2h3.5v3.5h-3.5zM555.4 382.2h3.5v3.5h-3.5zM585.6 382.2h3.5v3.5h-3.5zM455.4 385.2h6.6v3.5h-6.6zM455.4 388.2h6.6v3.5h-6.6zM455.4 391.2h6.6v3.5h-6.6zM455.4 394.3h6.6v3.5h-6.6zM455.4 397.3h9.6v3.5h-9.6zM585.6 397.3h3.5v3.5h-3.5zM458.4 400.3h9.6v3.5h-9.6zM585.6 400.3h3.5v3.5h-3.5zM461.5 403.3h9.6v3.5h-9.6zM582.6 403.3h3.5v3.5h-3.5zM464.5 406.3h9.6v3.5h-9.6zM579.6 406.3h3.5v3.5h-3.5zM470.5 409.3h6.6v3.5h-6.6zM512.9 409.3h3.5v3.5h-3.5zM576.6 409.3h3.5v3.5h-3.5zM476.6 412.3h9.6v3.5h-9.6zM512.9 412.3h3.5v3.5h-3.5zM567.5 412.3h6.6v3.5h-6.6zM488.7 415.3h18.7v3.5h-18.7z"/><path fill="#fce404" d="M491.7 283h18.7v3.5h-18.7zM482.7 286h3.5v3.5h-3.5zM555.4 286h3.5v3.5h-3.5zM570.5 286h3.5v3.5h-3.5zM476.6 289h3.5v3.5h-3.5zM555.4 289h3.5v3.5h-3.5zM576.6 289h3.5v3.5h-3.5zM470.5 292h6.6v3.5h-6.6zM512.9 292h3.5v3.5h-3.5zM555.4 292h3.5v3.5h-3.5zM579.6 292h3.5v3.5h-3.5zM467.5 295h6.6v3.5h-6.6zM582.6 295h3.5v3.5h-3.5zM464.5 298h6.6v3.5h-6.6zM464.5 301h6.6v3.5h-6.6zM585.6 301h3.5v3.5h-3.5zM461.5 304h6.6v3.5h-6.6zM585.6 304h3.5v3.5h-3.5zM461.5 307h6.6v3.5h-6.6zM585.6 307h3.5v3.5h-3.5zM461.5 310.1h6.6v3.5h-6.6zM585.6 310.1h3.5v3.5h-3.5zM461.5 313.1h6.6v3.5h-6.6zM512.9 313.1h3.5v3.5h-3.5zM555.4 313.1h3.5v3.5h-3.5zM585.6 313.1h3.5v3.5h-3.5zM461.5 316.1h6.6v3.5h-6.6zM461.5 319.1h9.6v3.5h-9.6zM582.6 319.1h3.5v3.5h-3.5zM464.5 322.1h9.6v3.5h-9.6zM464.5 325.1h12.6v3.5h-12.6zM509.9 325.1h3.5v3.5h-3.5zM573.5 325.1h3.5v3.5h-3.5zM470.5 328.1h21.7v3.5h-21.7zM467.5 370.2h15.6v3.5h-15.6zM558.4 370.2h3.5v3.5h-3.5zM567.5 370.2h3.5v3.5h-3.5zM464.5 373.2h12.6v3.5h-12.6zM576.6 373.2h3.5v3.5h-3.5zM461.5 376.2h9.6v3.5h-9.6zM579.6 376.2h3.5v3.5h-3.5zM461.5 379.2h9.6v3.5h-9.6zM582.6 379.2h3.5v3.5h-3.5zM461.5 382.2h6.6v3.5h-6.6zM461.5 385.2h6.6v3.5h-6.6zM512.9 385.2h3.5v3.5h-3.5zM555.4 385.2h3.5v3.5h-3.5zM585.6 385.2h3.5v3.5h-3.5zM461.5 388.2h6.6v3.5h-6.6zM585.6 388.2h3.5v3.5h-3.5zM461.5 391.2h6.6v3.5h-6.6zM585.6 391.2h3.5v3.5h-3.5zM461.5 394.3h6.6v3.5h-6.6zM585.6 394.3h3.5v3.5h-3.5zM464.5 397.3h6.6v3.5h-6.6zM467.5 400.3h6.6v3.5h-6.6zM582.6 400.3h3.5v3.5h-3.5zM470.5 403.3h3.5v3.5h-3.5zM512.9 403.3h3.5v3.5h-3.5zM473.6 406.3h6.6v3.5h-6.6zM512.9 406.3h3.5v3.5h-3.5zM555.4 406.3h3.5v3.5h-3.5zM476.6 409.3h6.6v3.5h-6.6zM555.4 409.3h3.5v3.5h-3.5zM573.5 409.3h3.5v3.5h-3.5zM485.7 412.3h6.6v3.5h-6.6zM555.4 412.3h3.5v3.5h-3.5zM564.4 412.3h3.5v3.5h-3.5z"/><path fill="#04ecf4" d="M543.2 283h3.5v3.5h-3.5zM531.1 322.1h3.5v3.5h-3.5zM537.2 322.1h3.5v3.5h-3.5zM525.1 325.1h3.5v3.5h-3.5zM522 328.1h3.5v3.5h-3.5zM512.9 340.1h3.5v3.5h-3.5zM555.4 340.1h3.5v3.5h-3.5zM525.1 412.3h3.5v3.5h-3.5zM522 421.3h3.5v3.5h-3.5zM522 436.4h3.5v3.5h-3.5zM546.3 436.4h3.5v3.5h-3.5zM528.1 442.4h3.5v3.5h-3.5zM540.2 442.4h3.5v3.5h-3.5z"/><path fill="#fcdc04" d="M485.7 286h6.6v3.5h-6.6zM567.5 286h3.5v3.5h-3.5zM479.6 289h6.6v3.5h-6.6zM573.5 289h3.5v3.5h-3.5zM476.6 292h3.5v3.5h-3.5zM473.6 295h3.5v3.5h-3.5zM512.9 295h3.5v3.5h-3.5zM555.4 295h3.5v3.5h-3.5zM579.6 295h3.5v3.5h-3.5zM470.5 298h6.6v3.5h-6.6zM512.9 298h3.5v3.5h-3.5zM555.4 298h3.5v3.5h-3.5zM582.6 298h3.5v3.5h-3.5zM470.5 301h3.5v3.5h-3.5zM582.6 301h3.5v3.5h-3.5zM467.5 304h6.6v3.5h-6.6zM467.5 307h6.6v3.5h-6.6zM512.9 307h3.5v3.5h-3.5zM555.4 307h3.5v3.5h-3.5zM467.5 310.1h6.6v3.5h-6.6zM512.9 310.1h3.5v3.5h-3.5zM555.4 310.1h3.5v3.5h-3.5zM467.5 313.1h6.6v3.5h-6.6zM582.6 313.1h3.5v3.5h-3.5zM467.5 316.1h6.6v3.5h-6.6zM582.6 316.1h3.5v3.5h-3.5zM470.5 319.1h6.6v3.5h-6.6zM579.6 319.1h3.5v3.5h-3.5zM473.6 322.1h6.6v3.5h-6.6zM576.6 322.1h3.5v3.5h-3.5zM476.6 325.1h9.6v3.5h-9.6zM558.4 325.1h3.5v3.5h-3.5zM570.5 325.1h3.5v3.5h-3.5zM491.7 328.1h12.6v3.5h-12.6zM482.7 370.2h9.6v3.5h-9.6zM564.4 370.2h3.5v3.5h-3.5zM476.6 373.2h6.6v3.5h-6.6zM509.9 373.2h3.5v3.5h-3.5zM558.4 373.2h3.5v3.5h-3.5zM573.5 373.2h3.5v3.5h-3.5zM470.5 376.2h6.6v3.5h-6.6zM470.5 379.2h6.6v3.5h-6.6zM467.5 382.2h6.6v3.5h-6.6zM582.6 382.2h3.5v3.5h-3.5zM467.5 385.2h6.6v3.5h-6.6zM467.5 388.2h6.6v3.5h-6.6zM512.9 388.2h3.5v3.5h-3.5zM555.4 388.2h3.5v3.5h-3.5zM467.5 391.2h6.6v3.5h-6.6zM512.9 391.2h3.5v3.5h-3.5zM467.5 394.3h6.6v3.5h-6.6zM470.5 397.3h3.5v3.5h-3.5zM512.9 397.3h3.5v3.5h-3.5zM582.6 397.3h3.5v3.5h-3.5zM473.6 400.3h3.5v3.5h-3.5zM512.9 400.3h3.5v3.5h-3.5zM555.4 400.3h3.5v3.5h-3.5zM473.6 403.3h6.6v3.5h-6.6zM555.4 403.3h3.5v3.5h-3.5zM579.6 403.3h3.5v3.5h-3.5zM479.6 406.3h3.5v3.5h-3.5zM576.6 406.3h3.5v3.5h-3.5zM482.7 409.3h3.5v3.5h-3.5zM491.7 412.3h3.5v3.5h-3.5zM558.4 412.3h6.6v3.5h-6.6z"/><path fill="#fcd404" d="M491.7 286h3.5v3.5h-3.5zM564.4 286h3.5v3.5h-3.5zM485.7 289h3.5v3.5h-3.5zM479.6 292h6.6v3.5h-6.6zM576.6 292h3.5v3.5h-3.5zM476.6 295h6.6v3.5h-6.6zM476.6 298h3.5v3.5h-3.5zM473.6 301h3.5v3.5h-3.5zM512.9 301h3.5v3.5h-3.5zM555.4 301h3.5v3.5h-3.5zM473.6 304h3.5v3.5h-3.5zM512.9 304h3.5v3.5h-3.5zM555.4 304h3.5v3.5h-3.5zM582.6 304h3.5v3.5h-3.5zM473.6 307h3.5v3.5h-3.5zM582.6 307h3.5v3.5h-3.5zM473.6 310.1h3.5v3.5h-3.5zM582.6 310.1h3.5v3.5h-3.5zM473.6 313.1h3.5v3.5h-3.5zM473.6 316.1h6.6v3.5h-6.6zM579.6 316.1h3.5v3.5h-3.5zM476.6 319.1h3.5v3.5h-3.5zM479.6 322.1h3.5v3.5h-3.5zM509.9 322.1h3.5v3.5h-3.5zM558.4 322.1h3.5v3.5h-3.5zM485.7 325.1h6.6v3.5h-6.6zM503.9 328.1h6.6v3.5h-6.6zM491.7 370.2h6.6v3.5h-6.6zM561.4 370.2h3.5v3.5h-3.5zM482.7 373.2h6.6v3.5h-6.6zM570.5 373.2h3.5v3.5h-3.5zM476.6 376.2h6.6v3.5h-6.6zM509.9 376.2h3.5v3.5h-3.5zM576.6 376.2h3.5v3.5h-3.5zM476.6 379.2h3.5v3.5h-3.5zM579.6 379.2h3.5v3.5h-3.5zM473.6 382.2h3.5v3.5h-3.5zM473.6 385.2h3.5v3.5h-3.5zM582.6 385.2h3.5v3.5h-3.5zM473.6 388.2h3.5v3.5h-3.5zM582.6 388.2h3.5v3.5h-3.5zM473.6 391.2h3.5v3.5h-3.5zM555.4 391.2h3.5v3.5h-3.5zM582.6 391.2h3.5v3.5h-3.5zM473.6 394.3h3.5v3.5h-3.5zM512.9 394.3h3.5v3.5h-3.5zM555.4 394.3h3.5v3.5h-3.5zM582.6 394.3h3.5v3.5h-3.5zM473.6 397.3h6.6v3.5h-6.6zM555.4 397.3h3.5v3.5h-3.5zM476.6 400.3h3.5v3.5h-3.5zM579.6 400.3h3.5v3.5h-3.5zM479.6 403.3h3.5v3.5h-3.5zM482.7 406.3h3.5v3.5h-3.5zM485.7 409.3h6.6v3.5h-6.6zM570.5 409.3h3.5v3.5h-3.5zM494.8 412.3h6.6v3.5h-6.6z"/><path fill="#fccc04" d="M494.8 286h3.5v3.5h-3.5zM561.4 286h3.5v3.5h-3.5zM488.7 289h3.5v3.5h-3.5zM570.5 289h3.5v3.5h-3.5zM479.6 298h3.5v3.5h-3.5zM579.6 298h3.5v3.5h-3.5zM476.6 301h3.5v3.5h-3.5zM476.6 304h3.5v3.5h-3.5zM476.6 307h3.5v3.5h-3.5zM476.6 310.1h3.5v3.5h-3.5zM476.6 313.1h3.5v3.5h-3.5zM579.6 313.1h3.5v3.5h-3.5zM479.6 316.1h3.5v3.5h-3.5zM479.6 319.1h3.5v3.5h-3.5zM509.9 319.1h3.5v3.5h-3.5zM558.4 319.1h3.5v3.5h-3.5zM576.6 319.1h3.5v3.5h-3.5zM482.7 322.1h6.6v3.5h-6.6zM573.5 322.1h3.5v3.5h-3.5zM491.7 325.1h3.5v3.5h-3.5zM567.5 325.1h3.5v3.5h-3.5zM497.8 370.2h6.6v3.5h-6.6zM488.7 373.2h3.5v3.5h-3.5zM482.7 376.2h3.5v3.5h-3.5zM558.4 376.2h3.5v3.5h-3.5zM479.6 379.2h3.5v3.5h-3.5zM476.6 382.2h3.5v3.5h-3.5zM579.6 382.2h3.5v3.5h-3.5zM476.6 385.2h3.5v3.5h-3.5zM476.6 388.2h3.5v3.5h-3.5zM476.6 391.2h3.5v3.5h-3.5zM476.6 394.3h3.5v3.5h-3.5zM579.6 397.3h3.5v3.5h-3.5zM479.6 400.3h3.5v3.5h-3.5zM482.7 403.3h3.5v3.5h-3.5zM576.6 403.3h3.5v3.5h-3.5zM485.7 406.3h3.5v3.5h-3.5zM573.5 406.3h3.5v3.5h-3.5zM491.7 409.3h3.5v3.5h-3.5zM567.5 409.3h3.5v3.5h-3.5zM500.8 412.3h6.6v3.5h-6.6z"/><path fill="#fcc404" d="M497.8 286h6.6v3.5h-6.6zM558.4 286h3.5v3.5h-3.5zM491.7 289h3.5v3.5h-3.5zM485.7 292h3.5v3.5h-3.5zM573.5 292h3.5v3.5h-3.5zM482.7 295h3.5v3.5h-3.5zM576.6 295h3.5v3.5h-3.5zM482.7 298h3.5v3.5h-3.5zM479.6 301h3.5v3.5h-3.5zM579.6 301h3.5v3.5h-3.5zM479.6 304h3.5v3.5h-3.5zM579.6 304h3.5v3.5h-3.5zM479.6 307h3.5v3.5h-3.5zM579.6 307h3.5v3.5h-3.5zM479.6 310.1h3.5v3.5h-3.5zM579.6 310.1h3.5v3.5h-3.5zM479.6 313.1h3.5v3.5h-3.5zM482.7 316.1h3.5v3.5h-3.5zM482.7 319.1h3.5v3.5h-3.5zM488.7 322.1h3.5v3.5h-3.5zM494.8 325.1h3.5v3.5h-3.5zM564.4 325.1h3.5v3.5h-3.5zM503.9 370.2h3.5v3.5h-3.5zM491.7 373.2h3.5v3.5h-3.5zM567.5 373.2h3.5v3.5h-3.5zM485.7 376.2h3.5v3.5h-3.5zM573.5 376.2h3.5v3.5h-3.5zM482.7 379.2h3.5v3.5h-3.5zM509.9 379.2h3.5v3.5h-3.5zM558.4 379.2h3.5v3.5h-3.5zM576.6 379.2h3.5v3.5h-3.5zM479.6 382.2h3.5v3.5h-3.5zM479.6 385.2h3.5v3.5h-3.5zM579.6 385.2h3.5v3.5h-3.5zM479.6 388.2h3.5v3.5h-3.5zM579.6 388.2h3.5v3.5h-3.5zM479.6 391.2h3.5v3.5h-3.5zM579.6 391.2h3.5v3.5h-3.5zM479.6 394.3h3.5v3.5h-3.5zM579.6 394.3h3.5v3.5h-3.5zM479.6 397.3h3.5v3.5h-3.5zM482.7 400.3h3.5v3.5h-3.5zM485.7 403.3h3.5v3.5h-3.5zM488.7 406.3h3.5v3.5h-3.5zM494.8 409.3h3.5v3.5h-3.5zM506.9 412.3h6.6v3.5h-6.6z"/><path fill="#fcbc04" d="M503.9 286h3.5v3.5h-3.5zM567.5 289h3.5v3.5h-3.5zM488.7 292h3.5v3.5h-3.5zM485.7 295h3.5v3.5h-3.5zM576.6 298h3.5v3.5h-3.5zM482.7 301h3.5v3.5h-3.5zM482.7 313.1h3.5v3.5h-3.5zM509.9 316.1h3.5v3.5h-3.5zM558.4 316.1h3.5v3.5h-3.5zM576.6 316.1h3.5v3.5h-3.5zM485.7 319.1h3.5v3.5h-3.5zM573.5 319.1h3.5v3.5h-3.5zM570.5 322.1h3.5v3.5h-3.5zM497.8 325.1h3.5v3.5h-3.5zM506.9 370.2h3.5v3.5h-3.5zM494.8 373.2h3.5v3.5h-3.5zM488.7 376.2h3.5v3.5h-3.5zM485.7 379.2h3.5v3.5h-3.5zM482.7 382.2h3.5v3.5h-3.5zM509.9 382.2h3.5v3.5h-3.5zM558.4 382.2h3.5v3.5h-3.5zM576.6 382.2h3.5v3.5h-3.5zM482.7 385.2h3.5v3.5h-3.5zM482.7 394.3h3.5v3.5h-3.5zM482.7 397.3h3.5v3.5h-3.5zM576.6 400.3h3.5v3.5h-3.5zM573.5 403.3h3.5v3.5h-3.5zM570.5 406.3h3.5v3.5h-3.5zM564.4 409.3h3.5v3.5h-3.5z"/><path fill="#fcb404" d="M506.9 286h3.5v3.5h-3.5zM494.8 289h3.5v3.5h-3.5zM491.7 292h3.5v3.5h-3.5zM570.5 292h3.5v3.5h-3.5zM488.7 295h3.5v3.5h-3.5zM573.5 295h3.5v3.5h-3.5zM485.7 298h3.5v3.5h-3.5zM576.6 301h3.5v3.5h-3.5zM482.7 304h3.5v3.5h-3.5zM482.7 307h3.5v3.5h-3.5zM482.7 310.1h3.5v3.5h-3.5zM509.9 313.1h3.5v3.5h-3.5zM558.4 313.1h3.5v3.5h-3.5zM576.6 313.1h3.5v3.5h-3.5zM485.7 316.1h3.5v3.5h-3.5zM488.7 319.1h3.5v3.5h-3.5zM491.7 322.1h3.5v3.5h-3.5zM500.8 325.1h3.5v3.5h-3.5zM491.7 376.2h3.5v3.5h-3.5zM570.5 376.2h3.5v3.5h-3.5zM573.5 379.2h3.5v3.5h-3.5zM485.7 382.2h3.5v3.5h-3.5zM509.9 385.2h3.5v3.5h-3.5zM558.4 385.2h3.5v3.5h-3.5zM576.6 385.2h3.5v3.5h-3.5zM482.7 388.2h3.5v3.5h-3.5zM482.7 391.2h3.5v3.5h-3.5zM576.6 397.3h3.5v3.5h-3.5zM485.7 400.3h3.5v3.5h-3.5zM488.7 403.3h3.5v3.5h-3.5zM491.7 406.3h3.5v3.5h-3.5zM497.8 409.3h3.5v3.5h-3.5z"/><path fill="#fcac04" d="M509.9 286h3.5v3.5h-3.5zM497.8 289h3.5v3.5h-3.5zM509.9 289h3.5v3.5h-3.5zM564.4 289h3.5v3.5h-3.5zM509.9 292h3.5v3.5h-3.5zM509.9 295h3.5v3.5h-3.5zM485.7 301h3.5v3.5h-3.5zM485.7 304h3.5v3.5h-3.5zM576.6 304h3.5v3.5h-3.5zM509.9 307h3.5v3.5h-3.5zM558.4 307h3.5v3.5h-3.5zM576.6 307h3.5v3.5h-3.5zM485.7 310.1h3.5v3.5h-3.5zM509.9 310.1h3.5v3.5h-3.5zM558.4 310.1h3.5v3.5h-3.5zM576.6 310.1h3.5v3.5h-3.5zM485.7 313.1h3.5v3.5h-3.5zM494.8 322.1h3.5v3.5h-3.5zM567.5 322.1h3.5v3.5h-3.5zM561.4 325.1h3.5v3.5h-3.5zM497.8 373.2h3.5v3.5h-3.5zM564.4 373.2h3.5v3.5h-3.5zM488.7 379.2h3.5v3.5h-3.5zM485.7 385.2h3.5v3.5h-3.5zM485.7 388.2h3.5v3.5h-3.5zM509.9 388.2h3.5v3.5h-3.5zM558.4 388.2h3.5v3.5h-3.5zM576.6 388.2h3.5v3.5h-3.5zM576.6 391.2h3.5v3.5h-3.5zM485.7 394.3h3.5v3.5h-3.5zM576.6 394.3h3.5v3.5h-3.5zM485.7 397.3h3.5v3.5h-3.5zM488.7 400.3h3.5v3.5h-3.5zM573.5 400.3h3.5v3.5h-3.5zM509.9 403.3h3.5v3.5h-3.5zM494.8 406.3h3.5v3.5h-3.5zM509.9 406.3h3.5v3.5h-3.5zM567.5 406.3h3.5v3.5h-3.5zM500.8 409.3h3.5v3.5h-3.5zM509.9 409.3h3.5v3.5h-3.5zM561.4 409.3h3.5v3.5h-3.5z"/><path fill="#04acfc" d="M537.2 286h3.5v3.5h-3.5zM531.1 325.1h3.5v3.5h-3.5zM546.3 334.1h3.5v3.5h-3.5zM555.4 352.2h3.5v3.5h-3.5zM525.1 418.3h3.5v3.5h-3.5zM543.2 421.3h3.5v3.5h-3.5zM543.2 430.3h3.5v3.5h-3.5zM531.1 436.4h9.6v3.5h-9.6z"/><path fill="#fc9c04" d="M500.8 289h3.5v3.5h-3.5zM561.4 289h3.5v3.5h-3.5zM567.5 292h3.5v3.5h-3.5zM570.5 295h3.5v3.5h-3.5zM488.7 301h3.5v3.5h-3.5zM488.7 313.1h3.5v3.5h-3.5zM573.5 313.1h3.5v3.5h-3.5zM497.8 322.1h3.5v3.5h-3.5zM506.9 322.1h3.5v3.5h-3.5zM506.9 373.2h3.5v3.5h-3.5zM561.4 373.2h3.5v3.5h-3.5zM567.5 376.2h3.5v3.5h-3.5zM491.7 379.2h3.5v3.5h-3.5zM570.5 379.2h3.5v3.5h-3.5zM488.7 385.2h3.5v3.5h-3.5zM488.7 394.3h3.5v3.5h-3.5zM488.7 397.3h3.5v3.5h-3.5zM573.5 397.3h3.5v3.5h-3.5zM497.8 406.3h3.5v3.5h-3.5zM503.9 409.3h3.5v3.5h-3.5z"/><path fill="#fc8c04" d="M503.9 289h3.5v3.5h-3.5zM497.8 292h3.5v3.5h-3.5zM494.8 295h3.5v3.5h-3.5zM573.5 304h3.5v3.5h-3.5zM573.5 307h3.5v3.5h-3.5zM491.7 313.1h3.5v3.5h-3.5zM570.5 316.1h3.5v3.5h-3.5zM506.9 319.1h3.5v3.5h-3.5zM561.4 319.1h3.5v3.5h-3.5zM503.9 373.2h3.5v3.5h-3.5zM494.8 379.2h3.5v3.5h-3.5zM506.9 379.2h3.5v3.5h-3.5zM561.4 379.2h3.5v3.5h-3.5zM573.5 388.2h3.5v3.5h-3.5zM573.5 391.2h3.5v3.5h-3.5zM491.7 397.3h3.5v3.5h-3.5zM570.5 400.3h3.5v3.5h-3.5zM567.5 403.3h3.5v3.5h-3.5z"/><path fill="#fc7c04" d="M506.9 289h3.5v3.5h-3.5zM500.8 292h3.5v3.5h-3.5zM567.5 295h3.5v3.5h-3.5zM494.8 298h3.5v3.5h-3.5zM491.7 307h3.5v3.5h-3.5zM506.9 313.1h3.5v3.5h-3.5zM561.4 313.1h3.5v3.5h-3.5zM570.5 313.1h3.5v3.5h-3.5zM494.8 316.1h3.5v3.5h-3.5zM497.8 319.1h3.5v3.5h-3.5zM500.8 376.2h3.5v3.5h-3.5zM564.4 376.2h3.5v3.5h-3.5zM567.5 379.2h3.5v3.5h-3.5zM494.8 382.2h3.5v3.5h-3.5zM506.9 385.2h3.5v3.5h-3.5zM561.4 385.2h3.5v3.5h-3.5zM491.7 391.2h3.5v3.5h-3.5zM570.5 397.3h3.5v3.5h-3.5zM497.8 403.3h3.5v3.5h-3.5z"/><path fill="#ccfc24" d="M516 289h3.5v3.5h-3.5zM582.6 418.3h3.5v3.5h-3.5z"/><path fill="#fca404" d="M558.4 289h3.5v3.5h-3.5zM494.8 292h3.5v3.5h-3.5zM558.4 292h3.5v3.5h-3.5zM491.7 295h3.5v3.5h-3.5zM558.4 295h3.5v3.5h-3.5zM488.7 298h3.5v3.5h-3.5zM509.9 298h3.5v3.5h-3.5zM558.4 298h3.5v3.5h-3.5zM573.5 298h3.5v3.5h-3.5zM509.9 301h3.5v3.5h-3.5zM558.4 301h3.5v3.5h-3.5zM509.9 304h3.5v3.5h-3.5zM558.4 304h3.5v3.5h-3.5zM485.7 307h3.5v3.5h-3.5zM488.7 316.1h3.5v3.5h-3.5zM573.5 316.1h3.5v3.5h-3.5zM491.7 319.1h3.5v3.5h-3.5zM570.5 319.1h3.5v3.5h-3.5zM503.9 325.1h6.6v3.5h-6.6zM500.8 373.2h3.5v3.5h-3.5zM494.8 376.2h3.5v3.5h-3.5zM488.7 382.2h3.5v3.5h-3.5zM573.5 382.2h3.5v3.5h-3.5zM485.7 391.2h3.5v3.5h-3.5zM509.9 391.2h3.5v3.5h-3.5zM558.4 391.2h3.5v3.5h-3.5zM509.9 394.3h3.5v3.5h-3.5zM558.4 394.3h3.5v3.5h-3.5zM509.9 397.3h3.5v3.5h-3.5zM558.4 397.3h3.5v3.5h-3.5zM509.9 400.3h3.5v3.5h-3.5zM558.4 400.3h3.5v3.5h-3.5zM491.7 403.3h3.5v3.5h-3.5zM558.4 403.3h3.5v3.5h-3.5zM570.5 403.3h3.5v3.5h-3.5zM558.4 406.3h3.5v3.5h-3.5zM558.4 409.3h3.5v3.5h-3.5z"/><path fill="#d4fc1c" d="M594.7 289h3.5v3.5h-3.5zM603.8 310.1h3.5v3.5h-3.5zM597.8 328.1h3.5v3.5h-3.5zM488.7 343.1h3.5v3.5h-3.5zM588.7 364.2h3.5v3.5h-3.5zM600.8 373.2h3.5v3.5h-3.5zM603.8 385.2h3.5v3.5h-3.5z"/><path fill="#fc6404" d="M503.9 292h3.5v3.5h-3.5zM567.5 298h3.5v3.5h-3.5zM494.8 304h3.5v3.5h-3.5zM494.8 307h3.5v3.5h-3.5zM570.5 307h3.5v3.5h-3.5zM494.8 310.1h3.5v3.5h-3.5zM497.8 316.1h3.5v3.5h-3.5zM567.5 316.1h3.5v3.5h-3.5zM500.8 319.1h3.5v3.5h-3.5zM564.4 319.1h3.5v3.5h-3.5zM494.8 388.2h3.5v3.5h-3.5zM494.8 391.2h3.5v3.5h-3.5zM494.8 394.3h3.5v3.5h-3.5zM497.8 400.3h3.5v3.5h-3.5zM500.8 403.3h3.5v3.5h-3.5z"/><path fill="#fc6c04" d="M506.9 292h3.5v3.5h-3.5zM561.4 292h3.5v3.5h-3.5zM506.9 295h3.5v3.5h-3.5zM561.4 295h3.5v3.5h-3.5zM506.9 298h3.5v3.5h-3.5zM561.4 298h3.5v3.5h-3.5zM494.8 301h3.5v3.5h-3.5zM506.9 301h3.5v3.5h-3.5zM561.4 301h3.5v3.5h-3.5zM506.9 304h3.5v3.5h-3.5zM561.4 304h3.5v3.5h-3.5zM570.5 304h3.5v3.5h-3.5zM570.5 310.1h3.5v3.5h-3.5zM494.8 313.1h3.5v3.5h-3.5zM503.9 322.1h3.5v3.5h-3.5zM494.8 385.2h3.5v3.5h-3.5zM570.5 388.2h3.5v3.5h-3.5zM570.5 391.2h3.5v3.5h-3.5zM506.9 394.3h3.5v3.5h-3.5zM561.4 394.3h3.5v3.5h-3.5zM570.5 394.3h3.5v3.5h-3.5zM506.9 397.3h3.5v3.5h-3.5zM561.4 397.3h3.5v3.5h-3.5zM506.9 400.3h3.5v3.5h-3.5zM561.4 400.3h3.5v3.5h-3.5zM567.5 400.3h3.5v3.5h-3.5zM506.9 403.3h3.5v3.5h-3.5zM561.4 403.3h6.6v3.5h-6.6zM506.9 406.3h3.5v3.5h-3.5z"/><path fill="#fc8404" d="M564.4 292h3.5v3.5h-3.5zM570.5 298h3.5v3.5h-3.5zM491.7 301h3.5v3.5h-3.5zM491.7 304h3.5v3.5h-3.5zM491.7 310.1h3.5v3.5h-3.5zM506.9 316.1h3.5v3.5h-3.5zM561.4 316.1h3.5v3.5h-3.5zM567.5 319.1h3.5v3.5h-3.5zM500.8 322.1h3.5v3.5h-3.5zM506.9 382.2h3.5v3.5h-3.5zM561.4 382.2h3.5v3.5h-3.5zM570.5 382.2h3.5v3.5h-3.5zM491.7 385.2h3.5v3.5h-3.5zM491.7 388.2h3.5v3.5h-3.5zM491.7 394.3h3.5v3.5h-3.5zM494.8 400.3h3.5v3.5h-3.5zM500.8 406.3h3.5v3.5h-3.5z"/><path fill="#fc7404" d="M497.8 295h3.5v3.5h-3.5zM570.5 301h3.5v3.5h-3.5zM506.9 307h3.5v3.5h-3.5zM561.4 307h3.5v3.5h-3.5zM506.9 310.1h3.5v3.5h-3.5zM561.4 310.1h3.5v3.5h-3.5zM497.8 379.2h3.5v3.5h-3.5zM570.5 385.2h3.5v3.5h-3.5zM506.9 388.2h3.5v3.5h-3.5zM561.4 388.2h3.5v3.5h-3.5zM506.9 391.2h3.5v3.5h-3.5zM561.4 391.2h3.5v3.5h-3.5zM494.8 397.3h3.5v3.5h-3.5zM503.9 406.3h3.5v3.5h-3.5zM561.4 406.3h3.5v3.5h-3.5z"/><path fill="#fc5404" d="M500.8 295h3.5v3.5h-3.5zM500.8 379.2h3.5v3.5h-3.5zM564.4 379.2h3.5v3.5h-3.5zM497.8 397.3h3.5v3.5h-3.5zM567.5 397.3h3.5v3.5h-3.5z"/><path fill="#fc3404" d="M503.9 295h3.5v3.5h-3.5zM564.4 298h3.5v3.5h-3.5zM503.9 304h3.5v3.5h-3.5zM564.4 304h3.5v3.5h-3.5zM503.9 307h3.5v3.5h-3.5zM564.4 307h3.5v3.5h-3.5zM500.8 382.2h3.5v3.5h-3.5zM503.9 388.2h3.5v3.5h-3.5zM564.4 388.2h3.5v3.5h-3.5zM503.9 391.2h3.5v3.5h-3.5zM564.4 391.2h3.5v3.5h-3.5zM503.9 394.3h3.5v3.5h-3.5z"/><path fill="#4cfca4" d="M528.1 295h3.5v3.5h-3.5zM546.3 412.3h3.5v3.5h-3.5z"/><path fill="#fc5c04" d="M564.4 295h3.5v3.5h-3.5zM497.8 298h3.5v3.5h-3.5zM503.9 376.2h3.5v3.5h-3.5zM497.8 382.2h3.5v3.5h-3.5zM567.5 382.2h3.5v3.5h-3.5z"/><path fill="#fc9404" d="M491.7 298h3.5v3.5h-3.5zM573.5 301h3.5v3.5h-3.5zM488.7 304h3.5v3.5h-3.5zM488.7 307h3.5v3.5h-3.5zM488.7 310.1h3.5v3.5h-3.5zM573.5 310.1h3.5v3.5h-3.5zM491.7 316.1h3.5v3.5h-3.5zM494.8 319.1h3.5v3.5h-3.5zM561.4 322.1h6.6v3.5h-6.6zM497.8 376.2h3.5v3.5h-3.5zM506.9 376.2h3.5v3.5h-3.5zM561.4 376.2h3.5v3.5h-3.5zM491.7 382.2h3.5v3.5h-3.5zM573.5 385.2h3.5v3.5h-3.5zM488.7 388.2h3.5v3.5h-3.5zM488.7 391.2h3.5v3.5h-3.5zM573.5 394.3h3.5v3.5h-3.5zM491.7 400.3h3.5v3.5h-3.5zM494.8 403.3h3.5v3.5h-3.5zM564.4 406.3h3.5v3.5h-3.5zM506.9 409.3h3.5v3.5h-3.5z"/><path fill="#fc3c04" d="M500.8 298h3.5v3.5h-3.5zM497.8 304h3.5v3.5h-3.5zM567.5 304h3.5v3.5h-3.5zM497.8 307h3.5v3.5h-3.5zM567.5 307h3.5v3.5h-3.5zM503.9 310.1h3.5v3.5h-3.5zM564.4 310.1h6.6v3.5h-6.6zM503.9 313.1h3.5v3.5h-3.5zM564.4 313.1h3.5v3.5h-3.5zM500.8 316.1h3.5v3.5h-3.5zM503.9 385.2h3.5v3.5h-3.5zM564.4 385.2h3.5v3.5h-3.5zM497.8 388.2h3.5v3.5h-3.5zM567.5 388.2h3.5v3.5h-3.5zM497.8 391.2h3.5v3.5h-3.5zM567.5 391.2h3.5v3.5h-3.5z"/><path fill="#fc2c04" d="M503.9 298h3.5v3.5h-3.5zM503.9 301h3.5v3.5h-3.5zM564.4 301h3.5v3.5h-3.5zM564.4 394.3h3.5v3.5h-3.5zM503.9 397.3h3.5v3.5h-3.5zM564.4 397.3h3.5v3.5h-3.5zM503.9 400.3h3.5v3.5h-3.5z"/><path fill="#fc4c04" d="M497.8 301h3.5v3.5h-3.5zM567.5 301h3.5v3.5h-3.5zM497.8 313.1h3.5v3.5h-3.5zM567.5 313.1h3.5v3.5h-3.5zM503.9 319.1h3.5v3.5h-3.5zM503.9 379.2h3.5v3.5h-3.5zM497.8 385.2h3.5v3.5h-3.5z"/><path fill="#fc1c04" d="M500.8 301h3.5v3.5h-3.5zM500.8 385.2h3.5v3.5h-3.5z"/><path fill="#fc0c04" d="M500.8 304h3.5v3.5h-3.5z"/><path fill="#f40c04" d="M500.8 307h3.5v3.5h-3.5zM500.8 388.2h3.5v3.5h-3.5zM500.8 391.2h3.5v3.5h-3.5z"/><path fill="#fc4404" d="M497.8 310.1h3.5v3.5h-3.5zM503.9 316.1h3.5v3.5h-3.5zM564.4 316.1h3.5v3.5h-3.5zM503.9 382.2h3.5v3.5h-3.5zM564.4 382.2h3.5v3.5h-3.5zM567.5 385.2h3.5v3.5h-3.5zM497.8 394.3h3.5v3.5h-3.5zM567.5 394.3h3.5v3.5h-3.5zM500.8 400.3h3.5v3.5h-3.5zM564.4 400.3h3.5v3.5h-3.5zM503.9 403.3h3.5v3.5h-3.5z"/><path fill="#fc1404" d="M500.8 310.1h3.5v3.5h-3.5zM500.8 394.3h3.5v3.5h-3.5z"/><path fill="#fc2404" d="M500.8 313.1h3.5v3.5h-3.5zM500.8 397.3h3.5v3.5h-3.5z"/><path fill="#7cfc74" d="M525.1 313.1h3.5v3.5h-3.5z"/><path fill="#54fc9c" d="M540.2 316.1h3.5v3.5h-3.5z"/><path fill="#0484fc" d="M528.1 328.1h3.5v3.5h-3.5zM549.3 340.1h3.5v3.5h-3.5zM531.1 370.2h3.5v3.5h-3.5zM537.2 370.2h3.5v3.5h-3.5zM525.1 424.3h3.5v3.5h-3.5zM540.2 430.3h3.5v3.5h-3.5zM534.1 433.3h3.5v3.5h-3.5z"/><path fill="#0464fc" d="M534.1 328.1h3.5v3.5h-3.5zM543.2 334.1h3.5v3.5h-3.5zM552.3 352.2h3.5v3.5h-3.5zM540.2 367.2h3.5v3.5h-3.5zM540.2 427.3h3.5v3.5h-3.5zM531.1 430.3h3.5v3.5h-3.5zM537.2 430.3h3.5v3.5h-3.5z"/><path fill="#0404d4" d="M531.1 334.1h3.5v3.5h-3.5zM522 346.1h3.5v3.5h-3.5zM528.1 346.1h3.5v3.5h-3.5zM537.2 349.1h3.5v3.5h-3.5zM546.3 349.1h3.5v3.5h-3.5zM525.1 352.2h3.5v3.5h-3.5zM540.2 352.2h3.5v3.5h-3.5zM537.2 361.2h3.5v3.5h-3.5z"/><path fill="#0404e4" d="M537.2 334.1h3.5v3.5h-3.5zM546.3 346.1h3.5v3.5h-3.5zM531.1 349.1h6.6v3.5h-6.6zM534.1 424.3h3.5v3.5h-3.5z"/><path fill="#0404dc" d="M531.1 337.1h3.5v3.5h-3.5zM537.2 346.1h3.5v3.5h-3.5zM528.1 352.2h3.5v3.5h-3.5zM534.1 364.2h3.5v3.5h-3.5zM531.1 421.3h3.5v3.5h-3.5z"/><path fill="#0414fc" d="M540.2 337.1h3.5v3.5h-3.5zM531.1 355.2h6.6v3.5h-6.6zM537.2 358.2h3.5v3.5h-3.5zM528.1 364.2h3.5v3.5h-3.5zM537.2 418.3h3.5v3.5h-3.5z"/><path fill="#0404bc" d="M525.1 346.1h3.5v3.5h-3.5zM540.2 346.1h3.5v3.5h-3.5zM531.1 361.2h3.5v3.5h-3.5z"/><path fill="#040494" d="M525.1 349.1h3.5v3.5h-3.5zM534.1 421.3h3.5v3.5h-3.5z"/><path fill="#0404ac" d="M540.2 349.1h3.5v3.5h-3.5z"/><path fill="#04048c" d="M543.2 349.1h3.5v3.5h-3.5z"/><path fill="#0404f4" d="M531.1 352.2h3.5v3.5h-3.5zM546.3 352.2h3.5v3.5h-3.5zM531.1 364.2h3.5v3.5h-3.5zM534.1 418.3h3.5v3.5h-3.5z"/><path fill="#0404cc" d="M543.2 352.2h3.5v3.5h-3.5z"/><path fill="#14fcdc" d="M509.9 355.2h3.5v3.5h-3.5z"/><path fill="#04049c" d="M534.1 361.2h3.5v3.5h-3.5z"/><path fill="#0cfcec" d="M519 364.2h3.5v3.5h-3.5zM546.3 439.4h3.5v3.5h-3.5zM537.2 445.4h3.5v3.5h-3.5z"/><path fill="#1cfcd4" d="M549.3 364.2h3.5v3.5h-3.5zM549.3 439.4h3.5v3.5h-3.5z"/><path fill="#dcfc14" d="M591.7 370.2h3.5v3.5h-3.5zM594.7 373.2h3.5v3.5h-3.5zM482.7 424.3h3.5v3.5h-3.5z"/><path fill="#0cfce4" d="M546.3 421.3h3.5v3.5h-3.5z"/><path fill="#acfc44" d="M609.9 427.3h3.5v3.5h-3.5zM485.7 445.4h3.5v3.5h-3.5z"/><path fill="#5cfc94" d="M561.4 439.4h3.5v3.5h-3.5z"/><path fill="#9cfc54" d="M606.8 445.4h6.6v3.5h-6.6z"/></g></g>
<linearGradient id="ga0" x1="0" y1="0" x2="0" y2="1"><stop offset="0" stop-color="#8a0000"/><stop offset="0.4" stop-color="#b00000"/><stop offset="0.72" stop-color="#f00800"/><stop offset="0.9" stop-color="#ff3800"/><stop offset="1" stop-color="#ff9000"/></linearGradient>
<radialGradient id="ga0s" cx="0.5" cy="0.5" r="0.5"><stop offset="0.8" stop-color="#600000" stop-opacity="0"/><stop offset="1" stop-color="#600000" stop-opacity="0.22"/></radialGradient>
<circle cx="535.1" cy="309.5" r="32.2" fill="url(#ga0)" stroke="#3a0000" stroke-width="0.8"/>
<circle cx="535.1" cy="309.5" r="32.2" fill="url(#ga0s)"/>
<linearGradient id="ga1" x1="0" y1="1" x2="0" y2="0"><stop offset="0" stop-color="#8a0000"/><stop offset="0.4" stop-color="#b00000"/><stop offset="0.72" stop-color="#f00800"/><stop offset="0.9" stop-color="#ff3800"/><stop offset="1" stop-color="#ff9000"/></linearGradient>
<radialGradient id="ga1s" cx="0.5" cy="0.5" r="0.5"><stop offset="0.8" stop-color="#600000" stop-opacity="0"/><stop offset="1" stop-color="#600000" stop-opacity="0.22"/></radialGradient>
<circle cx="535.1" cy="390.7" r="32.2" fill="url(#ga1)" stroke="#3a0000" stroke-width="0.8"/>
<circle cx="535.1" cy="390.7" r="32.2" fill="url(#ga1s)"/>
<path d="M534 243.9V457.4M455.4 350.4H612.9" stroke="#ff0c0c" stroke-width="3" stroke-dasharray="10 4" fill="none"/>
<rect x="455.4" y="243.9" width="157.5" height="213.5" fill="none" stroke="#000" stroke-width="2.6"/>
<text x="542" y="265" font-size="23" text-anchor="start" fill="#111" >Y</text>
<text x="586.6" y="380" font-size="23" text-anchor="start" fill="#111" >X</text>
<g shape-rendering="crispEdges"><rect x="625.3" y="267.8" width="8.9" height="3.5" fill="#890000"/><rect x="625.3" y="270.8" width="8.9" height="3.5" fill="#9c0000"/><rect x="625.3" y="273.9" width="8.9" height="3.5" fill="#b00000"/><rect x="625.3" y="276.9" width="8.9" height="3.5" fill="#c30000"/><rect x="625.3" y="279.9" width="8.9" height="3.5" fill="#d60000"/><rect x="625.3" y="283" width="8.9" height="3.5" fill="#ea0200"/><rect x="625.3" y="286" width="8.9" height="3.5" fill="#fd1100"/><rect x="625.3" y="289.1" width="8.9" height="3.5" fill="#ff2100"/><rect x="625.3" y="292.1" width="8.9" height="3.5" fill="#ff3100"/><rect x="625.3" y="295.1" width="8.9" height="3.5" fill="#ff4100"/><rect x="625.3" y="298.2" width="8.9" height="3.5" fill="#ff5000"/><rect x="625.3" y="301.2" width="8.9" height="3.5" fill="#ff6000"/><rect x="625.3" y="304.2" width="8.9" height="3.5" fill="#ff7000"/><rect x="625.3" y="307.3" width="8.9" height="3.5" fill="#ff8000"/><rect x="625.3" y="310.3" width="8.9" height="3.5" fill="#ff8f00"/><rect x="625.3" y="313.4" width="8.9" height="3.5" fill="#ff9f00"/><rect x="625.3" y="316.4" width="8.9" height="3.5" fill="#ffaf00"/><rect x="625.3" y="319.4" width="8.9" height="3.5" fill="#ffbe00"/><rect x="625.3" y="322.5" width="8.9" height="3.5" fill="#ffce00"/><rect x="625.3" y="325.5" width="8.9" height="3.5" fill="#ffde00"/><rect x="625.3" y="328.5" width="8.9" height="3.5" fill="#feee00"/><rect x="625.3" y="331.6" width="8.9" height="3.5" fill="#f0fd07"/><rect x="625.3" y="334.6" width="8.9" height="3.5" fill="#e2ff15"/><rect x="625.3" y="337.6" width="8.9" height="3.5" fill="#d5ff22"/><rect x="625.3" y="340.7" width="8.9" height="3.5" fill="#c7ff30"/><rect x="625.3" y="343.7" width="8.9" height="3.5" fill="#b9ff3e"/><rect x="625.3" y="346.8" width="8.9" height="3.5" fill="#abff4b"/><rect x="625.3" y="349.8" width="8.9" height="3.5" fill="#9eff59"/><rect x="625.3" y="352.8" width="8.9" height="3.5" fill="#90ff67"/><rect x="625.3" y="355.9" width="8.9" height="3.5" fill="#82ff75"/><rect x="625.3" y="358.9" width="8.9" height="3.5" fill="#75ff82"/><rect x="625.3" y="361.9" width="8.9" height="3.5" fill="#67ff90"/><rect x="625.3" y="365" width="8.9" height="3.5" fill="#59ff9e"/><rect x="625.3" y="368" width="8.9" height="3.5" fill="#4bffab"/><rect x="625.3" y="371" width="8.9" height="3.5" fill="#3effb9"/><rect x="625.3" y="374.1" width="8.9" height="3.5" fill="#30ffc7"/><rect x="625.3" y="377.1" width="8.9" height="3.5" fill="#22ffd4"/><rect x="625.3" y="380.2" width="8.9" height="3.5" fill="#15ffe2"/><rect x="625.3" y="383.2" width="8.9" height="3.5" fill="#07eef0"/><rect x="625.3" y="386.2" width="8.9" height="3.5" fill="#00ddfe"/><rect x="625.3" y="389.3" width="8.9" height="3.5" fill="#00ccff"/><rect x="625.3" y="392.3" width="8.9" height="3.5" fill="#00bbff"/><rect x="625.3" y="395.3" width="8.9" height="3.5" fill="#00aaff"/><rect x="625.3" y="398.4" width="8.9" height="3.5" fill="#0099ff"/><rect x="625.3" y="401.4" width="8.9" height="3.5" fill="#0088ff"/><rect x="625.3" y="404.5" width="8.9" height="3.5" fill="#0077ff"/><rect x="625.3" y="407.5" width="8.9" height="3.5" fill="#0066ff"/><rect x="625.3" y="410.5" width="8.9" height="3.5" fill="#0055ff"/><rect x="625.3" y="413.6" width="8.9" height="3.5" fill="#0044ff"/><rect x="625.3" y="416.6" width="8.9" height="3.5" fill="#0033ff"/><rect x="625.3" y="419.6" width="8.9" height="3.5" fill="#0022ff"/><rect x="625.3" y="422.7" width="8.9" height="3.5" fill="#0011ff"/><rect x="625.3" y="425.7" width="8.9" height="3.5" fill="#0000ff"/><rect x="625.3" y="428.7" width="8.9" height="3.5" fill="#0000fd"/><rect x="625.3" y="431.8" width="8.9" height="3.5" fill="#0000ea"/><rect x="625.3" y="434.8" width="8.9" height="3.5" fill="#0000d6"/><rect x="625.3" y="437.9" width="8.9" height="3.5" fill="#0000c3"/><rect x="625.3" y="440.9" width="8.9" height="3.5" fill="#0000b0"/><rect x="625.3" y="443.9" width="8.9" height="3.5" fill="#00009c"/><rect x="625.3" y="447" width="8.9" height="3.5" fill="#000089"/></g>
<text x="629.8" y="263" font-size="18" text-anchor="middle" fill="#222" >T</text>
<text x="637" y="299.1" font-size="18.5" text-anchor="start" fill="#222" >0.16</text>
<text x="637" y="338.9" font-size="18.5" text-anchor="start" fill="#222" >0.12</text>
<text x="641.7" y="378.7" font-size="18.5" text-anchor="start" fill="#222" >0.08</text>
<text x="641.7" y="417.3" font-size="18.5" text-anchor="start" fill="#222" >0.04</text>
<text x="641.7" y="452.4" font-size="18.5" text-anchor="start" fill="#222" >0.00</text>
<clipPath id="gbc"><rect x="475.3" y="969.7" width="128.1" height="223.2"/></clipPath>
<filter id="gbcf" x="-5%" y="-5%" width="110%" height="110%"><feGaussianBlur stdDeviation="1.6"/></filter>
<g clip-path="url(#gbc)"><g filter="url(#gbcf)"><path fill="#94fc64" d="M475.3 969.7h18.4v3.5h-18.4zM588.5 969.7h15.4v3.5h-15.4zM484.2 972.7h15.4v3.5h-15.4zM582.5 972.7h18.4v3.5h-18.4zM493.2 975.7h9.4v3.5h-9.4zM579.6 975.7h9.4v3.5h-9.4zM499.1 978.7h9.4v3.5h-9.4zM576.6 978.7h6.5v3.5h-6.5zM505.1 981.8h6.5v3.5h-6.5zM570.6 981.8h6.5v3.5h-6.5zM511 984.8h3.5v3.5h-3.5zM567.7 984.8h3.5v3.5h-3.5zM517 987.8h3.5v3.5h-3.5zM561.7 987.8h3.5v3.5h-3.5zM531.9 1005.9h3.5v3.5h-3.5zM534.9 1011.9h3.5v3.5h-3.5zM543.8 1014.9h3.5v3.5h-3.5zM534.9 1018h3.5v3.5h-3.5zM546.8 1021h3.5v3.5h-3.5zM514 1042.1h3.5v3.5h-3.5zM567.7 1042.1h3.5v3.5h-3.5zM505.1 1045.1h6.5v3.5h-6.5zM573.6 1045.1h3.5v3.5h-3.5zM496.2 1048.1h9.4v3.5h-9.4zM579.6 1048.1h6.5v3.5h-6.5zM487.2 1051.1h12.4v3.5h-12.4zM582.5 1051.1h12.4v3.5h-12.4zM481.3 1054.2h12.4v3.5h-12.4zM588.5 1054.2h12.4v3.5h-12.4zM475.3 1057.2h15.4v3.5h-15.4zM591.5 1057.2h12.4v3.5h-12.4zM475.3 1060.2h12.4v3.5h-12.4zM597.4 1060.2h6.5v3.5h-6.5zM475.3 1063.2h9.4v3.5h-9.4zM597.4 1063.2h6.5v3.5h-6.5zM475.3 1066.2h6.5v3.5h-6.5zM600.4 1066.2h3.5v3.5h-3.5zM475.3 1069.2h6.5v3.5h-6.5zM475.3 1072.3h3.5v3.5h-3.5zM475.3 1075.3h3.5v3.5h-3.5zM475.3 1078.3h3.5v3.5h-3.5zM475.3 1081.3h3.5v3.5h-3.5zM475.3 1084.3h3.5v3.5h-3.5zM475.3 1087.3h6.5v3.5h-6.5zM600.4 1087.3h3.5v3.5h-3.5zM475.3 1090.3h9.4v3.5h-9.4zM600.4 1090.3h3.5v3.5h-3.5zM475.3 1093.4h9.4v3.5h-9.4zM597.4 1093.4h6.5v3.5h-6.5zM475.3 1096.4h12.4v3.5h-12.4zM594.5 1096.4h9.4v3.5h-9.4zM478.3 1099.4h15.4v3.5h-15.4zM591.5 1099.4h12.4v3.5h-12.4zM487.2 1102.4h9.4v3.5h-9.4zM585.5 1102.4h12.4v3.5h-12.4zM493.2 1105.4h9.4v3.5h-9.4zM579.6 1105.4h9.4v3.5h-9.4zM502.1 1108.4h6.5v3.5h-6.5zM573.6 1108.4h6.5v3.5h-6.5zM511 1111.5h3.5v3.5h-3.5zM567.7 1111.5h6.5v3.5h-6.5zM517 1114.5h3.5v3.5h-3.5zM561.7 1114.5h3.5v3.5h-3.5zM523 1117.5h3.5v3.5h-3.5zM555.7 1117.5h3.5v3.5h-3.5zM534.9 1138.6h3.5v3.5h-3.5zM543.8 1138.6h3.5v3.5h-3.5zM534.9 1141.6h3.5v3.5h-3.5zM543.8 1141.6h3.5v3.5h-3.5zM549.8 1159.7h3.5v3.5h-3.5zM555.7 1162.7h3.5v3.5h-3.5zM514 1168.8h3.5v3.5h-3.5zM564.7 1168.8h3.5v3.5h-3.5zM508.1 1171.8h3.5v3.5h-3.5zM570.6 1171.8h3.5v3.5h-3.5zM502.1 1174.8h6.5v3.5h-6.5zM573.6 1174.8h6.5v3.5h-6.5zM496.2 1177.8h9.4v3.5h-9.4zM579.6 1177.8h6.5v3.5h-6.5zM487.2 1180.8h12.4v3.5h-12.4zM582.5 1180.8h12.4v3.5h-12.4zM475.3 1183.9h21.4v3.5h-21.4zM585.5 1183.9h18.4v3.5h-18.4zM475.3 1186.9h18.4v3.5h-18.4zM591.5 1186.9h12.4v3.5h-12.4zM475.3 1189.9h12.4v3.5h-12.4zM594.5 1189.9h9.4v3.5h-9.4z"/><path fill="#8cfc64" d="M493.2 969.7h3.5v3.5h-3.5zM594.5 1060.2h3.5v3.5h-3.5zM478.3 1084.3h3.5v3.5h-3.5zM487.2 1096.4h3.5v3.5h-3.5zM588.5 1099.4h3.5v3.5h-3.5z"/><path fill="#8cfc6c" d="M496.2 969.7h3.5v3.5h-3.5zM582.5 969.7h6.5v3.5h-6.5zM499.1 972.7h3.5v3.5h-3.5zM579.6 972.7h3.5v3.5h-3.5zM502.1 975.7h3.5v3.5h-3.5zM576.6 975.7h3.5v3.5h-3.5zM508.1 978.7h3.5v3.5h-3.5zM573.6 978.7h3.5v3.5h-3.5zM511 981.8h3.5v3.5h-3.5zM514 984.8h3.5v3.5h-3.5zM564.7 984.8h3.5v3.5h-3.5zM523 990.8h3.5v3.5h-3.5zM543.8 1011.9h3.5v3.5h-3.5zM525.9 1036.1h3.5v3.5h-3.5zM520 1039.1h3.5v3.5h-3.5zM558.7 1039.1h3.5v3.5h-3.5zM564.7 1042.1h3.5v3.5h-3.5zM570.6 1045.1h3.5v3.5h-3.5zM505.1 1048.1h3.5v3.5h-3.5zM573.6 1048.1h6.5v3.5h-6.5zM499.1 1051.1h3.5v3.5h-3.5zM579.6 1051.1h3.5v3.5h-3.5zM493.2 1054.2h6.5v3.5h-6.5zM582.5 1054.2h6.5v3.5h-6.5zM490.2 1057.2h6.5v3.5h-6.5zM588.5 1057.2h3.5v3.5h-3.5zM487.2 1060.2h6.5v3.5h-6.5zM591.5 1060.2h3.5v3.5h-3.5zM484.2 1063.2h6.5v3.5h-6.5zM591.5 1063.2h6.5v3.5h-6.5zM481.3 1066.2h6.5v3.5h-6.5zM594.5 1066.2h6.5v3.5h-6.5zM481.3 1069.2h6.5v3.5h-6.5zM594.5 1069.2h9.4v3.5h-9.4zM478.3 1072.3h6.5v3.5h-6.5zM597.4 1072.3h6.5v3.5h-6.5zM478.3 1075.3h6.5v3.5h-6.5zM597.4 1075.3h6.5v3.5h-6.5zM478.3 1078.3h6.5v3.5h-6.5zM597.4 1078.3h6.5v3.5h-6.5zM478.3 1081.3h6.5v3.5h-6.5zM597.4 1081.3h6.5v3.5h-6.5zM481.3 1084.3h6.5v3.5h-6.5zM597.4 1084.3h6.5v3.5h-6.5zM481.3 1087.3h6.5v3.5h-6.5zM594.5 1087.3h6.5v3.5h-6.5zM484.2 1090.3h6.5v3.5h-6.5zM594.5 1090.3h6.5v3.5h-6.5zM484.2 1093.4h6.5v3.5h-6.5zM591.5 1093.4h6.5v3.5h-6.5zM490.2 1096.4h3.5v3.5h-3.5zM588.5 1096.4h6.5v3.5h-6.5zM493.2 1099.4h3.5v3.5h-3.5zM585.5 1099.4h3.5v3.5h-3.5zM496.2 1102.4h6.5v3.5h-6.5zM582.5 1102.4h3.5v3.5h-3.5zM502.1 1105.4h3.5v3.5h-3.5zM576.6 1105.4h3.5v3.5h-3.5zM508.1 1108.4h3.5v3.5h-3.5zM570.6 1108.4h3.5v3.5h-3.5zM546.8 1132.6h3.5v3.5h-3.5zM546.8 1147.7h3.5v3.5h-3.5zM520 1165.8h3.5v3.5h-3.5zM511 1171.8h3.5v3.5h-3.5zM567.7 1171.8h3.5v3.5h-3.5zM508.1 1174.8h3.5v3.5h-3.5zM570.6 1174.8h3.5v3.5h-3.5zM505.1 1177.8h3.5v3.5h-3.5zM573.6 1177.8h6.5v3.5h-6.5zM499.1 1180.8h6.5v3.5h-6.5zM576.6 1180.8h6.5v3.5h-6.5zM496.2 1183.9h6.5v3.5h-6.5zM579.6 1183.9h6.5v3.5h-6.5zM493.2 1186.9h6.5v3.5h-6.5zM582.5 1186.9h9.4v3.5h-9.4zM487.2 1189.9h9.4v3.5h-9.4zM585.5 1189.9h9.4v3.5h-9.4z"/><path fill="#84fc74" d="M499.1 969.7h6.5v3.5h-6.5zM576.6 969.7h6.5v3.5h-6.5zM502.1 972.7h6.5v3.5h-6.5zM576.6 972.7h3.5v3.5h-3.5zM573.6 975.7h3.5v3.5h-3.5zM570.6 978.7h3.5v3.5h-3.5zM567.7 981.8h3.5v3.5h-3.5zM520 987.8h3.5v3.5h-3.5zM555.7 990.8h3.5v3.5h-3.5zM537.9 1014.9h6.5v3.5h-6.5zM543.8 1018h3.5v3.5h-3.5zM531.9 1024h3.5v3.5h-3.5zM552.8 1036.1h3.5v3.5h-3.5zM517 1042.1h3.5v3.5h-3.5zM511 1045.1h3.5v3.5h-3.5zM567.7 1045.1h3.5v3.5h-3.5zM508.1 1048.1h3.5v3.5h-3.5zM502.1 1051.1h3.5v3.5h-3.5zM576.6 1051.1h3.5v3.5h-3.5zM499.1 1054.2h3.5v3.5h-3.5zM579.6 1054.2h3.5v3.5h-3.5zM496.2 1057.2h3.5v3.5h-3.5zM582.5 1057.2h6.5v3.5h-6.5zM493.2 1060.2h3.5v3.5h-3.5zM585.5 1060.2h3.5v3.5h-3.5zM490.2 1063.2h3.5v3.5h-3.5zM588.5 1063.2h3.5v3.5h-3.5zM487.2 1066.2h6.5v3.5h-6.5zM588.5 1066.2h6.5v3.5h-6.5zM487.2 1069.2h3.5v3.5h-3.5zM591.5 1069.2h3.5v3.5h-3.5zM487.2 1072.3h3.5v3.5h-3.5zM591.5 1072.3h6.5v3.5h-6.5zM484.2 1075.3h6.5v3.5h-6.5zM591.5 1075.3h6.5v3.5h-6.5zM484.2 1078.3h6.5v3.5h-6.5zM591.5 1078.3h6.5v3.5h-6.5zM484.2 1081.3h6.5v3.5h-6.5zM591.5 1081.3h6.5v3.5h-6.5zM487.2 1084.3h3.5v3.5h-3.5zM591.5 1084.3h6.5v3.5h-6.5zM487.2 1087.3h6.5v3.5h-6.5zM588.5 1087.3h6.5v3.5h-6.5zM490.2 1090.3h3.5v3.5h-3.5zM588.5 1090.3h6.5v3.5h-6.5zM490.2 1093.4h6.5v3.5h-6.5zM585.5 1093.4h6.5v3.5h-6.5zM493.2 1096.4h6.5v3.5h-6.5zM582.5 1096.4h6.5v3.5h-6.5zM496.2 1099.4h6.5v3.5h-6.5zM582.5 1099.4h3.5v3.5h-3.5zM502.1 1102.4h3.5v3.5h-3.5zM576.6 1102.4h3.5v3.5h-3.5zM505.1 1105.4h3.5v3.5h-3.5zM573.6 1105.4h3.5v3.5h-3.5zM511 1108.4h3.5v3.5h-3.5zM514 1111.5h3.5v3.5h-3.5zM564.7 1111.5h3.5v3.5h-3.5zM520 1114.5h3.5v3.5h-3.5zM534.9 1135.6h3.5v3.5h-3.5zM537.9 1138.6h3.5v3.5h-3.5zM537.9 1141.6h3.5v3.5h-3.5zM534.9 1144.6h3.5v3.5h-3.5zM558.7 1165.8h3.5v3.5h-3.5zM517 1168.8h3.5v3.5h-3.5zM514 1171.8h3.5v3.5h-3.5zM511 1174.8h3.5v3.5h-3.5zM508.1 1177.8h3.5v3.5h-3.5zM570.6 1177.8h3.5v3.5h-3.5zM505.1 1180.8h3.5v3.5h-3.5zM573.6 1180.8h3.5v3.5h-3.5zM502.1 1183.9h3.5v3.5h-3.5zM576.6 1183.9h3.5v3.5h-3.5zM499.1 1186.9h3.5v3.5h-3.5zM579.6 1186.9h3.5v3.5h-3.5zM496.2 1189.9h6.5v3.5h-6.5zM582.5 1189.9h3.5v3.5h-3.5z"/><path fill="#7cfc7c" d="M505.1 969.7h3.5v3.5h-3.5zM573.6 969.7h3.5v3.5h-3.5zM508.1 972.7h3.5v3.5h-3.5zM573.6 972.7h3.5v3.5h-3.5zM508.1 975.7h3.5v3.5h-3.5zM570.6 975.7h3.5v3.5h-3.5zM511 978.7h3.5v3.5h-3.5zM567.7 978.7h3.5v3.5h-3.5zM514 981.8h3.5v3.5h-3.5zM564.7 981.8h3.5v3.5h-3.5zM517 984.8h3.5v3.5h-3.5zM561.7 984.8h3.5v3.5h-3.5zM558.7 987.8h3.5v3.5h-3.5zM528.9 993.8h3.5v3.5h-3.5zM546.8 1005.9h3.5v3.5h-3.5zM534.9 1008.9h3.5v3.5h-3.5zM537.9 1011.9h6.5v3.5h-6.5zM561.7 1042.1h3.5v3.5h-3.5zM514 1045.1h3.5v3.5h-3.5zM570.6 1048.1h3.5v3.5h-3.5zM505.1 1051.1h3.5v3.5h-3.5zM573.6 1051.1h3.5v3.5h-3.5zM502.1 1054.2h3.5v3.5h-3.5zM576.6 1054.2h3.5v3.5h-3.5zM499.1 1057.2h3.5v3.5h-3.5zM579.6 1057.2h3.5v3.5h-3.5zM496.2 1060.2h3.5v3.5h-3.5zM582.5 1060.2h3.5v3.5h-3.5zM496.2 1063.2h3.5v3.5h-3.5zM582.5 1063.2h6.5v3.5h-6.5zM493.2 1066.2h3.5v3.5h-3.5zM585.5 1066.2h3.5v3.5h-3.5zM493.2 1069.2h3.5v3.5h-3.5zM585.5 1069.2h6.5v3.5h-6.5zM490.2 1072.3h6.5v3.5h-6.5zM588.5 1072.3h3.5v3.5h-3.5zM490.2 1075.3h3.5v3.5h-3.5zM588.5 1075.3h3.5v3.5h-3.5zM490.2 1078.3h3.5v3.5h-3.5zM588.5 1078.3h3.5v3.5h-3.5zM490.2 1081.3h6.5v3.5h-6.5zM588.5 1081.3h3.5v3.5h-3.5zM490.2 1084.3h6.5v3.5h-6.5zM585.5 1084.3h6.5v3.5h-6.5zM493.2 1087.3h3.5v3.5h-3.5zM585.5 1087.3h3.5v3.5h-3.5zM493.2 1090.3h6.5v3.5h-6.5zM585.5 1090.3h3.5v3.5h-3.5zM496.2 1093.4h3.5v3.5h-3.5zM582.5 1093.4h3.5v3.5h-3.5zM499.1 1096.4h3.5v3.5h-3.5zM579.6 1096.4h3.5v3.5h-3.5zM502.1 1099.4h3.5v3.5h-3.5zM576.6 1099.4h3.5v3.5h-3.5zM505.1 1102.4h3.5v3.5h-3.5zM573.6 1102.4h3.5v3.5h-3.5zM508.1 1105.4h3.5v3.5h-3.5zM570.6 1105.4h3.5v3.5h-3.5zM567.7 1108.4h3.5v3.5h-3.5zM558.7 1114.5h3.5v3.5h-3.5zM543.8 1135.6h3.5v3.5h-3.5zM540.8 1138.6h3.5v3.5h-3.5zM540.8 1141.6h3.5v3.5h-3.5zM543.8 1144.6h3.5v3.5h-3.5zM531.9 1150.7h3.5v3.5h-3.5zM564.7 1171.8h3.5v3.5h-3.5zM567.7 1174.8h3.5v3.5h-3.5zM508.1 1180.8h3.5v3.5h-3.5zM570.6 1180.8h3.5v3.5h-3.5zM505.1 1183.9h3.5v3.5h-3.5zM573.6 1183.9h3.5v3.5h-3.5zM502.1 1186.9h6.5v3.5h-6.5zM576.6 1186.9h3.5v3.5h-3.5zM502.1 1189.9h3.5v3.5h-3.5zM576.6 1189.9h3.5v3.5h-3.5z"/><path fill="#74fc84" d="M508.1 969.7h3.5v3.5h-3.5zM570.6 969.7h3.5v3.5h-3.5zM570.6 972.7h3.5v3.5h-3.5zM511 975.7h3.5v3.5h-3.5zM567.7 975.7h3.5v3.5h-3.5zM514 978.7h3.5v3.5h-3.5zM543.8 1008.9h3.5v3.5h-3.5zM537.9 1018h6.5v3.5h-6.5zM534.9 1021h3.5v3.5h-3.5zM546.8 1024h3.5v3.5h-3.5zM523 1039.1h3.5v3.5h-3.5zM564.7 1045.1h3.5v3.5h-3.5zM511 1048.1h3.5v3.5h-3.5zM567.7 1048.1h3.5v3.5h-3.5zM508.1 1051.1h3.5v3.5h-3.5zM570.6 1051.1h3.5v3.5h-3.5zM505.1 1054.2h3.5v3.5h-3.5zM573.6 1054.2h3.5v3.5h-3.5zM502.1 1057.2h3.5v3.5h-3.5zM576.6 1057.2h3.5v3.5h-3.5zM499.1 1060.2h6.5v3.5h-6.5zM579.6 1060.2h3.5v3.5h-3.5zM499.1 1063.2h3.5v3.5h-3.5zM579.6 1063.2h3.5v3.5h-3.5zM496.2 1066.2h3.5v3.5h-3.5zM582.5 1066.2h3.5v3.5h-3.5zM496.2 1069.2h3.5v3.5h-3.5zM582.5 1069.2h3.5v3.5h-3.5zM496.2 1072.3h3.5v3.5h-3.5zM582.5 1072.3h6.5v3.5h-6.5zM496.2 1075.3h3.5v3.5h-3.5zM582.5 1075.3h6.5v3.5h-6.5zM496.2 1078.3h3.5v3.5h-3.5zM585.5 1078.3h3.5v3.5h-3.5zM496.2 1081.3h3.5v3.5h-3.5zM582.5 1081.3h6.5v3.5h-6.5zM496.2 1084.3h3.5v3.5h-3.5zM582.5 1084.3h3.5v3.5h-3.5zM496.2 1087.3h3.5v3.5h-3.5zM582.5 1087.3h3.5v3.5h-3.5zM499.1 1090.3h3.5v3.5h-3.5zM579.6 1090.3h6.5v3.5h-6.5zM499.1 1093.4h3.5v3.5h-3.5zM579.6 1093.4h3.5v3.5h-3.5zM502.1 1096.4h3.5v3.5h-3.5zM576.6 1096.4h3.5v3.5h-3.5zM505.1 1099.4h3.5v3.5h-3.5zM508.1 1102.4h3.5v3.5h-3.5zM511 1105.4h3.5v3.5h-3.5zM514 1108.4h3.5v3.5h-3.5zM517 1111.5h3.5v3.5h-3.5zM561.7 1111.5h3.5v3.5h-3.5zM525.9 1117.5h3.5v3.5h-3.5zM531.9 1129.6h3.5v3.5h-3.5zM525.9 1162.7h3.5v3.5h-3.5zM517 1171.8h3.5v3.5h-3.5zM514 1174.8h3.5v3.5h-3.5zM564.7 1174.8h3.5v3.5h-3.5zM567.7 1177.8h3.5v3.5h-3.5zM511 1180.8h3.5v3.5h-3.5zM508.1 1183.9h3.5v3.5h-3.5zM570.6 1183.9h3.5v3.5h-3.5zM508.1 1186.9h3.5v3.5h-3.5zM573.6 1186.9h3.5v3.5h-3.5zM505.1 1189.9h3.5v3.5h-3.5zM573.6 1189.9h3.5v3.5h-3.5z"/><path fill="#6cfc8c" d="M511 969.7h3.5v3.5h-3.5zM567.7 969.7h3.5v3.5h-3.5zM511 972.7h3.5v3.5h-3.5zM567.7 972.7h3.5v3.5h-3.5zM514 975.7h3.5v3.5h-3.5zM564.7 978.7h3.5v3.5h-3.5zM517 981.8h3.5v3.5h-3.5zM549.8 993.8h3.5v3.5h-3.5zM531.9 1002.9h3.5v3.5h-3.5zM555.7 1039.1h3.5v3.5h-3.5zM520 1042.1h3.5v3.5h-3.5zM511 1051.1h3.5v3.5h-3.5zM508.1 1054.2h3.5v3.5h-3.5zM570.6 1054.2h3.5v3.5h-3.5zM505.1 1057.2h3.5v3.5h-3.5zM573.6 1057.2h3.5v3.5h-3.5zM576.6 1060.2h3.5v3.5h-3.5zM502.1 1063.2h3.5v3.5h-3.5zM576.6 1063.2h3.5v3.5h-3.5zM499.1 1066.2h6.5v3.5h-6.5zM579.6 1066.2h3.5v3.5h-3.5zM499.1 1069.2h3.5v3.5h-3.5zM579.6 1069.2h3.5v3.5h-3.5zM499.1 1072.3h3.5v3.5h-3.5zM579.6 1072.3h3.5v3.5h-3.5zM499.1 1075.3h3.5v3.5h-3.5zM579.6 1075.3h3.5v3.5h-3.5zM499.1 1078.3h3.5v3.5h-3.5zM579.6 1078.3h3.5v3.5h-3.5zM499.1 1081.3h3.5v3.5h-3.5zM579.6 1081.3h3.5v3.5h-3.5zM499.1 1084.3h3.5v3.5h-3.5zM579.6 1084.3h3.5v3.5h-3.5zM499.1 1087.3h3.5v3.5h-3.5zM579.6 1087.3h3.5v3.5h-3.5zM502.1 1090.3h3.5v3.5h-3.5zM576.6 1090.3h3.5v3.5h-3.5zM502.1 1093.4h3.5v3.5h-3.5zM576.6 1093.4h3.5v3.5h-3.5zM505.1 1096.4h3.5v3.5h-3.5zM573.6 1096.4h3.5v3.5h-3.5zM573.6 1099.4h3.5v3.5h-3.5zM570.6 1102.4h3.5v3.5h-3.5zM567.7 1105.4h3.5v3.5h-3.5zM564.7 1108.4h3.5v3.5h-3.5zM552.8 1117.5h3.5v3.5h-3.5zM537.9 1135.6h6.5v3.5h-6.5zM537.9 1144.6h3.5v3.5h-3.5zM552.8 1162.7h3.5v3.5h-3.5zM523 1165.8h3.5v3.5h-3.5zM520 1168.8h3.5v3.5h-3.5zM561.7 1171.8h3.5v3.5h-3.5zM514 1177.8h3.5v3.5h-3.5zM567.7 1180.8h3.5v3.5h-3.5zM511 1183.9h3.5v3.5h-3.5zM567.7 1183.9h3.5v3.5h-3.5zM511 1186.9h3.5v3.5h-3.5zM570.6 1186.9h3.5v3.5h-3.5zM508.1 1189.9h3.5v3.5h-3.5zM570.6 1189.9h3.5v3.5h-3.5z"/><path fill="#64fc94" d="M514 969.7h3.5v3.5h-3.5zM514 972.7h3.5v3.5h-3.5zM564.7 972.7h3.5v3.5h-3.5zM564.7 975.7h3.5v3.5h-3.5zM517 978.7h3.5v3.5h-3.5zM561.7 981.8h3.5v3.5h-3.5zM520 984.8h3.5v3.5h-3.5zM523 987.8h3.5v3.5h-3.5zM525.9 990.8h3.5v3.5h-3.5zM543.8 1021h3.5v3.5h-3.5zM558.7 1042.1h3.5v3.5h-3.5zM517 1045.1h3.5v3.5h-3.5zM561.7 1045.1h3.5v3.5h-3.5zM514 1048.1h3.5v3.5h-3.5zM564.7 1048.1h3.5v3.5h-3.5zM567.7 1051.1h3.5v3.5h-3.5zM508.1 1057.2h3.5v3.5h-3.5zM570.6 1057.2h3.5v3.5h-3.5zM505.1 1060.2h3.5v3.5h-3.5zM573.6 1060.2h3.5v3.5h-3.5zM505.1 1063.2h3.5v3.5h-3.5zM573.6 1063.2h3.5v3.5h-3.5zM576.6 1066.2h3.5v3.5h-3.5zM502.1 1069.2h3.5v3.5h-3.5zM576.6 1069.2h3.5v3.5h-3.5zM502.1 1072.3h3.5v3.5h-3.5zM576.6 1072.3h3.5v3.5h-3.5zM502.1 1075.3h3.5v3.5h-3.5zM576.6 1075.3h3.5v3.5h-3.5zM502.1 1078.3h3.5v3.5h-3.5zM576.6 1078.3h3.5v3.5h-3.5zM502.1 1081.3h3.5v3.5h-3.5zM576.6 1081.3h3.5v3.5h-3.5zM502.1 1084.3h3.5v3.5h-3.5zM576.6 1084.3h3.5v3.5h-3.5zM502.1 1087.3h3.5v3.5h-3.5zM576.6 1087.3h3.5v3.5h-3.5zM505.1 1090.3h3.5v3.5h-3.5zM505.1 1093.4h3.5v3.5h-3.5zM573.6 1093.4h3.5v3.5h-3.5zM508.1 1096.4h3.5v3.5h-3.5zM570.6 1099.4h3.5v3.5h-3.5zM511 1102.4h3.5v3.5h-3.5zM567.7 1102.4h3.5v3.5h-3.5zM514 1105.4h3.5v3.5h-3.5zM517 1108.4h3.5v3.5h-3.5zM523 1114.5h3.5v3.5h-3.5zM546.8 1129.6h3.5v3.5h-3.5zM534.9 1132.6h3.5v3.5h-3.5zM540.8 1144.6h3.5v3.5h-3.5zM546.8 1150.7h3.5v3.5h-3.5zM555.7 1165.8h3.5v3.5h-3.5zM558.7 1168.8h3.5v3.5h-3.5zM517 1174.8h3.5v3.5h-3.5zM514 1180.8h3.5v3.5h-3.5zM564.7 1180.8h3.5v3.5h-3.5zM514 1183.9h3.5v3.5h-3.5zM567.7 1186.9h3.5v3.5h-3.5zM511 1189.9h3.5v3.5h-3.5zM567.7 1189.9h3.5v3.5h-3.5z"/><path fill="#54fca4" d="M517 969.7h3.5v3.5h-3.5zM561.7 969.7h3.5v3.5h-3.5zM517 972.7h3.5v3.5h-3.5zM561.7 972.7h3.5v3.5h-3.5zM561.7 975.7h3.5v3.5h-3.5zM520 981.8h3.5v3.5h-3.5zM558.7 981.8h3.5v3.5h-3.5zM552.8 990.8h3.5v3.5h-3.5zM546.8 1002.9h3.5v3.5h-3.5zM537.9 1021h3.5v3.5h-3.5zM517 1048.1h3.5v3.5h-3.5zM561.7 1048.1h3.5v3.5h-3.5zM564.7 1051.1h3.5v3.5h-3.5zM514 1054.2h3.5v3.5h-3.5zM567.7 1057.2h3.5v3.5h-3.5zM511 1060.2h3.5v3.5h-3.5zM567.7 1060.2h3.5v3.5h-3.5zM570.6 1063.2h3.5v3.5h-3.5zM508.1 1066.2h3.5v3.5h-3.5zM570.6 1066.2h3.5v3.5h-3.5zM508.1 1069.2h3.5v3.5h-3.5zM570.6 1069.2h3.5v3.5h-3.5zM508.1 1072.3h3.5v3.5h-3.5zM570.6 1072.3h3.5v3.5h-3.5zM508.1 1075.3h3.5v3.5h-3.5zM570.6 1075.3h3.5v3.5h-3.5zM508.1 1078.3h3.5v3.5h-3.5zM570.6 1078.3h3.5v3.5h-3.5zM508.1 1081.3h3.5v3.5h-3.5zM570.6 1081.3h3.5v3.5h-3.5zM508.1 1084.3h3.5v3.5h-3.5zM570.6 1084.3h3.5v3.5h-3.5zM508.1 1087.3h3.5v3.5h-3.5zM570.6 1087.3h3.5v3.5h-3.5zM570.6 1090.3h3.5v3.5h-3.5zM511 1093.4h3.5v3.5h-3.5zM511 1096.4h3.5v3.5h-3.5zM567.7 1096.4h3.5v3.5h-3.5zM514 1102.4h3.5v3.5h-3.5zM564.7 1102.4h3.5v3.5h-3.5zM517 1105.4h3.5v3.5h-3.5zM531.9 1120.5h3.5v3.5h-3.5zM531.9 1126.5h3.5v3.5h-3.5zM543.8 1132.6h3.5v3.5h-3.5zM543.8 1147.7h3.5v3.5h-3.5zM531.9 1153.7h3.5v3.5h-3.5zM558.7 1171.8h3.5v3.5h-3.5zM517 1180.8h3.5v3.5h-3.5zM561.7 1180.8h3.5v3.5h-3.5zM517 1183.9h3.5v3.5h-3.5zM561.7 1183.9h3.5v3.5h-3.5zM517 1186.9h3.5v3.5h-3.5zM561.7 1186.9h3.5v3.5h-3.5zM517 1189.9h3.5v3.5h-3.5zM561.7 1189.9h3.5v3.5h-3.5z"/><path fill="#4cfcac" d="M520 969.7h3.5v3.5h-3.5zM520 975.7h3.5v3.5h-3.5zM520 978.7h3.5v3.5h-3.5zM523 984.8h3.5v3.5h-3.5zM531.9 996.8h3.5v3.5h-3.5zM531.9 999.9h3.5v3.5h-3.5zM534.9 1005.9h3.5v3.5h-3.5zM540.8 1021h3.5v3.5h-3.5zM549.8 1036.1h3.5v3.5h-3.5zM525.9 1039.1h3.5v3.5h-3.5zM523 1042.1h3.5v3.5h-3.5zM520 1045.1h3.5v3.5h-3.5zM558.7 1045.1h3.5v3.5h-3.5zM517 1051.1h3.5v3.5h-3.5zM564.7 1054.2h3.5v3.5h-3.5zM514 1057.2h3.5v3.5h-3.5zM511 1063.2h3.5v3.5h-3.5zM567.7 1063.2h3.5v3.5h-3.5zM511 1066.2h3.5v3.5h-3.5zM567.7 1066.2h3.5v3.5h-3.5zM511 1069.2h3.5v3.5h-3.5zM567.7 1069.2h3.5v3.5h-3.5zM511 1072.3h3.5v3.5h-3.5zM567.7 1072.3h3.5v3.5h-3.5zM511 1075.3h3.5v3.5h-3.5zM511 1078.3h3.5v3.5h-3.5zM511 1081.3h3.5v3.5h-3.5zM511 1084.3h3.5v3.5h-3.5zM567.7 1084.3h3.5v3.5h-3.5zM511 1087.3h3.5v3.5h-3.5zM567.7 1087.3h3.5v3.5h-3.5zM511 1090.3h3.5v3.5h-3.5zM567.7 1090.3h3.5v3.5h-3.5zM567.7 1093.4h3.5v3.5h-3.5zM514 1096.4h3.5v3.5h-3.5zM514 1099.4h3.5v3.5h-3.5zM564.7 1099.4h3.5v3.5h-3.5zM561.7 1105.4h3.5v3.5h-3.5zM520 1108.4h3.5v3.5h-3.5zM523 1168.8h3.5v3.5h-3.5zM520 1174.8h3.5v3.5h-3.5zM558.7 1174.8h3.5v3.5h-3.5zM520 1177.8h3.5v3.5h-3.5zM520 1180.8h3.5v3.5h-3.5zM520 1183.9h3.5v3.5h-3.5zM520 1186.9h3.5v3.5h-3.5zM520 1189.9h3.5v3.5h-3.5zM558.7 1189.9h3.5v3.5h-3.5z"/><path fill="#3cfcbc" d="M523 969.7h3.5v3.5h-3.5zM555.7 969.7h3.5v3.5h-3.5zM523 972.7h3.5v3.5h-3.5zM523 981.8h3.5v3.5h-3.5zM525.9 987.8h3.5v3.5h-3.5zM552.8 1039.1h3.5v3.5h-3.5zM520 1048.1h3.5v3.5h-3.5zM558.7 1048.1h3.5v3.5h-3.5zM561.7 1054.2h3.5v3.5h-3.5zM517 1057.2h3.5v3.5h-3.5zM561.7 1057.2h3.5v3.5h-3.5zM517 1060.2h3.5v3.5h-3.5zM517 1063.2h3.5v3.5h-3.5zM517 1066.2h3.5v3.5h-3.5zM564.7 1069.2h3.5v3.5h-3.5zM564.7 1072.3h3.5v3.5h-3.5zM564.7 1075.3h3.5v3.5h-3.5zM564.7 1078.3h3.5v3.5h-3.5zM564.7 1081.3h3.5v3.5h-3.5zM564.7 1084.3h3.5v3.5h-3.5zM517 1087.3h3.5v3.5h-3.5zM517 1090.3h3.5v3.5h-3.5zM517 1093.4h3.5v3.5h-3.5zM517 1096.4h3.5v3.5h-3.5zM561.7 1096.4h3.5v3.5h-3.5zM561.7 1099.4h3.5v3.5h-3.5zM520 1105.4h3.5v3.5h-3.5zM555.7 1111.5h3.5v3.5h-3.5zM525.9 1114.5h3.5v3.5h-3.5zM531.9 1123.5h3.5v3.5h-3.5zM540.8 1132.6h3.5v3.5h-3.5zM537.9 1147.7h6.5v3.5h-6.5zM546.8 1153.7h3.5v3.5h-3.5zM546.8 1159.7h3.5v3.5h-3.5zM552.8 1165.8h3.5v3.5h-3.5zM523 1171.8h3.5v3.5h-3.5zM523 1183.9h3.5v3.5h-3.5zM523 1186.9h3.5v3.5h-3.5zM555.7 1186.9h3.5v3.5h-3.5zM525.9 1189.9h3.5v3.5h-3.5z"/><path fill="#2cfccc" d="M525.9 969.7h3.5v3.5h-3.5zM552.8 969.7h3.5v3.5h-3.5zM552.8 987.8h3.5v3.5h-3.5zM528.9 990.8h3.5v3.5h-3.5zM546.8 999.9h3.5v3.5h-3.5zM537.9 1005.9h3.5v3.5h-3.5zM555.7 1045.1h3.5v3.5h-3.5zM558.7 1054.2h3.5v3.5h-3.5zM520 1057.2h3.5v3.5h-3.5zM558.7 1057.2h3.5v3.5h-3.5zM520 1060.2h3.5v3.5h-3.5zM558.7 1060.2h3.5v3.5h-3.5zM520 1063.2h3.5v3.5h-3.5zM558.7 1063.2h3.5v3.5h-3.5zM520 1066.2h3.5v3.5h-3.5zM558.7 1066.2h3.5v3.5h-3.5zM520 1069.2h3.5v3.5h-3.5zM558.7 1069.2h3.5v3.5h-3.5zM520 1072.3h3.5v3.5h-3.5zM558.7 1072.3h3.5v3.5h-3.5zM520 1075.3h3.5v3.5h-3.5zM558.7 1075.3h3.5v3.5h-3.5zM520 1078.3h3.5v3.5h-3.5zM558.7 1078.3h3.5v3.5h-3.5zM520 1081.3h3.5v3.5h-3.5zM558.7 1081.3h3.5v3.5h-3.5zM520 1084.3h3.5v3.5h-3.5zM558.7 1084.3h3.5v3.5h-3.5zM520 1087.3h3.5v3.5h-3.5zM558.7 1087.3h3.5v3.5h-3.5zM520 1090.3h3.5v3.5h-3.5zM558.7 1090.3h3.5v3.5h-3.5zM520 1093.4h3.5v3.5h-3.5zM558.7 1093.4h3.5v3.5h-3.5zM520 1096.4h3.5v3.5h-3.5zM558.7 1096.4h3.5v3.5h-3.5zM520 1099.4h3.5v3.5h-3.5zM558.7 1099.4h3.5v3.5h-3.5zM558.7 1102.4h3.5v3.5h-3.5zM523 1108.4h3.5v3.5h-3.5zM552.8 1114.5h3.5v3.5h-3.5zM534.9 1129.6h3.5v3.5h-3.5zM534.9 1150.7h3.5v3.5h-3.5zM525.9 1168.8h3.5v3.5h-3.5zM525.9 1183.9h3.5v3.5h-3.5zM552.8 1183.9h3.5v3.5h-3.5zM528.9 1186.9h3.5v3.5h-3.5zM531.9 1189.9h3.5v3.5h-3.5zM546.8 1189.9h6.5v3.5h-6.5z"/><path fill="#24fcd4" d="M528.9 969.7h3.5v3.5h-3.5zM525.9 972.7h3.5v3.5h-3.5zM552.8 972.7h3.5v3.5h-3.5zM525.9 975.7h3.5v3.5h-3.5zM525.9 984.8h3.5v3.5h-3.5zM546.8 993.8h3.5v3.5h-3.5zM546.8 996.8h3.5v3.5h-3.5zM540.8 1005.9h3.5v3.5h-3.5zM546.8 1030h3.5v3.5h-3.5zM546.8 1033h3.5v3.5h-3.5zM525.9 1042.1h3.5v3.5h-3.5zM523 1048.1h3.5v3.5h-3.5zM523 1063.2h3.5v3.5h-3.5zM523 1066.2h3.5v3.5h-3.5zM555.7 1066.2h3.5v3.5h-3.5zM523 1069.2h3.5v3.5h-3.5zM555.7 1069.2h3.5v3.5h-3.5zM523 1072.3h3.5v3.5h-3.5zM555.7 1072.3h3.5v3.5h-3.5zM523 1075.3h3.5v3.5h-3.5zM555.7 1075.3h3.5v3.5h-3.5zM523 1078.3h3.5v3.5h-3.5zM555.7 1078.3h3.5v3.5h-3.5zM523 1081.3h3.5v3.5h-3.5zM555.7 1081.3h3.5v3.5h-3.5zM523 1084.3h3.5v3.5h-3.5zM555.7 1084.3h3.5v3.5h-3.5zM523 1087.3h3.5v3.5h-3.5zM555.7 1087.3h3.5v3.5h-3.5zM523 1090.3h3.5v3.5h-3.5zM523 1105.4h3.5v3.5h-3.5zM555.7 1108.4h3.5v3.5h-3.5zM546.8 1156.7h3.5v3.5h-3.5zM525.9 1180.8h3.5v3.5h-3.5zM552.8 1180.8h3.5v3.5h-3.5zM549.8 1186.9h3.5v3.5h-3.5zM534.9 1189.9h12.4v3.5h-12.4z"/><path fill="#14fce4" d="M531.9 969.7h3.5v3.5h-3.5zM546.8 969.7h3.5v3.5h-3.5zM528.9 972.7h3.5v3.5h-3.5zM549.8 972.7h3.5v3.5h-3.5zM552.8 978.7h3.5v3.5h-3.5zM552.8 981.8h3.5v3.5h-3.5zM534.9 1002.9h3.5v3.5h-3.5zM540.8 1024h3.5v3.5h-3.5zM528.9 1039.1h3.5v3.5h-3.5zM525.9 1060.2h3.5v3.5h-3.5zM525.9 1063.2h3.5v3.5h-3.5zM552.8 1063.2h3.5v3.5h-3.5zM528.9 1066.2h3.5v3.5h-3.5zM552.8 1066.2h3.5v3.5h-3.5zM528.9 1069.2h3.5v3.5h-3.5zM549.8 1069.2h3.5v3.5h-3.5zM528.9 1072.3h6.5v3.5h-6.5zM546.8 1072.3h6.5v3.5h-6.5zM531.9 1075.3h3.5v3.5h-3.5zM546.8 1075.3h6.5v3.5h-6.5zM531.9 1078.3h6.5v3.5h-6.5zM546.8 1078.3h6.5v3.5h-6.5zM531.9 1081.3h3.5v3.5h-3.5zM546.8 1081.3h6.5v3.5h-6.5zM528.9 1084.3h3.5v3.5h-3.5zM549.8 1084.3h3.5v3.5h-3.5zM528.9 1087.3h3.5v3.5h-3.5zM549.8 1087.3h3.5v3.5h-3.5zM525.9 1090.3h3.5v3.5h-3.5zM552.8 1090.3h3.5v3.5h-3.5zM525.9 1093.4h3.5v3.5h-3.5zM552.8 1093.4h3.5v3.5h-3.5zM552.8 1171.8h3.5v3.5h-3.5zM552.8 1174.8h3.5v3.5h-3.5zM528.9 1180.8h3.5v3.5h-3.5zM531.9 1183.9h3.5v3.5h-3.5zM546.8 1183.9h3.5v3.5h-3.5zM537.9 1186.9h9.4v3.5h-9.4z"/><path fill="#0cf4ec" d="M534.9 969.7h12.4v3.5h-12.4zM531.9 972.7h3.5v3.5h-3.5zM528.9 975.7h3.5v3.5h-3.5zM546.8 1036.1h3.5v3.5h-3.5zM525.9 1045.1h3.5v3.5h-3.5zM525.9 1054.2h3.5v3.5h-3.5zM525.9 1057.2h3.5v3.5h-3.5zM552.8 1057.2h3.5v3.5h-3.5zM552.8 1060.2h3.5v3.5h-3.5zM528.9 1063.2h3.5v3.5h-3.5zM549.8 1063.2h3.5v3.5h-3.5zM531.9 1066.2h3.5v3.5h-3.5zM549.8 1066.2h3.5v3.5h-3.5zM531.9 1069.2h6.5v3.5h-6.5zM543.8 1069.2h6.5v3.5h-6.5zM534.9 1072.3h12.4v3.5h-12.4zM537.9 1075.3h6.5v3.5h-6.5zM537.9 1078.3h6.5v3.5h-6.5zM534.9 1081.3h12.4v3.5h-12.4zM534.9 1084.3h15.4v3.5h-15.4zM531.9 1087.3h3.5v3.5h-3.5zM546.8 1087.3h3.5v3.5h-3.5zM528.9 1090.3h3.5v3.5h-3.5zM549.8 1090.3h3.5v3.5h-3.5zM525.9 1096.4h3.5v3.5h-3.5zM552.8 1096.4h3.5v3.5h-3.5zM525.9 1099.4h3.5v3.5h-3.5zM525.9 1108.4h3.5v3.5h-3.5zM528.9 1165.8h3.5v3.5h-3.5zM534.9 1183.9h3.5v3.5h-3.5z"/><path fill="#1cfcdc" d="M549.8 969.7h3.5v3.5h-3.5zM552.8 975.7h3.5v3.5h-3.5zM525.9 978.7h3.5v3.5h-3.5zM525.9 981.8h3.5v3.5h-3.5zM552.8 984.8h3.5v3.5h-3.5zM549.8 990.8h3.5v3.5h-3.5zM537.9 1024h3.5v3.5h-3.5zM531.9 1036.1h3.5v3.5h-3.5zM555.7 1048.1h3.5v3.5h-3.5zM523 1051.1h3.5v3.5h-3.5zM555.7 1051.1h3.5v3.5h-3.5zM523 1054.2h3.5v3.5h-3.5zM555.7 1054.2h3.5v3.5h-3.5zM523 1057.2h3.5v3.5h-3.5zM555.7 1057.2h3.5v3.5h-3.5zM523 1060.2h3.5v3.5h-3.5zM555.7 1060.2h3.5v3.5h-3.5zM555.7 1063.2h3.5v3.5h-3.5zM525.9 1066.2h3.5v3.5h-3.5zM525.9 1069.2h3.5v3.5h-3.5zM552.8 1069.2h3.5v3.5h-3.5zM525.9 1072.3h3.5v3.5h-3.5zM552.8 1072.3h3.5v3.5h-3.5zM525.9 1075.3h6.5v3.5h-6.5zM552.8 1075.3h3.5v3.5h-3.5zM525.9 1078.3h6.5v3.5h-6.5zM552.8 1078.3h3.5v3.5h-3.5zM525.9 1081.3h6.5v3.5h-6.5zM552.8 1081.3h3.5v3.5h-3.5zM525.9 1084.3h3.5v3.5h-3.5zM552.8 1084.3h3.5v3.5h-3.5zM525.9 1087.3h3.5v3.5h-3.5zM552.8 1087.3h3.5v3.5h-3.5zM555.7 1090.3h3.5v3.5h-3.5zM555.7 1093.4h3.5v3.5h-3.5zM523 1096.4h3.5v3.5h-3.5zM555.7 1096.4h3.5v3.5h-3.5zM523 1099.4h3.5v3.5h-3.5zM555.7 1099.4h3.5v3.5h-3.5zM523 1102.4h3.5v3.5h-3.5zM555.7 1102.4h3.5v3.5h-3.5zM555.7 1105.4h3.5v3.5h-3.5zM525.9 1111.5h3.5v3.5h-3.5zM546.8 1123.5h3.5v3.5h-3.5zM543.8 1129.6h3.5v3.5h-3.5zM543.8 1150.7h3.5v3.5h-3.5zM552.8 1168.8h3.5v3.5h-3.5zM525.9 1171.8h3.5v3.5h-3.5zM525.9 1174.8h3.5v3.5h-3.5zM525.9 1177.8h3.5v3.5h-3.5zM552.8 1177.8h3.5v3.5h-3.5zM528.9 1183.9h3.5v3.5h-3.5zM549.8 1183.9h3.5v3.5h-3.5zM531.9 1186.9h6.5v3.5h-6.5zM546.8 1186.9h3.5v3.5h-3.5z"/><path fill="#44fcb4" d="M558.7 969.7h3.5v3.5h-3.5zM558.7 972.7h3.5v3.5h-3.5zM558.7 975.7h3.5v3.5h-3.5zM555.7 984.8h3.5v3.5h-3.5zM543.8 1005.9h3.5v3.5h-3.5zM534.9 1024h3.5v3.5h-3.5zM546.8 1027h3.5v3.5h-3.5zM531.9 1030h3.5v3.5h-3.5zM531.9 1033h3.5v3.5h-3.5zM555.7 1042.1h3.5v3.5h-3.5zM561.7 1051.1h3.5v3.5h-3.5zM517 1054.2h3.5v3.5h-3.5zM514 1060.2h3.5v3.5h-3.5zM564.7 1060.2h3.5v3.5h-3.5zM514 1063.2h3.5v3.5h-3.5zM564.7 1063.2h3.5v3.5h-3.5zM514 1066.2h3.5v3.5h-3.5zM564.7 1066.2h3.5v3.5h-3.5zM514 1069.2h3.5v3.5h-3.5zM514 1072.3h3.5v3.5h-3.5zM514 1075.3h3.5v3.5h-3.5zM567.7 1075.3h3.5v3.5h-3.5zM514 1078.3h3.5v3.5h-3.5zM567.7 1078.3h3.5v3.5h-3.5zM514 1081.3h3.5v3.5h-3.5zM514 1084.3h3.5v3.5h-3.5zM514 1087.3h3.5v3.5h-3.5zM514 1090.3h3.5v3.5h-3.5zM564.7 1090.3h3.5v3.5h-3.5zM514 1093.4h3.5v3.5h-3.5zM564.7 1093.4h3.5v3.5h-3.5zM564.7 1096.4h3.5v3.5h-3.5zM517 1102.4h3.5v3.5h-3.5zM561.7 1102.4h3.5v3.5h-3.5zM558.7 1108.4h3.5v3.5h-3.5zM523 1111.5h3.5v3.5h-3.5zM537.9 1132.6h3.5v3.5h-3.5zM531.9 1156.7h3.5v3.5h-3.5zM528.9 1162.7h3.5v3.5h-3.5zM525.9 1165.8h3.5v3.5h-3.5zM555.7 1168.8h3.5v3.5h-3.5zM558.7 1177.8h3.5v3.5h-3.5zM558.7 1180.8h3.5v3.5h-3.5zM558.7 1183.9h3.5v3.5h-3.5zM558.7 1186.9h3.5v3.5h-3.5zM523 1189.9h3.5v3.5h-3.5zM555.7 1189.9h3.5v3.5h-3.5z"/><path fill="#5cfc9c" d="M564.7 969.7h3.5v3.5h-3.5zM517 975.7h3.5v3.5h-3.5zM561.7 978.7h3.5v3.5h-3.5zM555.7 987.8h3.5v3.5h-3.5zM537.9 1008.9h6.5v3.5h-6.5zM531.9 1027h3.5v3.5h-3.5zM528.9 1036.1h3.5v3.5h-3.5zM514 1051.1h3.5v3.5h-3.5zM511 1054.2h3.5v3.5h-3.5zM567.7 1054.2h3.5v3.5h-3.5zM511 1057.2h3.5v3.5h-3.5zM508.1 1060.2h3.5v3.5h-3.5zM570.6 1060.2h3.5v3.5h-3.5zM508.1 1063.2h3.5v3.5h-3.5zM505.1 1066.2h3.5v3.5h-3.5zM573.6 1066.2h3.5v3.5h-3.5zM505.1 1069.2h3.5v3.5h-3.5zM573.6 1069.2h3.5v3.5h-3.5zM505.1 1072.3h3.5v3.5h-3.5zM573.6 1072.3h3.5v3.5h-3.5zM505.1 1075.3h3.5v3.5h-3.5zM573.6 1075.3h3.5v3.5h-3.5zM505.1 1078.3h3.5v3.5h-3.5zM573.6 1078.3h3.5v3.5h-3.5zM505.1 1081.3h3.5v3.5h-3.5zM573.6 1081.3h3.5v3.5h-3.5zM505.1 1084.3h3.5v3.5h-3.5zM573.6 1084.3h3.5v3.5h-3.5zM505.1 1087.3h3.5v3.5h-3.5zM573.6 1087.3h3.5v3.5h-3.5zM508.1 1090.3h3.5v3.5h-3.5zM573.6 1090.3h3.5v3.5h-3.5zM508.1 1093.4h3.5v3.5h-3.5zM570.6 1093.4h3.5v3.5h-3.5zM570.6 1096.4h3.5v3.5h-3.5zM511 1099.4h3.5v3.5h-3.5zM567.7 1099.4h3.5v3.5h-3.5zM564.7 1105.4h3.5v3.5h-3.5zM561.7 1108.4h3.5v3.5h-3.5zM520 1111.5h3.5v3.5h-3.5zM558.7 1111.5h3.5v3.5h-3.5zM555.7 1114.5h3.5v3.5h-3.5zM534.9 1147.7h3.5v3.5h-3.5zM520 1171.8h3.5v3.5h-3.5zM561.7 1174.8h3.5v3.5h-3.5zM517 1177.8h3.5v3.5h-3.5zM564.7 1183.9h3.5v3.5h-3.5zM564.7 1186.9h3.5v3.5h-3.5zM514 1189.9h3.5v3.5h-3.5zM564.7 1189.9h3.5v3.5h-3.5z"/><path fill="#9cfc5c" d="M475.3 972.7h6.5v3.5h-6.5zM600.4 972.7h3.5v3.5h-3.5zM475.3 975.7h18.4v3.5h-18.4zM588.5 975.7h15.4v3.5h-15.4zM475.3 978.7h24.3v3.5h-24.3zM582.5 978.7h21.4v3.5h-21.4zM496.2 981.8h9.4v3.5h-9.4zM576.6 981.8h9.4v3.5h-9.4zM508.1 984.8h3.5v3.5h-3.5zM570.6 984.8h3.5v3.5h-3.5zM514 987.8h3.5v3.5h-3.5zM564.7 987.8h3.5v3.5h-3.5zM520 990.8h3.5v3.5h-3.5zM558.7 990.8h3.5v3.5h-3.5zM552.8 993.8h3.5v3.5h-3.5zM546.8 1008.9h3.5v3.5h-3.5zM534.9 1014.9h3.5v3.5h-3.5zM549.8 1030h3.5v3.5h-3.5zM517 1039.1h3.5v3.5h-3.5zM561.7 1039.1h3.5v3.5h-3.5zM508.1 1042.1h3.5v3.5h-3.5zM570.6 1042.1h3.5v3.5h-3.5zM490.2 1045.1h15.4v3.5h-15.4zM576.6 1045.1h15.4v3.5h-15.4zM475.3 1048.1h21.4v3.5h-21.4zM585.5 1048.1h18.4v3.5h-18.4zM475.3 1051.1h12.4v3.5h-12.4zM594.5 1051.1h9.4v3.5h-9.4zM475.3 1054.2h6.5v3.5h-6.5zM600.4 1054.2h3.5v3.5h-3.5zM475.3 1099.4h3.5v3.5h-3.5zM475.3 1102.4h9.4v3.5h-9.4zM597.4 1102.4h6.5v3.5h-6.5zM475.3 1105.4h18.4v3.5h-18.4zM588.5 1105.4h15.4v3.5h-15.4zM475.3 1108.4h27.3v3.5h-27.3zM579.6 1108.4h24.3v3.5h-24.3zM502.1 1111.5h9.4v3.5h-9.4zM573.6 1111.5h6.5v3.5h-6.5zM514 1114.5h3.5v3.5h-3.5zM564.7 1114.5h3.5v3.5h-3.5zM549.8 1120.5h3.5v3.5h-3.5zM549.8 1123.5h3.5v3.5h-3.5zM531.9 1132.6h3.5v3.5h-3.5zM531.9 1147.7h3.5v3.5h-3.5zM528.9 1159.7h3.5v3.5h-3.5zM523 1162.7h3.5v3.5h-3.5zM517 1165.8h3.5v3.5h-3.5zM561.7 1165.8h3.5v3.5h-3.5zM511 1168.8h3.5v3.5h-3.5zM567.7 1168.8h6.5v3.5h-6.5zM502.1 1171.8h6.5v3.5h-6.5zM573.6 1171.8h9.4v3.5h-9.4zM475.3 1174.8h27.3v3.5h-27.3zM579.6 1174.8h24.3v3.5h-24.3zM475.3 1177.8h21.4v3.5h-21.4zM588.5 1177.8h15.4v3.5h-15.4zM475.3 1180.8h12.4v3.5h-12.4zM597.4 1180.8h6.5v3.5h-6.5z"/><path fill="#94fc5c" d="M481.3 972.7h3.5v3.5h-3.5zM511 1042.1h3.5v3.5h-3.5zM484.2 1102.4h3.5v3.5h-3.5zM585.5 1177.8h3.5v3.5h-3.5zM594.5 1180.8h3.5v3.5h-3.5z"/><path fill="#44fcac" d="M520 972.7h3.5v3.5h-3.5zM558.7 978.7h3.5v3.5h-3.5zM564.7 1057.2h3.5v3.5h-3.5zM567.7 1081.3h3.5v3.5h-3.5z"/><path fill="#04e4fc" d="M534.9 972.7h3.5v3.5h-3.5zM543.8 972.7h3.5v3.5h-3.5zM552.8 1048.1h3.5v3.5h-3.5zM528.9 1057.2h3.5v3.5h-3.5zM534.9 1063.2h3.5v3.5h-3.5zM534.9 1090.3h12.4v3.5h-12.4zM531.9 1093.4h3.5v3.5h-3.5zM549.8 1096.4h3.5v3.5h-3.5zM552.8 1105.4h3.5v3.5h-3.5zM540.8 1129.6h3.5v3.5h-3.5zM549.8 1165.8h3.5v3.5h-3.5zM528.9 1174.8h3.5v3.5h-3.5z"/><path fill="#04dcfc" d="M537.9 972.7h6.5v3.5h-6.5zM531.9 975.7h3.5v3.5h-3.5zM549.8 978.7h3.5v3.5h-3.5zM528.9 981.8h3.5v3.5h-3.5zM528.9 984.8h3.5v3.5h-3.5zM549.8 987.8h3.5v3.5h-3.5zM549.8 1057.2h3.5v3.5h-3.5zM531.9 1060.2h3.5v3.5h-3.5zM546.8 1060.2h3.5v3.5h-3.5zM537.9 1063.2h9.4v3.5h-9.4zM534.9 1093.4h3.5v3.5h-3.5zM546.8 1093.4h3.5v3.5h-3.5zM528.9 1099.4h3.5v3.5h-3.5zM549.8 1114.5h3.5v3.5h-3.5zM531.9 1117.5h3.5v3.5h-3.5zM537.9 1150.7h6.5v3.5h-6.5zM531.9 1162.7h3.5v3.5h-3.5zM528.9 1168.8h3.5v3.5h-3.5zM528.9 1171.8h3.5v3.5h-3.5zM549.8 1174.8h3.5v3.5h-3.5zM534.9 1180.8h3.5v3.5h-3.5z"/><path fill="#04ecf4" d="M546.8 972.7h3.5v3.5h-3.5zM549.8 975.7h3.5v3.5h-3.5zM528.9 987.8h3.5v3.5h-3.5zM543.8 1002.9h3.5v3.5h-3.5zM534.9 1027h3.5v3.5h-3.5zM549.8 1039.1h3.5v3.5h-3.5zM552.8 1045.1h3.5v3.5h-3.5zM525.9 1048.1h3.5v3.5h-3.5zM525.9 1051.1h3.5v3.5h-3.5zM552.8 1054.2h3.5v3.5h-3.5zM528.9 1060.2h3.5v3.5h-3.5zM549.8 1060.2h3.5v3.5h-3.5zM531.9 1063.2h3.5v3.5h-3.5zM534.9 1066.2h3.5v3.5h-3.5zM543.8 1066.2h3.5v3.5h-3.5zM540.8 1069.2h3.5v3.5h-3.5zM534.9 1087.3h12.4v3.5h-12.4zM531.9 1090.3h3.5v3.5h-3.5zM546.8 1090.3h3.5v3.5h-3.5zM528.9 1093.4h3.5v3.5h-3.5zM549.8 1093.4h3.5v3.5h-3.5zM552.8 1099.4h3.5v3.5h-3.5zM525.9 1102.4h3.5v3.5h-3.5zM525.9 1105.4h3.5v3.5h-3.5zM528.9 1114.5h3.5v3.5h-3.5zM549.8 1177.8h3.5v3.5h-3.5zM531.9 1180.8h3.5v3.5h-3.5zM537.9 1183.9h6.5v3.5h-6.5z"/><path fill="#34fcc4" d="M555.7 972.7h3.5v3.5h-3.5zM523 975.7h3.5v3.5h-3.5zM555.7 975.7h3.5v3.5h-3.5zM523 978.7h3.5v3.5h-3.5zM555.7 978.7h3.5v3.5h-3.5zM555.7 981.8h3.5v3.5h-3.5zM531.9 993.8h3.5v3.5h-3.5zM543.8 1024h3.5v3.5h-3.5zM523 1045.1h3.5v3.5h-3.5zM520 1051.1h3.5v3.5h-3.5zM558.7 1051.1h3.5v3.5h-3.5zM520 1054.2h3.5v3.5h-3.5zM561.7 1060.2h3.5v3.5h-3.5zM561.7 1063.2h3.5v3.5h-3.5zM561.7 1066.2h3.5v3.5h-3.5zM561.7 1069.2h3.5v3.5h-3.5zM561.7 1072.3h3.5v3.5h-3.5zM561.7 1075.3h3.5v3.5h-3.5zM561.7 1078.3h3.5v3.5h-3.5zM561.7 1081.3h3.5v3.5h-3.5zM561.7 1084.3h3.5v3.5h-3.5zM561.7 1087.3h3.5v3.5h-3.5zM561.7 1090.3h3.5v3.5h-3.5zM561.7 1093.4h3.5v3.5h-3.5zM520 1102.4h3.5v3.5h-3.5zM558.7 1105.4h3.5v3.5h-3.5zM549.8 1117.5h3.5v3.5h-3.5zM546.8 1120.5h3.5v3.5h-3.5zM546.8 1126.5h3.5v3.5h-3.5zM549.8 1162.7h3.5v3.5h-3.5zM555.7 1171.8h3.5v3.5h-3.5zM523 1174.8h3.5v3.5h-3.5zM555.7 1174.8h3.5v3.5h-3.5zM523 1177.8h3.5v3.5h-3.5zM555.7 1177.8h3.5v3.5h-3.5zM523 1180.8h3.5v3.5h-3.5zM555.7 1180.8h3.5v3.5h-3.5zM555.7 1183.9h3.5v3.5h-3.5zM525.9 1186.9h3.5v3.5h-3.5zM552.8 1186.9h3.5v3.5h-3.5zM528.9 1189.9h3.5v3.5h-3.5z"/><path fill="#84fc6c" d="M505.1 975.7h3.5v3.5h-3.5zM588.5 1060.2h3.5v3.5h-3.5zM484.2 1072.3h3.5v3.5h-3.5zM579.6 1102.4h3.5v3.5h-3.5z"/><path fill="#04ccfc" d="M534.9 975.7h3.5v3.5h-3.5zM549.8 984.8h3.5v3.5h-3.5zM528.9 1051.1h3.5v3.5h-3.5zM546.8 1057.2h3.5v3.5h-3.5zM537.9 1060.2h6.5v3.5h-6.5zM534.9 1096.4h3.5v3.5h-3.5zM549.8 1102.4h3.5v3.5h-3.5zM528.9 1111.5h3.5v3.5h-3.5zM534.9 1153.7h3.5v3.5h-3.5zM549.8 1168.8h3.5v3.5h-3.5zM549.8 1171.8h3.5v3.5h-3.5zM546.8 1177.8h3.5v3.5h-3.5z"/><path fill="#04bcfc" d="M537.9 975.7h6.5v3.5h-6.5zM546.8 978.7h3.5v3.5h-3.5zM534.9 993.8h3.5v3.5h-3.5zM537.9 1002.9h3.5v3.5h-3.5zM549.8 1048.1h3.5v3.5h-3.5zM546.8 1054.2h3.5v3.5h-3.5zM537.9 1057.2h6.5v3.5h-6.5zM549.8 1105.4h3.5v3.5h-3.5zM549.8 1111.5h3.5v3.5h-3.5zM531.9 1174.8h3.5v3.5h-3.5zM534.9 1177.8h3.5v3.5h-3.5zM543.8 1177.8h3.5v3.5h-3.5z"/><path fill="#04c4fc" d="M543.8 975.7h3.5v3.5h-3.5zM531.9 978.7h3.5v3.5h-3.5zM531.9 990.8h3.5v3.5h-3.5zM549.8 1042.1h3.5v3.5h-3.5zM528.9 1045.1h3.5v3.5h-3.5zM528.9 1048.1h3.5v3.5h-3.5zM549.8 1051.1h3.5v3.5h-3.5zM531.9 1054.2h3.5v3.5h-3.5zM534.9 1057.2h3.5v3.5h-3.5zM543.8 1057.2h3.5v3.5h-3.5zM537.9 1096.4h9.4v3.5h-9.4zM531.9 1099.4h3.5v3.5h-3.5zM546.8 1099.4h3.5v3.5h-3.5zM528.9 1105.4h3.5v3.5h-3.5zM528.9 1108.4h3.5v3.5h-3.5zM546.8 1117.5h3.5v3.5h-3.5zM546.8 1162.7h3.5v3.5h-3.5z"/><path fill="#04d4fc" d="M546.8 975.7h3.5v3.5h-3.5zM549.8 981.8h3.5v3.5h-3.5zM543.8 1027h3.5v3.5h-3.5zM528.9 1042.1h3.5v3.5h-3.5zM528.9 1054.2h3.5v3.5h-3.5zM549.8 1054.2h3.5v3.5h-3.5zM531.9 1057.2h3.5v3.5h-3.5zM534.9 1060.2h3.5v3.5h-3.5zM543.8 1060.2h3.5v3.5h-3.5zM537.9 1093.4h9.4v3.5h-9.4zM531.9 1096.4h3.5v3.5h-3.5zM546.8 1096.4h3.5v3.5h-3.5zM549.8 1099.4h3.5v3.5h-3.5zM528.9 1102.4h3.5v3.5h-3.5zM534.9 1126.5h3.5v3.5h-3.5zM531.9 1177.8h3.5v3.5h-3.5zM537.9 1180.8h9.4v3.5h-9.4z"/><path fill="#04e4f4" d="M528.9 978.7h3.5v3.5h-3.5zM552.8 1051.1h3.5v3.5h-3.5zM546.8 1063.2h3.5v3.5h-3.5zM537.9 1066.2h6.5v3.5h-6.5zM528.9 1096.4h3.5v3.5h-3.5zM552.8 1102.4h3.5v3.5h-3.5zM552.8 1108.4h3.5v3.5h-3.5zM537.9 1129.6h3.5v3.5h-3.5zM546.8 1180.8h3.5v3.5h-3.5z"/><path fill="#04acfc" d="M534.9 978.7h3.5v3.5h-3.5zM531.9 1039.1h3.5v3.5h-3.5zM531.9 1051.1h3.5v3.5h-3.5zM534.9 1054.2h3.5v3.5h-3.5zM543.8 1054.2h3.5v3.5h-3.5zM537.9 1099.4h6.5v3.5h-6.5zM546.8 1102.4h3.5v3.5h-3.5zM534.9 1159.7h3.5v3.5h-3.5zM531.9 1171.8h3.5v3.5h-3.5z"/><path fill="#049cfc" d="M537.9 978.7h6.5v3.5h-6.5zM531.9 984.8h3.5v3.5h-3.5zM531.9 987.8h3.5v3.5h-3.5zM543.8 999.9h3.5v3.5h-3.5zM540.8 1027h3.5v3.5h-3.5zM531.9 1048.1h3.5v3.5h-3.5zM534.9 1102.4h3.5v3.5h-3.5zM543.8 1102.4h3.5v3.5h-3.5zM546.8 1105.4h3.5v3.5h-3.5zM531.9 1114.5h3.5v3.5h-3.5zM534.9 1120.5h3.5v3.5h-3.5zM531.9 1168.8h3.5v3.5h-3.5zM546.8 1171.8h3.5v3.5h-3.5zM534.9 1174.8h3.5v3.5h-3.5zM543.8 1174.8h3.5v3.5h-3.5z"/><path fill="#04a4fc" d="M543.8 978.7h3.5v3.5h-3.5zM546.8 981.8h3.5v3.5h-3.5zM546.8 990.8h3.5v3.5h-3.5zM543.8 993.8h3.5v3.5h-3.5zM537.9 1027h3.5v3.5h-3.5zM534.9 1030h3.5v3.5h-3.5zM534.9 1036.1h3.5v3.5h-3.5zM546.8 1051.1h3.5v3.5h-3.5zM537.9 1054.2h6.5v3.5h-6.5zM531.9 1105.4h3.5v3.5h-3.5zM531.9 1165.8h3.5v3.5h-3.5z"/><path fill="#9cfc54" d="M475.3 981.8h3.5v3.5h-3.5zM585.5 981.8h3.5v3.5h-3.5zM573.6 984.8h3.5v3.5h-3.5zM531.9 1021h3.5v3.5h-3.5zM573.6 1042.1h3.5v3.5h-3.5zM591.5 1045.1h3.5v3.5h-3.5zM528.9 1120.5h3.5v3.5h-3.5zM499.1 1171.8h3.5v3.5h-3.5z"/><path fill="#a4fc54" d="M478.3 981.8h18.4v3.5h-18.4zM588.5 981.8h15.4v3.5h-15.4zM475.3 984.8h33.3v3.5h-33.3zM576.6 984.8h27.3v3.5h-27.3zM475.3 987.8h9.4v3.5h-9.4zM511 987.8h3.5v3.5h-3.5zM567.7 987.8h3.5v3.5h-3.5zM597.4 987.8h6.5v3.5h-6.5zM475.3 990.8h3.5v3.5h-3.5zM525.9 993.8h3.5v3.5h-3.5zM549.8 999.9h3.5v3.5h-3.5zM531.9 1008.9h3.5v3.5h-3.5zM546.8 1018h3.5v3.5h-3.5zM549.8 1027h3.5v3.5h-3.5zM549.8 1033h3.5v3.5h-3.5zM523 1036.1h3.5v3.5h-3.5zM555.7 1036.1h3.5v3.5h-3.5zM475.3 1039.1h9.4v3.5h-9.4zM514 1039.1h3.5v3.5h-3.5zM564.7 1039.1h3.5v3.5h-3.5zM597.4 1039.1h6.5v3.5h-6.5zM475.3 1042.1h33.3v3.5h-33.3zM576.6 1042.1h27.3v3.5h-27.3zM475.3 1045.1h15.4v3.5h-15.4zM594.5 1045.1h9.4v3.5h-9.4zM475.3 1111.5h27.3v3.5h-27.3zM579.6 1111.5h24.3v3.5h-24.3zM475.3 1114.5h12.4v3.5h-12.4zM508.1 1114.5h6.5v3.5h-6.5zM567.7 1114.5h6.5v3.5h-6.5zM594.5 1114.5h9.4v3.5h-9.4zM475.3 1117.5h3.5v3.5h-3.5zM520 1117.5h3.5v3.5h-3.5zM558.7 1117.5h3.5v3.5h-3.5zM549.8 1126.5h3.5v3.5h-3.5zM546.8 1135.6h3.5v3.5h-3.5zM546.8 1144.6h3.5v3.5h-3.5zM549.8 1153.7h3.5v3.5h-3.5zM549.8 1156.7h3.5v3.5h-3.5zM558.7 1162.7h3.5v3.5h-3.5zM475.3 1165.8h6.5v3.5h-6.5zM514 1165.8h3.5v3.5h-3.5zM564.7 1165.8h3.5v3.5h-3.5zM600.4 1165.8h3.5v3.5h-3.5zM475.3 1168.8h36.2v3.5h-36.2zM573.6 1168.8h30.3v3.5h-30.3zM475.3 1171.8h24.3v3.5h-24.3zM582.5 1171.8h21.4v3.5h-21.4z"/><path fill="#04b4fc" d="M531.9 981.8h3.5v3.5h-3.5zM534.9 999.9h3.5v3.5h-3.5zM540.8 1002.9h3.5v3.5h-3.5zM549.8 1045.1h3.5v3.5h-3.5zM534.9 1099.4h3.5v3.5h-3.5zM543.8 1099.4h3.5v3.5h-3.5zM531.9 1102.4h3.5v3.5h-3.5zM549.8 1108.4h3.5v3.5h-3.5zM543.8 1126.5h3.5v3.5h-3.5zM543.8 1153.7h3.5v3.5h-3.5zM546.8 1174.8h3.5v3.5h-3.5zM537.9 1177.8h6.5v3.5h-6.5z"/><path fill="#0484fc" d="M534.9 981.8h3.5v3.5h-3.5zM546.8 987.8h3.5v3.5h-3.5zM543.8 1030h3.5v3.5h-3.5zM537.9 1051.1h6.5v3.5h-6.5zM534.9 1105.4h3.5v3.5h-3.5zM546.8 1108.4h3.5v3.5h-3.5zM531.9 1111.5h3.5v3.5h-3.5zM546.8 1114.5h3.5v3.5h-3.5zM543.8 1159.7h3.5v3.5h-3.5z"/><path fill="#046cfc" d="M537.9 981.8h6.5v3.5h-6.5zM543.8 996.8h3.5v3.5h-3.5zM543.8 1048.1h3.5v3.5h-3.5zM537.9 1105.4h6.5v3.5h-6.5zM543.8 1123.5h3.5v3.5h-3.5zM540.8 1153.7h3.5v3.5h-3.5zM534.9 1162.7h3.5v3.5h-3.5z"/><path fill="#047cfc" d="M543.8 981.8h3.5v3.5h-3.5zM546.8 1045.1h3.5v3.5h-3.5zM543.8 1105.4h3.5v3.5h-3.5zM534.9 1117.5h3.5v3.5h-3.5zM537.9 1126.5h3.5v3.5h-3.5zM534.9 1171.8h3.5v3.5h-3.5z"/><path fill="#0464fc" d="M534.9 984.8h3.5v3.5h-3.5zM543.8 1033h3.5v3.5h-3.5z"/><path fill="#0434fc" d="M537.9 984.8h3.5v3.5h-3.5zM543.8 990.8h3.5v3.5h-3.5zM537.9 1030h3.5v3.5h-3.5zM534.9 1042.1h3.5v3.5h-3.5zM540.8 1108.4h3.5v3.5h-3.5zM534.9 1114.5h3.5v3.5h-3.5z"/><path fill="#042cfc" d="M540.8 984.8h3.5v3.5h-3.5zM543.8 987.8h3.5v3.5h-3.5zM543.8 1039.1h3.5v3.5h-3.5zM537.9 1045.1h3.5v3.5h-3.5zM543.8 1111.5h3.5v3.5h-3.5z"/><path fill="#0454fc" d="M543.8 984.8h3.5v3.5h-3.5zM534.9 990.8h3.5v3.5h-3.5zM534.9 1045.1h3.5v3.5h-3.5zM543.8 1108.4h3.5v3.5h-3.5zM534.9 1168.8h3.5v3.5h-3.5zM540.8 1171.8h3.5v3.5h-3.5z"/><path fill="#048cfc" d="M546.8 984.8h3.5v3.5h-3.5zM534.9 1033h3.5v3.5h-3.5zM543.8 1036.1h3.5v3.5h-3.5zM531.9 1042.1h3.5v3.5h-3.5zM531.9 1045.1h3.5v3.5h-3.5zM543.8 1051.1h3.5v3.5h-3.5zM540.8 1102.4h3.5v3.5h-3.5zM531.9 1108.4h3.5v3.5h-3.5zM546.8 1165.8h3.5v3.5h-3.5zM546.8 1168.8h3.5v3.5h-3.5zM537.9 1174.8h6.5v3.5h-6.5z"/><path fill="#5cfc94" d="M558.7 984.8h3.5v3.5h-3.5zM531.9 1159.7h3.5v3.5h-3.5zM514 1186.9h3.5v3.5h-3.5z"/><path fill="#acfc4c" d="M484.2 987.8h27.3v3.5h-27.3zM570.6 987.8h27.3v3.5h-27.3zM478.3 990.8h12.4v3.5h-12.4zM517 990.8h3.5v3.5h-3.5zM561.7 990.8h3.5v3.5h-3.5zM591.5 990.8h12.4v3.5h-12.4zM475.3 993.8h9.4v3.5h-9.4zM597.4 993.8h6.5v3.5h-6.5zM475.3 996.8h6.5v3.5h-6.5zM549.8 996.8h3.5v3.5h-3.5zM600.4 996.8h3.5v3.5h-3.5zM475.3 999.9h3.5v3.5h-3.5zM549.8 1002.9h3.5v3.5h-3.5zM546.8 1011.9h3.5v3.5h-3.5zM546.8 1014.9h3.5v3.5h-3.5zM475.3 1027h3.5v3.5h-3.5zM475.3 1030h6.5v3.5h-6.5zM600.4 1030h3.5v3.5h-3.5zM475.3 1033h9.4v3.5h-9.4zM597.4 1033h6.5v3.5h-6.5zM478.3 1036.1h12.4v3.5h-12.4zM558.7 1036.1h3.5v3.5h-3.5zM591.5 1036.1h12.4v3.5h-12.4zM484.2 1039.1h30.3v3.5h-30.3zM567.7 1039.1h30.3v3.5h-30.3zM490.2 1114.5h18.4v3.5h-18.4zM573.6 1114.5h21.4v3.5h-21.4zM478.3 1117.5h15.4v3.5h-15.4zM517 1117.5h3.5v3.5h-3.5zM561.7 1117.5h3.5v3.5h-3.5zM588.5 1117.5h15.4v3.5h-15.4zM475.3 1120.5h12.4v3.5h-12.4zM597.4 1120.5h6.5v3.5h-6.5zM475.3 1123.5h6.5v3.5h-6.5zM600.4 1123.5h3.5v3.5h-3.5zM475.3 1126.5h3.5v3.5h-3.5zM549.8 1129.6h3.5v3.5h-3.5zM531.9 1135.6h3.5v3.5h-3.5zM546.8 1138.6h3.5v3.5h-3.5zM546.8 1141.6h3.5v3.5h-3.5zM531.9 1144.6h3.5v3.5h-3.5zM475.3 1153.7h3.5v3.5h-3.5zM475.3 1156.7h6.5v3.5h-6.5zM475.3 1159.7h9.4v3.5h-9.4zM597.4 1159.7h6.5v3.5h-6.5zM475.3 1162.7h12.4v3.5h-12.4zM520 1162.7h3.5v3.5h-3.5zM594.5 1162.7h9.4v3.5h-9.4zM481.3 1165.8h21.4v3.5h-21.4zM505.1 1165.8h9.4v3.5h-9.4zM567.7 1165.8h9.4v3.5h-9.4zM582.5 1165.8h18.4v3.5h-18.4z"/><path fill="#0444fc" d="M534.9 987.8h3.5v3.5h-3.5zM540.8 1036.1h3.5v3.5h-3.5zM534.9 1039.1h3.5v3.5h-3.5zM543.8 1045.1h3.5v3.5h-3.5zM534.9 1165.8h3.5v3.5h-3.5zM543.8 1168.8h3.5v3.5h-3.5z"/><path fill="#0404fc" d="M537.9 987.8h3.5v3.5h-3.5zM537.9 996.8h3.5v3.5h-3.5zM537.9 1111.5h6.5v3.5h-6.5zM540.8 1117.5h3.5v3.5h-3.5zM537.9 1120.5h3.5v3.5h-3.5zM540.8 1123.5h3.5v3.5h-3.5zM537.9 1156.7h3.5v3.5h-3.5zM540.8 1159.7h3.5v3.5h-3.5zM537.9 1162.7h3.5v3.5h-3.5z"/><path fill="#0404ec" d="M540.8 987.8h3.5v3.5h-3.5zM540.8 1120.5h3.5v3.5h-3.5z"/><path fill="#b4fc44" d="M490.2 990.8h15.4v3.5h-15.4zM508.1 990.8h9.4v3.5h-9.4zM564.7 990.8h9.4v3.5h-9.4zM576.6 990.8h15.4v3.5h-15.4zM484.2 993.8h9.4v3.5h-9.4zM523 993.8h3.5v3.5h-3.5zM555.7 993.8h3.5v3.5h-3.5zM588.5 993.8h9.4v3.5h-9.4zM481.3 996.8h9.4v3.5h-9.4zM594.5 996.8h6.5v3.5h-6.5zM478.3 999.9h9.4v3.5h-9.4zM528.9 999.9h3.5v3.5h-3.5zM597.4 999.9h6.5v3.5h-6.5zM478.3 1002.9h6.5v3.5h-6.5zM597.4 1002.9h6.5v3.5h-6.5zM475.3 1005.9h6.5v3.5h-6.5zM600.4 1005.9h3.5v3.5h-3.5zM475.3 1008.9h6.5v3.5h-6.5zM600.4 1008.9h3.5v3.5h-3.5zM475.3 1011.9h6.5v3.5h-6.5zM531.9 1011.9h3.5v3.5h-3.5zM600.4 1011.9h3.5v3.5h-3.5zM475.3 1014.9h6.5v3.5h-6.5zM531.9 1014.9h3.5v3.5h-3.5zM600.4 1014.9h3.5v3.5h-3.5zM475.3 1018h6.5v3.5h-6.5zM600.4 1018h3.5v3.5h-3.5zM475.3 1021h6.5v3.5h-6.5zM600.4 1021h3.5v3.5h-3.5zM475.3 1024h9.4v3.5h-9.4zM549.8 1024h3.5v3.5h-3.5zM600.4 1024h3.5v3.5h-3.5zM478.3 1027h6.5v3.5h-6.5zM528.9 1027h3.5v3.5h-3.5zM597.4 1027h6.5v3.5h-6.5zM481.3 1030h6.5v3.5h-6.5zM528.9 1030h3.5v3.5h-3.5zM594.5 1030h6.5v3.5h-6.5zM484.2 1033h9.4v3.5h-9.4zM588.5 1033h9.4v3.5h-9.4zM490.2 1036.1h12.4v3.5h-12.4zM520 1036.1h3.5v3.5h-3.5zM582.5 1036.1h9.4v3.5h-9.4zM493.2 1117.5h24.3v3.5h-24.3zM564.7 1117.5h24.3v3.5h-24.3zM487.2 1120.5h9.4v3.5h-9.4zM552.8 1120.5h3.5v3.5h-3.5zM588.5 1120.5h6.5v3.5h-6.5zM481.3 1123.5h9.4v3.5h-9.4zM528.9 1123.5h3.5v3.5h-3.5zM591.5 1123.5h9.4v3.5h-9.4zM478.3 1126.5h9.4v3.5h-9.4zM528.9 1126.5h3.5v3.5h-3.5zM597.4 1126.5h6.5v3.5h-6.5zM478.3 1129.6h6.5v3.5h-6.5zM597.4 1129.6h6.5v3.5h-6.5zM475.3 1132.6h6.5v3.5h-6.5zM600.4 1132.6h3.5v3.5h-3.5zM475.3 1135.6h6.5v3.5h-6.5zM600.4 1135.6h3.5v3.5h-3.5zM475.3 1138.6h6.5v3.5h-6.5zM531.9 1138.6h3.5v3.5h-3.5zM600.4 1138.6h3.5v3.5h-3.5zM475.3 1141.6h6.5v3.5h-6.5zM531.9 1141.6h3.5v3.5h-3.5zM600.4 1141.6h3.5v3.5h-3.5zM475.3 1144.6h6.5v3.5h-6.5zM600.4 1144.6h3.5v3.5h-3.5zM475.3 1147.7h6.5v3.5h-6.5zM600.4 1147.7h3.5v3.5h-3.5zM475.3 1150.7h9.4v3.5h-9.4zM549.8 1150.7h3.5v3.5h-3.5zM600.4 1150.7h3.5v3.5h-3.5zM478.3 1153.7h6.5v3.5h-6.5zM597.4 1153.7h6.5v3.5h-6.5zM481.3 1156.7h6.5v3.5h-6.5zM594.5 1156.7h6.5v3.5h-6.5zM484.2 1159.7h9.4v3.5h-9.4zM525.9 1159.7h3.5v3.5h-3.5zM552.8 1159.7h3.5v3.5h-3.5zM591.5 1159.7h6.5v3.5h-6.5zM490.2 1162.7h9.4v3.5h-9.4zM517 1162.7h3.5v3.5h-3.5zM561.7 1162.7h3.5v3.5h-3.5zM582.5 1162.7h12.4v3.5h-12.4z"/><path fill="#b4fc3c" d="M505.1 990.8h3.5v3.5h-3.5zM573.6 990.8h3.5v3.5h-3.5zM597.4 1024h3.5v3.5h-3.5zM594.5 1126.5h3.5v3.5h-3.5z"/><path fill="#0404e4" d="M537.9 990.8h3.5v3.5h-3.5zM540.8 1042.1h3.5v3.5h-3.5zM537.9 1165.8h3.5v3.5h-3.5z"/><path fill="#0404c4" d="M540.8 990.8h3.5v3.5h-3.5zM540.8 1033h3.5v3.5h-3.5z"/><path fill="#bcfc3c" d="M493.2 993.8h9.4v3.5h-9.4zM582.5 993.8h6.5v3.5h-6.5zM490.2 996.8h6.5v3.5h-6.5zM588.5 996.8h6.5v3.5h-6.5zM487.2 999.9h3.5v3.5h-3.5zM591.5 999.9h6.5v3.5h-6.5zM484.2 1002.9h6.5v3.5h-6.5zM528.9 1002.9h3.5v3.5h-3.5zM594.5 1002.9h3.5v3.5h-3.5zM481.3 1005.9h6.5v3.5h-6.5zM549.8 1005.9h3.5v3.5h-3.5zM594.5 1005.9h6.5v3.5h-6.5zM481.3 1008.9h6.5v3.5h-6.5zM597.4 1008.9h3.5v3.5h-3.5zM481.3 1011.9h6.5v3.5h-6.5zM597.4 1011.9h3.5v3.5h-3.5zM481.3 1014.9h6.5v3.5h-6.5zM597.4 1014.9h3.5v3.5h-3.5zM481.3 1018h6.5v3.5h-6.5zM597.4 1018h3.5v3.5h-3.5zM481.3 1021h6.5v3.5h-6.5zM594.5 1021h6.5v3.5h-6.5zM484.2 1024h3.5v3.5h-3.5zM594.5 1024h3.5v3.5h-3.5zM484.2 1027h6.5v3.5h-6.5zM591.5 1027h6.5v3.5h-6.5zM487.2 1030h6.5v3.5h-6.5zM588.5 1030h6.5v3.5h-6.5zM493.2 1033h6.5v3.5h-6.5zM528.9 1033h3.5v3.5h-3.5zM582.5 1033h6.5v3.5h-6.5zM502.1 1036.1h18.4v3.5h-18.4zM561.7 1036.1h21.4v3.5h-21.4zM496.2 1120.5h6.5v3.5h-6.5zM525.9 1120.5h3.5v3.5h-3.5zM579.6 1120.5h9.4v3.5h-9.4zM490.2 1123.5h6.5v3.5h-6.5zM585.5 1123.5h6.5v3.5h-6.5zM487.2 1126.5h6.5v3.5h-6.5zM591.5 1126.5h3.5v3.5h-3.5zM484.2 1129.6h6.5v3.5h-6.5zM528.9 1129.6h3.5v3.5h-3.5zM594.5 1129.6h3.5v3.5h-3.5zM481.3 1132.6h6.5v3.5h-6.5zM594.5 1132.6h6.5v3.5h-6.5zM481.3 1135.6h6.5v3.5h-6.5zM597.4 1135.6h3.5v3.5h-3.5zM481.3 1138.6h6.5v3.5h-6.5zM597.4 1138.6h3.5v3.5h-3.5zM481.3 1141.6h6.5v3.5h-6.5zM597.4 1141.6h3.5v3.5h-3.5zM481.3 1144.6h6.5v3.5h-6.5zM597.4 1144.6h3.5v3.5h-3.5zM481.3 1147.7h6.5v3.5h-6.5zM594.5 1147.7h6.5v3.5h-6.5zM484.2 1150.7h3.5v3.5h-3.5zM594.5 1150.7h6.5v3.5h-6.5zM484.2 1153.7h6.5v3.5h-6.5zM528.9 1153.7h3.5v3.5h-3.5zM591.5 1153.7h6.5v3.5h-6.5zM487.2 1156.7h6.5v3.5h-6.5zM528.9 1156.7h3.5v3.5h-3.5zM588.5 1156.7h6.5v3.5h-6.5zM493.2 1159.7h6.5v3.5h-6.5zM582.5 1159.7h9.4v3.5h-9.4zM499.1 1162.7h18.4v3.5h-18.4zM564.7 1162.7h18.4v3.5h-18.4z"/><path fill="#c4fc34" d="M502.1 993.8h6.5v3.5h-6.5zM520 993.8h3.5v3.5h-3.5zM558.7 993.8h6.5v3.5h-6.5zM573.6 993.8h6.5v3.5h-6.5zM496.2 996.8h3.5v3.5h-3.5zM528.9 996.8h3.5v3.5h-3.5zM582.5 996.8h6.5v3.5h-6.5zM490.2 999.9h6.5v3.5h-6.5zM585.5 999.9h6.5v3.5h-6.5zM490.2 1002.9h3.5v3.5h-3.5zM588.5 1002.9h6.5v3.5h-6.5zM487.2 1005.9h3.5v3.5h-3.5zM591.5 1005.9h3.5v3.5h-3.5zM487.2 1008.9h3.5v3.5h-3.5zM591.5 1008.9h3.5v3.5h-3.5zM487.2 1011.9h3.5v3.5h-3.5zM591.5 1011.9h6.5v3.5h-6.5zM487.2 1014.9h3.5v3.5h-3.5zM591.5 1014.9h6.5v3.5h-6.5zM487.2 1018h3.5v3.5h-3.5zM591.5 1018h6.5v3.5h-6.5zM487.2 1021h3.5v3.5h-3.5zM549.8 1021h3.5v3.5h-3.5zM591.5 1021h3.5v3.5h-3.5zM487.2 1024h6.5v3.5h-6.5zM528.9 1024h3.5v3.5h-3.5zM588.5 1024h6.5v3.5h-6.5zM490.2 1027h6.5v3.5h-6.5zM588.5 1027h3.5v3.5h-3.5zM493.2 1030h6.5v3.5h-6.5zM582.5 1030h6.5v3.5h-6.5zM499.1 1033h6.5v3.5h-6.5zM579.6 1033h3.5v3.5h-3.5zM502.1 1120.5h6.5v3.5h-6.5zM523 1120.5h3.5v3.5h-3.5zM555.7 1120.5h3.5v3.5h-3.5zM573.6 1120.5h6.5v3.5h-6.5zM496.2 1123.5h3.5v3.5h-3.5zM582.5 1123.5h3.5v3.5h-3.5zM493.2 1126.5h3.5v3.5h-3.5zM585.5 1126.5h6.5v3.5h-6.5zM490.2 1129.6h3.5v3.5h-3.5zM588.5 1129.6h6.5v3.5h-6.5zM487.2 1132.6h3.5v3.5h-3.5zM591.5 1132.6h3.5v3.5h-3.5zM487.2 1135.6h3.5v3.5h-3.5zM591.5 1135.6h3.5v3.5h-3.5zM487.2 1138.6h3.5v3.5h-3.5zM591.5 1138.6h6.5v3.5h-6.5zM487.2 1141.6h3.5v3.5h-3.5zM591.5 1141.6h6.5v3.5h-6.5zM487.2 1144.6h3.5v3.5h-3.5zM591.5 1144.6h6.5v3.5h-6.5zM487.2 1147.7h3.5v3.5h-3.5zM549.8 1147.7h3.5v3.5h-3.5zM591.5 1147.7h3.5v3.5h-3.5zM487.2 1150.7h6.5v3.5h-6.5zM528.9 1150.7h3.5v3.5h-3.5zM588.5 1150.7h6.5v3.5h-6.5zM490.2 1153.7h6.5v3.5h-6.5zM588.5 1153.7h3.5v3.5h-3.5zM493.2 1156.7h6.5v3.5h-6.5zM585.5 1156.7h3.5v3.5h-3.5zM499.1 1159.7h6.5v3.5h-6.5zM555.7 1159.7h3.5v3.5h-3.5zM576.6 1159.7h6.5v3.5h-6.5z"/><path fill="#ccfc2c" d="M508.1 993.8h12.4v3.5h-12.4zM564.7 993.8h9.4v3.5h-9.4zM499.1 996.8h6.5v3.5h-6.5zM579.6 996.8h3.5v3.5h-3.5zM496.2 999.9h3.5v3.5h-3.5zM582.5 999.9h3.5v3.5h-3.5zM493.2 1002.9h3.5v3.5h-3.5zM585.5 1002.9h3.5v3.5h-3.5zM490.2 1005.9h6.5v3.5h-6.5zM528.9 1005.9h3.5v3.5h-3.5zM588.5 1005.9h3.5v3.5h-3.5zM490.2 1008.9h3.5v3.5h-3.5zM549.8 1008.9h3.5v3.5h-3.5zM588.5 1008.9h3.5v3.5h-3.5zM490.2 1011.9h3.5v3.5h-3.5zM588.5 1011.9h3.5v3.5h-3.5zM490.2 1014.9h3.5v3.5h-3.5zM588.5 1014.9h3.5v3.5h-3.5zM490.2 1018h3.5v3.5h-3.5zM588.5 1018h3.5v3.5h-3.5zM490.2 1021h3.5v3.5h-3.5zM588.5 1021h3.5v3.5h-3.5zM493.2 1024h3.5v3.5h-3.5zM585.5 1024h3.5v3.5h-3.5zM496.2 1027h3.5v3.5h-3.5zM585.5 1027h3.5v3.5h-3.5zM499.1 1030h3.5v3.5h-3.5zM579.6 1030h3.5v3.5h-3.5zM505.1 1033h3.5v3.5h-3.5zM552.8 1033h3.5v3.5h-3.5zM573.6 1033h3.5v3.5h-3.5zM508.1 1120.5h6.5v3.5h-6.5zM520 1120.5h3.5v3.5h-3.5zM558.7 1120.5h3.5v3.5h-3.5zM567.7 1120.5h6.5v3.5h-6.5zM499.1 1123.5h6.5v3.5h-6.5zM579.6 1123.5h3.5v3.5h-3.5zM496.2 1126.5h3.5v3.5h-3.5zM582.5 1126.5h3.5v3.5h-3.5zM493.2 1129.6h3.5v3.5h-3.5zM585.5 1129.6h3.5v3.5h-3.5zM490.2 1132.6h6.5v3.5h-6.5zM528.9 1132.6h3.5v3.5h-3.5zM588.5 1132.6h3.5v3.5h-3.5zM490.2 1135.6h3.5v3.5h-3.5zM549.8 1135.6h3.5v3.5h-3.5zM588.5 1135.6h3.5v3.5h-3.5zM490.2 1138.6h3.5v3.5h-3.5zM588.5 1138.6h3.5v3.5h-3.5zM490.2 1141.6h3.5v3.5h-3.5zM588.5 1141.6h3.5v3.5h-3.5zM490.2 1144.6h3.5v3.5h-3.5zM549.8 1144.6h3.5v3.5h-3.5zM588.5 1144.6h3.5v3.5h-3.5zM490.2 1147.7h3.5v3.5h-3.5zM588.5 1147.7h3.5v3.5h-3.5zM493.2 1150.7h3.5v3.5h-3.5zM585.5 1150.7h3.5v3.5h-3.5zM496.2 1153.7h3.5v3.5h-3.5zM582.5 1153.7h6.5v3.5h-6.5zM499.1 1156.7h3.5v3.5h-3.5zM579.6 1156.7h3.5v3.5h-3.5zM505.1 1159.7h6.5v3.5h-6.5zM558.7 1159.7h3.5v3.5h-3.5zM570.6 1159.7h6.5v3.5h-6.5z"/><path fill="#043cfc" d="M537.9 993.8h3.5v3.5h-3.5zM540.8 999.9h3.5v3.5h-3.5zM537.9 1108.4h3.5v3.5h-3.5zM534.9 1111.5h3.5v3.5h-3.5z"/><path fill="#0424fc" d="M540.8 993.8h3.5v3.5h-3.5zM540.8 1030h3.5v3.5h-3.5zM543.8 1042.1h3.5v3.5h-3.5zM540.8 1045.1h3.5v3.5h-3.5zM543.8 1165.8h3.5v3.5h-3.5z"/><path fill="#bcfc34" d="M579.6 993.8h3.5v3.5h-3.5zM594.5 1008.9h3.5v3.5h-3.5zM549.8 1132.6h3.5v3.5h-3.5zM594.5 1135.6h3.5v3.5h-3.5z"/><path fill="#d4fc24" d="M505.1 996.8h3.5v3.5h-3.5zM573.6 996.8h6.5v3.5h-6.5zM499.1 999.9h3.5v3.5h-3.5zM579.6 999.9h3.5v3.5h-3.5zM496.2 1002.9h3.5v3.5h-3.5zM582.5 1002.9h3.5v3.5h-3.5zM585.5 1005.9h3.5v3.5h-3.5zM493.2 1008.9h3.5v3.5h-3.5zM585.5 1008.9h3.5v3.5h-3.5zM493.2 1011.9h3.5v3.5h-3.5zM549.8 1011.9h3.5v3.5h-3.5zM585.5 1011.9h3.5v3.5h-3.5zM493.2 1014.9h3.5v3.5h-3.5zM549.8 1014.9h3.5v3.5h-3.5zM585.5 1014.9h3.5v3.5h-3.5zM493.2 1018h3.5v3.5h-3.5zM549.8 1018h3.5v3.5h-3.5zM585.5 1018h3.5v3.5h-3.5zM493.2 1021h3.5v3.5h-3.5zM528.9 1021h3.5v3.5h-3.5zM585.5 1021h3.5v3.5h-3.5zM496.2 1024h3.5v3.5h-3.5zM582.5 1024h3.5v3.5h-3.5zM499.1 1027h3.5v3.5h-3.5zM502.1 1030h3.5v3.5h-3.5zM576.6 1030h3.5v3.5h-3.5zM508.1 1033h6.5v3.5h-6.5zM525.9 1033h3.5v3.5h-3.5zM567.7 1033h6.5v3.5h-6.5zM514 1120.5h6.5v3.5h-6.5zM561.7 1120.5h6.5v3.5h-6.5zM505.1 1123.5h3.5v3.5h-3.5zM576.6 1123.5h3.5v3.5h-3.5zM499.1 1126.5h3.5v3.5h-3.5zM579.6 1126.5h3.5v3.5h-3.5zM496.2 1129.6h3.5v3.5h-3.5zM582.5 1129.6h3.5v3.5h-3.5zM585.5 1132.6h3.5v3.5h-3.5zM493.2 1135.6h3.5v3.5h-3.5zM585.5 1135.6h3.5v3.5h-3.5zM493.2 1138.6h3.5v3.5h-3.5zM549.8 1138.6h3.5v3.5h-3.5zM585.5 1138.6h3.5v3.5h-3.5zM493.2 1141.6h3.5v3.5h-3.5zM549.8 1141.6h3.5v3.5h-3.5zM585.5 1141.6h3.5v3.5h-3.5zM493.2 1144.6h3.5v3.5h-3.5zM585.5 1144.6h3.5v3.5h-3.5zM493.2 1147.7h3.5v3.5h-3.5zM585.5 1147.7h3.5v3.5h-3.5zM496.2 1150.7h3.5v3.5h-3.5zM582.5 1150.7h3.5v3.5h-3.5zM499.1 1153.7h3.5v3.5h-3.5zM579.6 1153.7h3.5v3.5h-3.5zM502.1 1156.7h3.5v3.5h-3.5zM576.6 1156.7h3.5v3.5h-3.5zM511 1159.7h12.4v3.5h-12.4zM561.7 1159.7h9.4v3.5h-9.4z"/><path fill="#dcfc1c" d="M508.1 996.8h3.5v3.5h-3.5zM570.6 996.8h3.5v3.5h-3.5zM502.1 999.9h3.5v3.5h-3.5zM576.6 999.9h3.5v3.5h-3.5zM499.1 1002.9h3.5v3.5h-3.5zM579.6 1002.9h3.5v3.5h-3.5zM496.2 1005.9h3.5v3.5h-3.5zM582.5 1005.9h3.5v3.5h-3.5zM496.2 1008.9h3.5v3.5h-3.5zM528.9 1008.9h3.5v3.5h-3.5zM582.5 1008.9h3.5v3.5h-3.5zM496.2 1011.9h3.5v3.5h-3.5zM496.2 1014.9h3.5v3.5h-3.5zM496.2 1018h3.5v3.5h-3.5zM528.9 1018h3.5v3.5h-3.5zM496.2 1021h3.5v3.5h-3.5zM582.5 1021h3.5v3.5h-3.5zM499.1 1024h3.5v3.5h-3.5zM579.6 1027h3.5v3.5h-3.5zM505.1 1030h3.5v3.5h-3.5zM573.6 1030h3.5v3.5h-3.5zM514 1033h6.5v3.5h-6.5zM523 1033h3.5v3.5h-3.5zM555.7 1033h12.4v3.5h-12.4zM508.1 1123.5h3.5v3.5h-3.5zM573.6 1123.5h3.5v3.5h-3.5zM502.1 1126.5h3.5v3.5h-3.5zM576.6 1126.5h3.5v3.5h-3.5zM499.1 1129.6h3.5v3.5h-3.5zM579.6 1129.6h3.5v3.5h-3.5zM496.2 1132.6h3.5v3.5h-3.5zM582.5 1132.6h3.5v3.5h-3.5zM496.2 1135.6h3.5v3.5h-3.5zM528.9 1135.6h3.5v3.5h-3.5zM582.5 1135.6h3.5v3.5h-3.5zM496.2 1138.6h3.5v3.5h-3.5zM496.2 1141.6h3.5v3.5h-3.5zM496.2 1144.6h3.5v3.5h-3.5zM528.9 1144.6h3.5v3.5h-3.5zM496.2 1147.7h3.5v3.5h-3.5zM582.5 1147.7h3.5v3.5h-3.5zM499.1 1150.7h3.5v3.5h-3.5zM502.1 1153.7h3.5v3.5h-3.5zM505.1 1156.7h3.5v3.5h-3.5zM573.6 1156.7h3.5v3.5h-3.5z"/><path fill="#e4fc14" d="M511 996.8h3.5v3.5h-3.5zM552.8 996.8h3.5v3.5h-3.5zM567.7 996.8h3.5v3.5h-3.5zM505.1 999.9h3.5v3.5h-3.5zM573.6 999.9h3.5v3.5h-3.5zM502.1 1002.9h3.5v3.5h-3.5zM499.1 1005.9h3.5v3.5h-3.5zM579.6 1005.9h3.5v3.5h-3.5zM528.9 1011.9h3.5v3.5h-3.5zM582.5 1011.9h3.5v3.5h-3.5zM528.9 1014.9h3.5v3.5h-3.5zM582.5 1014.9h3.5v3.5h-3.5zM582.5 1018h3.5v3.5h-3.5zM499.1 1021h3.5v3.5h-3.5zM579.6 1024h3.5v3.5h-3.5zM502.1 1027h3.5v3.5h-3.5zM576.6 1027h3.5v3.5h-3.5zM508.1 1030h3.5v3.5h-3.5zM511 1123.5h3.5v3.5h-3.5zM570.6 1123.5h3.5v3.5h-3.5zM505.1 1126.5h3.5v3.5h-3.5zM502.1 1129.6h3.5v3.5h-3.5zM499.1 1132.6h3.5v3.5h-3.5zM579.6 1132.6h3.5v3.5h-3.5zM528.9 1138.6h3.5v3.5h-3.5zM582.5 1138.6h3.5v3.5h-3.5zM528.9 1141.6h3.5v3.5h-3.5zM582.5 1141.6h3.5v3.5h-3.5zM582.5 1144.6h3.5v3.5h-3.5zM499.1 1147.7h3.5v3.5h-3.5zM579.6 1150.7h3.5v3.5h-3.5zM576.6 1153.7h3.5v3.5h-3.5zM508.1 1156.7h3.5v3.5h-3.5zM570.6 1156.7h3.5v3.5h-3.5z"/><path fill="#ecfc0c" d="M514 996.8h6.5v3.5h-6.5zM525.9 996.8h3.5v3.5h-3.5zM555.7 996.8h3.5v3.5h-3.5zM561.7 996.8h6.5v3.5h-6.5zM508.1 999.9h3.5v3.5h-3.5zM576.6 1002.9h3.5v3.5h-3.5zM499.1 1008.9h3.5v3.5h-3.5zM579.6 1008.9h3.5v3.5h-3.5zM499.1 1011.9h3.5v3.5h-3.5zM579.6 1011.9h3.5v3.5h-3.5zM499.1 1014.9h3.5v3.5h-3.5zM499.1 1018h3.5v3.5h-3.5zM579.6 1018h3.5v3.5h-3.5zM579.6 1021h3.5v3.5h-3.5zM502.1 1024h3.5v3.5h-3.5zM576.6 1024h3.5v3.5h-3.5zM505.1 1027h3.5v3.5h-3.5zM573.6 1027h3.5v3.5h-3.5zM570.6 1030h3.5v3.5h-3.5zM567.7 1123.5h3.5v3.5h-3.5zM573.6 1126.5h3.5v3.5h-3.5zM576.6 1129.6h3.5v3.5h-3.5zM499.1 1135.6h3.5v3.5h-3.5zM579.6 1135.6h3.5v3.5h-3.5zM499.1 1138.6h3.5v3.5h-3.5zM579.6 1138.6h3.5v3.5h-3.5zM499.1 1141.6h3.5v3.5h-3.5zM499.1 1144.6h3.5v3.5h-3.5zM579.6 1144.6h3.5v3.5h-3.5zM579.6 1147.7h3.5v3.5h-3.5zM502.1 1150.7h3.5v3.5h-3.5zM576.6 1150.7h3.5v3.5h-3.5zM505.1 1153.7h3.5v3.5h-3.5zM573.6 1153.7h3.5v3.5h-3.5zM511 1156.7h3.5v3.5h-3.5zM567.7 1156.7h3.5v3.5h-3.5z"/><path fill="#f4fc04" d="M520 996.8h6.5v3.5h-6.5zM558.7 996.8h3.5v3.5h-3.5zM570.6 999.9h3.5v3.5h-3.5zM505.1 1002.9h3.5v3.5h-3.5zM576.6 1005.9h3.5v3.5h-3.5zM579.6 1014.9h3.5v3.5h-3.5zM502.1 1021h3.5v3.5h-3.5zM552.8 1027h3.5v3.5h-3.5zM511 1030h3.5v3.5h-3.5zM567.7 1030h3.5v3.5h-3.5zM514 1123.5h3.5v3.5h-3.5zM564.7 1123.5h3.5v3.5h-3.5zM508.1 1126.5h3.5v3.5h-3.5zM552.8 1126.5h3.5v3.5h-3.5zM505.1 1129.6h3.5v3.5h-3.5zM502.1 1132.6h3.5v3.5h-3.5zM576.6 1132.6h3.5v3.5h-3.5zM579.6 1141.6h3.5v3.5h-3.5zM502.1 1147.7h3.5v3.5h-3.5zM514 1156.7h3.5v3.5h-3.5z"/><path fill="#0494fc" d="M534.9 996.8h3.5v3.5h-3.5zM546.8 1039.1h3.5v3.5h-3.5zM546.8 1048.1h3.5v3.5h-3.5zM534.9 1051.1h3.5v3.5h-3.5zM537.9 1102.4h3.5v3.5h-3.5zM534.9 1123.5h3.5v3.5h-3.5zM534.9 1156.7h3.5v3.5h-3.5z"/><path fill="#0404cc" d="M540.8 996.8h3.5v3.5h-3.5zM540.8 1165.8h3.5v3.5h-3.5z"/><path fill="#fcf404" d="M511 999.9h3.5v3.5h-3.5zM552.8 1002.9h3.5v3.5h-3.5zM576.6 1008.9h3.5v3.5h-3.5zM502.1 1011.9h3.5v3.5h-3.5zM502.1 1018h3.5v3.5h-3.5zM576.6 1021h3.5v3.5h-3.5zM505.1 1024h3.5v3.5h-3.5zM552.8 1024h3.5v3.5h-3.5zM508.1 1027h3.5v3.5h-3.5zM517 1123.5h3.5v3.5h-3.5zM552.8 1123.5h3.5v3.5h-3.5zM573.6 1129.6h3.5v3.5h-3.5zM502.1 1135.6h3.5v3.5h-3.5zM502.1 1138.6h3.5v3.5h-3.5zM502.1 1141.6h3.5v3.5h-3.5zM502.1 1144.6h3.5v3.5h-3.5zM552.8 1150.7h3.5v3.5h-3.5zM573.6 1150.7h3.5v3.5h-3.5zM552.8 1153.7h3.5v3.5h-3.5zM570.6 1153.7h3.5v3.5h-3.5zM517 1156.7h3.5v3.5h-3.5z"/><path fill="#fce404" d="M514 999.9h3.5v3.5h-3.5zM570.6 1002.9h3.5v3.5h-3.5zM573.6 1005.9h3.5v3.5h-3.5zM505.1 1008.9h3.5v3.5h-3.5zM552.8 1008.9h3.5v3.5h-3.5zM505.1 1021h3.5v3.5h-3.5zM525.9 1027h3.5v3.5h-3.5zM520 1123.5h3.5v3.5h-3.5zM558.7 1123.5h3.5v3.5h-3.5zM525.9 1126.5h3.5v3.5h-3.5zM567.7 1126.5h3.5v3.5h-3.5zM508.1 1129.6h3.5v3.5h-3.5zM573.6 1132.6h3.5v3.5h-3.5zM552.8 1135.6h3.5v3.5h-3.5zM552.8 1144.6h3.5v3.5h-3.5zM505.1 1147.7h3.5v3.5h-3.5zM573.6 1147.7h3.5v3.5h-3.5zM508.1 1150.7h3.5v3.5h-3.5zM511 1153.7h3.5v3.5h-3.5zM567.7 1153.7h3.5v3.5h-3.5zM520 1156.7h9.4v3.5h-9.4zM552.8 1156.7h9.4v3.5h-9.4z"/><path fill="#fccc04" d="M517 999.9h3.5v3.5h-3.5zM561.7 999.9h3.5v3.5h-3.5zM567.7 1002.9h3.5v3.5h-3.5zM570.6 1005.9h3.5v3.5h-3.5zM525.9 1008.9h3.5v3.5h-3.5zM525.9 1011.9h3.5v3.5h-3.5zM525.9 1014.9h3.5v3.5h-3.5zM525.9 1018h3.5v3.5h-3.5zM508.1 1021h3.5v3.5h-3.5zM520 1030h3.5v3.5h-3.5zM558.7 1030h3.5v3.5h-3.5zM564.7 1126.5h3.5v3.5h-3.5zM511 1129.6h3.5v3.5h-3.5zM570.6 1132.6h3.5v3.5h-3.5zM525.9 1135.6h3.5v3.5h-3.5zM525.9 1138.6h3.5v3.5h-3.5zM525.9 1141.6h3.5v3.5h-3.5zM525.9 1144.6h3.5v3.5h-3.5zM508.1 1147.7h3.5v3.5h-3.5zM570.6 1147.7h3.5v3.5h-3.5zM511 1150.7h3.5v3.5h-3.5zM564.7 1153.7h3.5v3.5h-3.5z"/><path fill="#fcbc04" d="M520 999.9h3.5v3.5h-3.5zM514 1002.9h3.5v3.5h-3.5zM570.6 1008.9h3.5v3.5h-3.5zM508.1 1011.9h3.5v3.5h-3.5zM508.1 1014.9h3.5v3.5h-3.5zM508.1 1018h3.5v3.5h-3.5zM567.7 1024h3.5v3.5h-3.5zM564.7 1027h3.5v3.5h-3.5zM523 1030h3.5v3.5h-3.5zM555.7 1030h3.5v3.5h-3.5zM517 1126.5h3.5v3.5h-3.5zM570.6 1135.6h3.5v3.5h-3.5zM508.1 1138.6h3.5v3.5h-3.5zM508.1 1141.6h3.5v3.5h-3.5zM570.6 1144.6h3.5v3.5h-3.5zM517 1153.7h3.5v3.5h-3.5z"/><path fill="#fca404" d="M523 999.9h3.5v3.5h-3.5zM555.7 999.9h3.5v3.5h-3.5zM511 1008.9h3.5v3.5h-3.5zM517 1027h3.5v3.5h-3.5zM564.7 1129.6h3.5v3.5h-3.5zM567.7 1132.6h3.5v3.5h-3.5zM567.7 1147.7h3.5v3.5h-3.5zM564.7 1150.7h3.5v3.5h-3.5zM520 1153.7h3.5v3.5h-3.5z"/><path fill="#fcd404" d="M525.9 999.9h3.5v3.5h-3.5zM511 1002.9h3.5v3.5h-3.5zM508.1 1005.9h3.5v3.5h-3.5zM525.9 1005.9h3.5v3.5h-3.5zM573.6 1011.9h3.5v3.5h-3.5zM573.6 1014.9h3.5v3.5h-3.5zM573.6 1018h3.5v3.5h-3.5zM525.9 1021h3.5v3.5h-3.5zM570.6 1024h3.5v3.5h-3.5zM514 1126.5h3.5v3.5h-3.5zM508.1 1132.6h3.5v3.5h-3.5zM525.9 1132.6h3.5v3.5h-3.5zM573.6 1138.6h3.5v3.5h-3.5zM573.6 1141.6h3.5v3.5h-3.5zM573.6 1144.6h3.5v3.5h-3.5zM525.9 1147.7h3.5v3.5h-3.5zM514 1153.7h3.5v3.5h-3.5z"/><path fill="#044cfc" d="M537.9 999.9h3.5v3.5h-3.5zM537.9 1036.1h3.5v3.5h-3.5zM543.8 1162.7h3.5v3.5h-3.5z"/><path fill="#fcec04" d="M552.8 999.9h3.5v3.5h-3.5zM567.7 999.9h3.5v3.5h-3.5zM508.1 1002.9h3.5v3.5h-3.5zM505.1 1005.9h3.5v3.5h-3.5zM552.8 1005.9h3.5v3.5h-3.5zM576.6 1011.9h3.5v3.5h-3.5zM502.1 1014.9h3.5v3.5h-3.5zM576.6 1014.9h3.5v3.5h-3.5zM576.6 1018h3.5v3.5h-3.5zM552.8 1021h3.5v3.5h-3.5zM573.6 1024h3.5v3.5h-3.5zM570.6 1027h3.5v3.5h-3.5zM514 1030h3.5v3.5h-3.5zM564.7 1030h3.5v3.5h-3.5zM561.7 1123.5h3.5v3.5h-3.5zM511 1126.5h3.5v3.5h-3.5zM505.1 1132.6h3.5v3.5h-3.5zM552.8 1132.6h3.5v3.5h-3.5zM576.6 1135.6h3.5v3.5h-3.5zM576.6 1138.6h3.5v3.5h-3.5zM576.6 1141.6h3.5v3.5h-3.5zM576.6 1144.6h3.5v3.5h-3.5zM552.8 1147.7h3.5v3.5h-3.5zM561.7 1156.7h3.5v3.5h-3.5z"/><path fill="#fcb404" d="M558.7 999.9h3.5v3.5h-3.5zM564.7 1002.9h3.5v3.5h-3.5zM511 1005.9h3.5v3.5h-3.5zM570.6 1011.9h3.5v3.5h-3.5zM570.6 1014.9h3.5v3.5h-3.5zM570.6 1018h3.5v3.5h-3.5zM561.7 1126.5h3.5v3.5h-3.5zM511 1132.6h3.5v3.5h-3.5zM570.6 1138.6h3.5v3.5h-3.5zM570.6 1141.6h3.5v3.5h-3.5zM561.7 1153.7h3.5v3.5h-3.5z"/><path fill="#fcdc04" d="M564.7 999.9h3.5v3.5h-3.5zM525.9 1002.9h3.5v3.5h-3.5zM573.6 1008.9h3.5v3.5h-3.5zM505.1 1011.9h3.5v3.5h-3.5zM552.8 1011.9h3.5v3.5h-3.5zM505.1 1014.9h3.5v3.5h-3.5zM552.8 1014.9h3.5v3.5h-3.5zM505.1 1018h3.5v3.5h-3.5zM552.8 1018h3.5v3.5h-3.5zM573.6 1021h3.5v3.5h-3.5zM508.1 1024h3.5v3.5h-3.5zM525.9 1024h3.5v3.5h-3.5zM511 1027h3.5v3.5h-3.5zM567.7 1027h3.5v3.5h-3.5zM517 1030h3.5v3.5h-3.5zM525.9 1030h3.5v3.5h-3.5zM561.7 1030h3.5v3.5h-3.5zM523 1123.5h6.5v3.5h-6.5zM555.7 1123.5h3.5v3.5h-3.5zM525.9 1129.6h3.5v3.5h-3.5zM570.6 1129.6h3.5v3.5h-3.5zM505.1 1135.6h3.5v3.5h-3.5zM573.6 1135.6h3.5v3.5h-3.5zM505.1 1138.6h3.5v3.5h-3.5zM552.8 1138.6h3.5v3.5h-3.5zM505.1 1141.6h3.5v3.5h-3.5zM552.8 1141.6h3.5v3.5h-3.5zM505.1 1144.6h3.5v3.5h-3.5zM525.9 1150.7h3.5v3.5h-3.5zM570.6 1150.7h3.5v3.5h-3.5zM525.9 1153.7h3.5v3.5h-3.5z"/><path fill="#acfc44" d="M475.3 1002.9h3.5v3.5h-3.5zM531.9 1018h3.5v3.5h-3.5zM594.5 1120.5h3.5v3.5h-3.5zM475.3 1129.6h3.5v3.5h-3.5zM600.4 1156.7h3.5v3.5h-3.5zM487.2 1162.7h3.5v3.5h-3.5zM502.1 1165.8h3.5v3.5h-3.5zM576.6 1165.8h6.5v3.5h-6.5z"/><path fill="#fc9404" d="M517 1002.9h3.5v3.5h-3.5zM514 1005.9h3.5v3.5h-3.5zM567.7 1008.9h3.5v3.5h-3.5zM511 1011.9h3.5v3.5h-3.5zM511 1014.9h3.5v3.5h-3.5zM511 1018h3.5v3.5h-3.5zM555.7 1021h3.5v3.5h-3.5zM555.7 1024h3.5v3.5h-3.5zM564.7 1024h3.5v3.5h-3.5zM555.7 1027h3.5v3.5h-3.5zM558.7 1126.5h3.5v3.5h-3.5zM555.7 1129.6h3.5v3.5h-3.5zM555.7 1132.6h3.5v3.5h-3.5zM567.7 1135.6h3.5v3.5h-3.5zM511 1138.6h3.5v3.5h-3.5zM511 1141.6h3.5v3.5h-3.5zM567.7 1144.6h3.5v3.5h-3.5z"/><path fill="#fc6c04" d="M520 1002.9h6.5v3.5h-6.5zM564.7 1021h3.5v3.5h-3.5zM517 1024h3.5v3.5h-3.5zM514 1135.6h3.5v3.5h-3.5zM514 1144.6h3.5v3.5h-3.5z"/><path fill="#fc8c04" d="M555.7 1002.9h3.5v3.5h-3.5zM561.7 1002.9h3.5v3.5h-3.5zM555.7 1005.9h3.5v3.5h-3.5zM555.7 1008.9h3.5v3.5h-3.5zM555.7 1011.9h3.5v3.5h-3.5zM567.7 1011.9h3.5v3.5h-3.5zM555.7 1014.9h3.5v3.5h-3.5zM555.7 1018h3.5v3.5h-3.5zM567.7 1018h3.5v3.5h-3.5zM555.7 1126.5h3.5v3.5h-3.5zM555.7 1135.6h3.5v3.5h-3.5zM555.7 1138.6h3.5v3.5h-3.5zM555.7 1141.6h3.5v3.5h-3.5zM555.7 1144.6h3.5v3.5h-3.5zM555.7 1147.7h3.5v3.5h-3.5zM555.7 1150.7h3.5v3.5h-3.5z"/><path fill="#fc6404" d="M558.7 1002.9h3.5v3.5h-3.5zM564.7 1008.9h3.5v3.5h-3.5zM514 1018h3.5v3.5h-3.5zM561.7 1024h3.5v3.5h-3.5z"/><path fill="#f4f404" d="M573.6 1002.9h3.5v3.5h-3.5zM502.1 1008.9h3.5v3.5h-3.5zM552.8 1030h3.5v3.5h-3.5zM570.6 1126.5h3.5v3.5h-3.5zM552.8 1129.6h3.5v3.5h-3.5zM576.6 1147.7h3.5v3.5h-3.5zM505.1 1150.7h3.5v3.5h-3.5zM508.1 1153.7h3.5v3.5h-3.5zM564.7 1156.7h3.5v3.5h-3.5z"/><path fill="#ecfc04" d="M502.1 1005.9h3.5v3.5h-3.5z"/><path fill="#fc5c04" d="M517 1005.9h3.5v3.5h-3.5zM514 1011.9h3.5v3.5h-3.5zM564.7 1135.6h3.5v3.5h-3.5zM514 1138.6h3.5v3.5h-3.5zM514 1141.6h3.5v3.5h-3.5zM564.7 1144.6h3.5v3.5h-3.5z"/><path fill="#fc1c04" d="M520 1005.9h3.5v3.5h-3.5zM561.7 1008.9h3.5v3.5h-3.5z"/><path fill="#fc7404" d="M523 1005.9h3.5v3.5h-3.5zM514 1008.9h3.5v3.5h-3.5zM523 1008.9h3.5v3.5h-3.5zM523 1011.9h3.5v3.5h-3.5zM523 1014.9h3.5v3.5h-3.5zM523 1018h3.5v3.5h-3.5zM523 1027h3.5v3.5h-3.5zM558.7 1027h3.5v3.5h-3.5zM561.7 1129.6h3.5v3.5h-3.5zM523 1138.6h3.5v3.5h-3.5zM523 1141.6h3.5v3.5h-3.5zM523 1144.6h3.5v3.5h-3.5zM523 1147.7h3.5v3.5h-3.5zM523 1150.7h3.5v3.5h-3.5z"/><path fill="#fc2404" d="M558.7 1005.9h3.5v3.5h-3.5zM558.7 1008.9h3.5v3.5h-3.5zM558.7 1024h3.5v3.5h-3.5zM517 1135.6h3.5v3.5h-3.5zM517 1144.6h3.5v3.5h-3.5zM558.7 1147.7h3.5v3.5h-3.5z"/><path fill="#fc5404" d="M561.7 1005.9h3.5v3.5h-3.5zM514 1014.9h3.5v3.5h-3.5zM564.7 1018h3.5v3.5h-3.5zM520 1150.7h3.5v3.5h-3.5z"/><path fill="#fc8404" d="M564.7 1005.9h3.5v3.5h-3.5zM567.7 1014.9h3.5v3.5h-3.5zM520 1027h3.5v3.5h-3.5zM517 1129.6h3.5v3.5h-3.5zM514 1132.6h3.5v3.5h-3.5zM567.7 1138.6h3.5v3.5h-3.5zM567.7 1141.6h3.5v3.5h-3.5zM514 1147.7h3.5v3.5h-3.5zM517 1150.7h3.5v3.5h-3.5zM523 1153.7h3.5v3.5h-3.5zM555.7 1153.7h3.5v3.5h-3.5z"/><path fill="#fcac04" d="M567.7 1005.9h3.5v3.5h-3.5zM511 1021h3.5v3.5h-3.5zM514 1129.6h3.5v3.5h-3.5zM511 1147.7h3.5v3.5h-3.5zM514 1150.7h3.5v3.5h-3.5z"/><path fill="#fcc404" d="M508.1 1008.9h3.5v3.5h-3.5zM570.6 1021h3.5v3.5h-3.5zM511 1024h3.5v3.5h-3.5zM514 1027h3.5v3.5h-3.5zM567.7 1129.6h3.5v3.5h-3.5zM508.1 1135.6h3.5v3.5h-3.5zM508.1 1144.6h3.5v3.5h-3.5zM567.7 1150.7h3.5v3.5h-3.5z"/><path fill="#fc3404" d="M517 1008.9h3.5v3.5h-3.5z"/><path fill="#f40c04" d="M520 1008.9h3.5v3.5h-3.5zM561.7 1135.6h3.5v3.5h-3.5zM517 1138.6h3.5v3.5h-3.5zM517 1141.6h3.5v3.5h-3.5zM520 1147.7h3.5v3.5h-3.5z"/><path fill="#fc1404" d="M517 1011.9h3.5v3.5h-3.5zM520 1014.9h3.5v3.5h-3.5zM517 1018h6.5v3.5h-6.5zM520 1021h3.5v3.5h-3.5zM520 1135.6h3.5v3.5h-3.5zM520 1138.6h3.5v3.5h-3.5zM520 1141.6h3.5v3.5h-3.5z"/><path fill="#fc0c04" d="M520 1011.9h3.5v3.5h-3.5zM520 1132.6h3.5v3.5h-3.5zM520 1144.6h3.5v3.5h-3.5zM561.7 1144.6h3.5v3.5h-3.5z"/><path fill="#fc2c04" d="M558.7 1011.9h3.5v3.5h-3.5zM558.7 1014.9h3.5v3.5h-3.5zM558.7 1018h3.5v3.5h-3.5zM558.7 1021h6.5v3.5h-6.5zM520 1024h3.5v3.5h-3.5zM558.7 1132.6h3.5v3.5h-3.5zM558.7 1135.6h3.5v3.5h-3.5zM558.7 1138.6h3.5v3.5h-3.5zM558.7 1141.6h3.5v3.5h-3.5zM558.7 1144.6h3.5v3.5h-3.5z"/><path fill="#dc0404" d="M561.7 1011.9h3.5v3.5h-3.5z"/><path fill="#fc4c04" d="M564.7 1011.9h3.5v3.5h-3.5zM520 1129.6h3.5v3.5h-3.5zM517 1132.6h3.5v3.5h-3.5zM564.7 1138.6h3.5v3.5h-3.5zM564.7 1141.6h3.5v3.5h-3.5zM517 1147.7h3.5v3.5h-3.5z"/><path fill="#f40404" d="M517 1014.9h3.5v3.5h-3.5z"/><path fill="#d40404" d="M561.7 1014.9h3.5v3.5h-3.5zM561.7 1138.6h3.5v3.5h-3.5zM561.7 1141.6h3.5v3.5h-3.5z"/><path fill="#fc4404" d="M564.7 1014.9h3.5v3.5h-3.5zM558.7 1150.7h3.5v3.5h-3.5z"/><path fill="#e40404" d="M561.7 1018h3.5v3.5h-3.5z"/><path fill="#fc7c04" d="M514 1021h3.5v3.5h-3.5zM523 1021h3.5v3.5h-3.5zM523 1024h3.5v3.5h-3.5zM523 1126.5h3.5v3.5h-3.5zM523 1129.6h3.5v3.5h-3.5zM523 1132.6h3.5v3.5h-3.5zM564.7 1132.6h3.5v3.5h-3.5zM523 1135.6h3.5v3.5h-3.5zM564.7 1147.7h3.5v3.5h-3.5zM561.7 1150.7h3.5v3.5h-3.5z"/><path fill="#fc3c04" d="M517 1021h3.5v3.5h-3.5zM558.7 1129.6h3.5v3.5h-3.5zM561.7 1132.6h3.5v3.5h-3.5zM561.7 1147.7h3.5v3.5h-3.5z"/><path fill="#fc9c04" d="M567.7 1021h3.5v3.5h-3.5zM514 1024h3.5v3.5h-3.5zM561.7 1027h3.5v3.5h-3.5zM520 1126.5h3.5v3.5h-3.5zM511 1135.6h3.5v3.5h-3.5zM511 1144.6h3.5v3.5h-3.5zM558.7 1153.7h3.5v3.5h-3.5z"/><path fill="#ccfc24" d="M582.5 1027h3.5v3.5h-3.5zM528.9 1147.7h3.5v3.5h-3.5z"/><path fill="#dcfc14" d="M520 1033h3.5v3.5h-3.5z"/><path fill="#0404f4" d="M537.9 1033h3.5v3.5h-3.5zM537.9 1042.1h3.5v3.5h-3.5zM540.8 1156.7h3.5v3.5h-3.5zM540.8 1162.7h3.5v3.5h-3.5z"/><path fill="#c4fc2c" d="M576.6 1033h3.5v3.5h-3.5zM582.5 1156.7h3.5v3.5h-3.5zM523 1159.7h3.5v3.5h-3.5z"/><path fill="#a4fc4c" d="M475.3 1036.1h3.5v3.5h-3.5zM487.2 1114.5h3.5v3.5h-3.5z"/><path fill="#0404dc" d="M537.9 1039.1h3.5v3.5h-3.5z"/><path fill="#0404bc" d="M540.8 1039.1h3.5v3.5h-3.5z"/><path fill="#0474fc" d="M546.8 1042.1h3.5v3.5h-3.5zM534.9 1048.1h3.5v3.5h-3.5zM546.8 1111.5h3.5v3.5h-3.5zM543.8 1120.5h3.5v3.5h-3.5zM540.8 1126.5h3.5v3.5h-3.5zM537.9 1153.7h3.5v3.5h-3.5zM543.8 1156.7h3.5v3.5h-3.5zM543.8 1171.8h3.5v3.5h-3.5z"/><path fill="#14fcdc" d="M552.8 1042.1h3.5v3.5h-3.5z"/><path fill="#045cfc" d="M537.9 1048.1h6.5v3.5h-6.5zM534.9 1108.4h3.5v3.5h-3.5zM543.8 1117.5h3.5v3.5h-3.5zM537.9 1171.8h3.5v3.5h-3.5z"/><path fill="#7cfc74" d="M493.2 1063.2h3.5v3.5h-3.5zM490.2 1069.2h3.5v3.5h-3.5zM579.6 1099.4h3.5v3.5h-3.5zM561.7 1168.8h3.5v3.5h-3.5zM579.6 1189.9h3.5v3.5h-3.5z"/><path fill="#0cecec" d="M546.8 1066.2h3.5v3.5h-3.5zM528.9 1177.8h3.5v3.5h-3.5z"/><path fill="#34fcbc" d="M517 1069.2h3.5v3.5h-3.5zM517 1072.3h3.5v3.5h-3.5zM517 1075.3h3.5v3.5h-3.5zM517 1078.3h3.5v3.5h-3.5zM517 1081.3h3.5v3.5h-3.5zM517 1084.3h3.5v3.5h-3.5zM552.8 1189.9h3.5v3.5h-3.5z"/><path fill="#04ecec" d="M537.9 1069.2h3.5v3.5h-3.5zM543.8 1183.9h3.5v3.5h-3.5z"/><path fill="#74fc7c" d="M493.2 1075.3h3.5v3.5h-3.5zM493.2 1078.3h3.5v3.5h-3.5zM511 1177.8h3.5v3.5h-3.5z"/><path fill="#0cfce4" d="M534.9 1075.3h3.5v3.5h-3.5zM531.9 1084.3h3.5v3.5h-3.5z"/><path fill="#0cfcec" d="M543.8 1075.3h3.5v3.5h-3.5zM543.8 1078.3h3.5v3.5h-3.5zM552.8 1111.5h3.5v3.5h-3.5zM549.8 1180.8h3.5v3.5h-3.5z"/><path fill="#6cfc84" d="M582.5 1078.3h3.5v3.5h-3.5z"/><path fill="#3cfcb4" d="M564.7 1087.3h3.5v3.5h-3.5zM517 1099.4h3.5v3.5h-3.5zM528.9 1117.5h3.5v3.5h-3.5z"/><path fill="#1cfcd4" d="M523 1093.4h3.5v3.5h-3.5z"/><path fill="#64fc8c" d="M508.1 1099.4h3.5v3.5h-3.5zM564.7 1177.8h3.5v3.5h-3.5z"/><path fill="#0404d4" d="M537.9 1114.5h3.5v3.5h-3.5z"/><path fill="#0404b4" d="M540.8 1114.5h3.5v3.5h-3.5z"/><path fill="#041cfc" d="M543.8 1114.5h3.5v3.5h-3.5zM537.9 1168.8h3.5v3.5h-3.5z"/><path fill="#0414fc" d="M537.9 1117.5h3.5v3.5h-3.5zM540.8 1168.8h3.5v3.5h-3.5z"/><path fill="#040cfc" d="M537.9 1123.5h3.5v3.5h-3.5zM537.9 1159.7h3.5v3.5h-3.5z"/><path fill="#54fc9c" d="M561.7 1177.8h3.5v3.5h-3.5z"/></g></g>
<circle cx="541.2" cy="1016.2" r="21.3" fill="#a00404" stroke="#3a0000" stroke-width="0.8"/>
<circle cx="541.2" cy="1141.4" r="21.3" fill="#a00404" stroke="#3a0000" stroke-width="0.8"/>
<path d="M539 969.7V1192.9M475.3 1081.9H603.4" stroke="#ff0c0c" stroke-width="3" stroke-dasharray="10 4" fill="none"/>
<rect x="475.3" y="969.7" width="128.1" height="223.2" fill="none" stroke="#000" stroke-width="2.6"/>
<text x="553" y="995" font-size="23" text-anchor="start" fill="#111" >Y</text>
<text x="570.2" y="1110" font-size="23" text-anchor="start" fill="#111" >X</text>
<g shape-rendering="crispEdges"><rect x="612" y="993.3" width="9.7" height="3.7" fill="#890000"/><rect x="612" y="996.5" width="9.7" height="3.7" fill="#9c0000"/><rect x="612" y="999.7" width="9.7" height="3.7" fill="#b00000"/><rect x="612" y="1002.9" width="9.7" height="3.7" fill="#c30000"/><rect x="612" y="1006.1" width="9.7" height="3.7" fill="#d60000"/><rect x="612" y="1009.3" width="9.7" height="3.7" fill="#ea0200"/><rect x="612" y="1012.5" width="9.7" height="3.7" fill="#fd1100"/><rect x="612" y="1015.7" width="9.7" height="3.7" fill="#ff2100"/><rect x="612" y="1018.9" width="9.7" height="3.7" fill="#ff3100"/><rect x="612" y="1022.1" width="9.7" height="3.7" fill="#ff4100"/><rect x="612" y="1025.3" width="9.7" height="3.7" fill="#ff5000"/><rect x="612" y="1028.5" width="9.7" height="3.7" fill="#ff6000"/><rect x="612" y="1031.7" width="9.7" height="3.7" fill="#ff7000"/><rect x="612" y="1034.9" width="9.7" height="3.7" fill="#ff8000"/><rect x="612" y="1038.1" width="9.7" height="3.7" fill="#ff8f00"/><rect x="612" y="1041.3" width="9.7" height="3.7" fill="#ff9f00"/><rect x="612" y="1044.5" width="9.7" height="3.7" fill="#ffaf00"/><rect x="612" y="1047.7" width="9.7" height="3.7" fill="#ffbe00"/><rect x="612" y="1050.9" width="9.7" height="3.7" fill="#ffce00"/><rect x="612" y="1054.1" width="9.7" height="3.7" fill="#ffde00"/><rect x="612" y="1057.3" width="9.7" height="3.7" fill="#feee00"/><rect x="612" y="1060.5" width="9.7" height="3.7" fill="#f0fd07"/><rect x="612" y="1063.7" width="9.7" height="3.7" fill="#e2ff15"/><rect x="612" y="1066.9" width="9.7" height="3.7" fill="#d5ff22"/><rect x="612" y="1070.1" width="9.7" height="3.7" fill="#c7ff30"/><rect x="612" y="1073.3" width="9.7" height="3.7" fill="#b9ff3e"/><rect x="612" y="1076.5" width="9.7" height="3.7" fill="#abff4b"/><rect x="612" y="1079.7" width="9.7" height="3.7" fill="#9eff59"/><rect x="612" y="1082.9" width="9.7" height="3.7" fill="#90ff67"/><rect x="612" y="1086.1" width="9.7" height="3.7" fill="#82ff75"/><rect x="612" y="1089.3" width="9.7" height="3.7" fill="#75ff82"/><rect x="612" y="1092.6" width="9.7" height="3.7" fill="#67ff90"/><rect x="612" y="1095.8" width="9.7" height="3.7" fill="#59ff9e"/><rect x="612" y="1099" width="9.7" height="3.7" fill="#4bffab"/><rect x="612" y="1102.2" width="9.7" height="3.7" fill="#3effb9"/><rect x="612" y="1105.4" width="9.7" height="3.7" fill="#30ffc7"/><rect x="612" y="1108.6" width="9.7" height="3.7" fill="#22ffd4"/><rect x="612" y="1111.8" width="9.7" height="3.7" fill="#15ffe2"/><rect x="612" y="1115" width="9.7" height="3.7" fill="#07eef0"/><rect x="612" y="1118.2" width="9.7" height="3.7" fill="#00ddfe"/><rect x="612" y="1121.4" width="9.7" height="3.7" fill="#00ccff"/><rect x="612" y="1124.6" width="9.7" height="3.7" fill="#00bbff"/><rect x="612" y="1127.8" width="9.7" height="3.7" fill="#00aaff"/><rect x="612" y="1131" width="9.7" height="3.7" fill="#0099ff"/><rect x="612" y="1134.2" width="9.7" height="3.7" fill="#0088ff"/><rect x="612" y="1137.4" width="9.7" height="3.7" fill="#0077ff"/><rect x="612" y="1140.6" width="9.7" height="3.7" fill="#0066ff"/><rect x="612" y="1143.8" width="9.7" height="3.7" fill="#0055ff"/><rect x="612" y="1147" width="9.7" height="3.7" fill="#0044ff"/><rect x="612" y="1150.2" width="9.7" height="3.7" fill="#0033ff"/><rect x="612" y="1153.4" width="9.7" height="3.7" fill="#0022ff"/><rect x="612" y="1156.6" width="9.7" height="3.7" fill="#0011ff"/><rect x="612" y="1159.8" width="9.7" height="3.7" fill="#0000ff"/><rect x="612" y="1163" width="9.7" height="3.7" fill="#0000fd"/><rect x="612" y="1166.2" width="9.7" height="3.7" fill="#0000ea"/><rect x="612" y="1169.4" width="9.7" height="3.7" fill="#0000d6"/><rect x="612" y="1172.6" width="9.7" height="3.7" fill="#0000c3"/><rect x="612" y="1175.8" width="9.7" height="3.7" fill="#0000b0"/><rect x="612" y="1179" width="9.7" height="3.7" fill="#00009c"/><rect x="612" y="1182.2" width="9.7" height="3.7" fill="#000089"/></g>
<text x="616.9" y="990" font-size="18" text-anchor="middle" fill="#222" >T</text>
<text x="624.9" y="1026.7" font-size="18.5" text-anchor="start" fill="#222" >0.16</text>
<text x="624.9" y="1067.6" font-size="18.5" text-anchor="start" fill="#222" >0.12</text>
<text x="630.3" y="1109.4" font-size="18.5" text-anchor="start" fill="#222" >0.08</text>
<text x="630.3" y="1151.3" font-size="18.5" text-anchor="start" fill="#222" >0.04</text>
<text x="630.3" y="1187.7" font-size="18.5" text-anchor="start" fill="#222" >0.00</text>
<text x="514.5" y="669.5" font-size="40" text-anchor="middle" fill="#111" >(a)</text>
<text x="514.5" y="1389.5" font-size="40" text-anchor="middle" fill="#111" >(b)</text>
</svg></body></html>
